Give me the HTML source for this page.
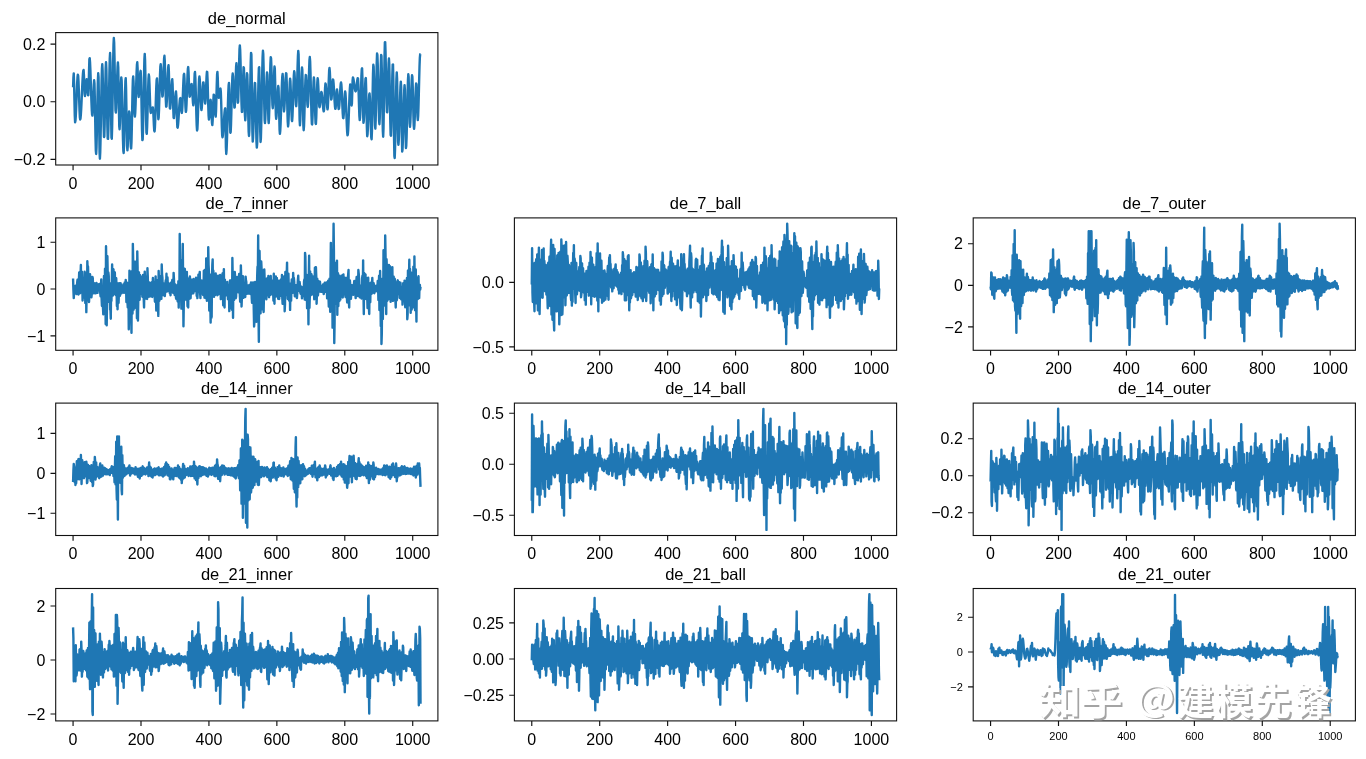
<!DOCTYPE html>
<html lang="zh">
<head>
<meta charset="utf-8">
<title>bearing signals</title>
<style>
html,body{margin:0;padding:0;background:#fff;}
body{width:1366px;height:759px;overflow:hidden;font-family:"Liberation Sans", "Noto Sans CJK SC", sans-serif;}
svg{display:block;will-change:transform;}
text{font-family:"Liberation Sans", "Noto Sans CJK SC", sans-serif;fill:#000;}
.ln{fill:none;stroke:#1f77b4;stroke-width:2.4;stroke-linejoin:round;stroke-linecap:butt;}
.fr{fill:none;stroke:#111;stroke-width:1.1;}
.tk{fill:none;stroke:#111;stroke-width:1.15;}
.tl{font-size:16px;}
.ts{font-size:11px;}
.tt{font-size:16.5px;}
.xm{text-anchor:middle;}
.ye{text-anchor:end;}
.wm{font-size:37px;font-family:"Noto Sans CJK SC","Liberation Sans",sans-serif;font-weight:700;}
.ws{fill:#a4a4a4;}
.wf{fill:#ffffff;}
</style>
</head>
<body>
<svg width="1366" height="759" viewBox="0 0 1366 759">
<rect width="1366" height="759" fill="#ffffff"/>
<g class="ax">
<path class="ln" d="M73.07 87.25L73.41 77.57L73.75 73.38L74.09 83.22L74.43 100.01L74.77 115.57L75.11 122.32L75.45 120.83L75.79 116.13L76.13 108.9L76.47 100.17L76.81 91.19L77.15 83.25L77.49 77.47L77.83 74.68L78.17 75.64L78.51 81.26L78.85 90.36L79.19 100.94L79.53 110.65L79.87 117.33L80.21 119.52L80.54 118.13L80.88 114.4L81.22 108.71L81.56 101.62L81.9 93.84L82.24 86.14L82.58 79.29L82.92 73.97L83.26 70.71L83.6 69.9L83.94 75.12L84.28 85.25L84.62 93.93L84.96 95.96L85.3 93.89L85.64 89.84L85.98 85.1L86.32 81.15L86.66 79.25L87 80.46L87.34 85.11L87.68 91L88.02 95.24L88.36 95.2L88.7 85.26L89.04 70.04L89.38 59.09L89.72 58.16L90.05 62.3L90.39 69.92L90.73 79.93L91.07 90.91L91.41 101.28L91.75 109.58L92.09 114.6L92.43 115.59L92.77 111.43L93.11 103L93.45 92.97L93.79 84.52L94.13 80.32L94.47 83.38L94.81 96.93L95.15 116.89L95.49 136.94L95.83 150.73L96.17 153.99L96.51 147.45L96.85 133.37L97.19 114.87L97.53 96.05L97.87 81.08L98.21 73.28L98.55 76.76L98.89 98.32L99.23 128.38L99.56 152.3L99.9 158.72L100.24 152.39L100.58 138.32L100.92 119.19L101.26 98.61L101.6 80.48L101.94 68.23L102.28 64.19L102.62 70.62L102.96 86.73L103.3 107.43L103.64 126.17L103.98 137.02L104.32 136.5L104.66 124.56L105 104.94L105.34 83.85L105.68 67.96L106.02 62.31L106.36 68.83L106.7 85.6L107.04 107.32L107.38 127.11L107.72 138.72L108.06 138.83L108.4 129.26L108.74 112.44L109.07 92.09L109.41 72.73L109.75 58.65L110.09 52.96L110.43 61.76L110.77 87.44L111.11 117.56L111.45 137.44L111.79 138.72L112.13 127.69L112.47 108.11L112.81 84.29L113.15 61.53L113.49 44.86L113.83 37.98L114.17 42.64L114.51 57.67L114.85 78.32L115.19 98.06L115.53 110.64L115.87 112.55L116.21 107.7L116.55 98.41L116.89 86.73L117.23 75.25L117.57 66.51L117.91 62.45L118.25 67.24L118.58 85.76L118.92 109.3L119.26 126.4L119.6 129.29L119.94 122.32L120.28 109.43L120.62 94.68L120.96 82.75L121.3 77.4L121.64 80.37L121.98 91.08L122.32 107.16L122.66 125.04L123 140.76L123.34 150.84L123.68 153.01L124.02 145.77L124.36 130.61L124.7 111.5L125.04 93.46L125.38 81.24L125.72 78.11L126.06 87.54L126.4 107.31L126.74 129.75L127.08 146.14L127.42 150.33L127.76 145.9L128.09 136.69L128.43 125.61L128.77 116.17L129.11 111.35L129.45 112.6L129.79 119.32L130.13 129.37L130.47 139.57L130.81 146.69L131.15 148.41L131.49 141.83L131.83 127.54L132.17 109.29L132.51 91.89L132.85 79.9L133.19 76.45L133.53 81.41L133.87 92.24L134.21 104.74L134.55 114.06L134.89 116.62L135.23 113.14L135.57 105.17L135.91 94.25L136.25 82.42L136.59 71.94L136.93 64.78L137.27 62.3L137.6 67.95L137.94 80.94L138.28 93.13L138.62 96.96L138.96 94.7L139.3 89.59L139.64 82.98L139.98 76.6L140.32 72.14L140.66 70.8L141 77.46L141.34 93.13L141.68 112.84L142.02 130.36L142.36 140.15L142.7 139.38L143.04 129.2L143.38 111.99L143.72 91.56L144.06 72.44L144.4 58.87L144.74 53.86L145.08 60L145.42 76.96L145.76 99.38L146.1 120.15L146.44 132.71L146.78 133.78L147.11 127.49L147.45 116.11L147.79 102.16L148.13 88.73L148.47 78.8L148.81 74.56L149.15 76.76L149.49 84.33L149.83 94.87L150.17 105.05L150.51 111.65L150.85 112.91L151.19 112.3L151.53 111.12L151.87 109.68L152.21 108.36L152.55 107.52L152.89 107.53L153.23 111.18L153.57 118.06L153.91 125.51L154.25 130.64L154.59 131.44L154.93 127.29L155.27 118.93L155.61 107.92L155.95 96.35L156.29 86.42L156.62 80.01L156.96 78.4L157.3 85L157.64 98.36L157.98 111.98L158.32 119.22L158.66 117.74L159 110.39L159.34 98.94L159.68 85.92L160.02 74.21L160.36 66.41L160.7 64.23L161.04 67.57L161.38 75.03L161.72 84.25L162.06 92.31L162.4 96.66L162.74 95.65L163.08 88.63L163.42 77.73L163.76 66.4L164.1 58.22L164.44 55.8L164.78 60.9L165.12 72.53L165.46 87L165.8 99.74L166.13 106.72L166.47 106.42L166.81 101.38L167.15 92.98L167.49 83.08L167.83 73.88L168.17 67.41L168.51 65.11L168.85 70.57L169.19 84.1L169.53 99.12L169.87 108.32L170.21 108.6L170.55 105.07L170.89 99.13L171.23 92.1L171.57 85.53L171.91 80.88L172.25 79.19L172.59 83.88L172.93 95.88L173.27 109.34L173.61 117.72L173.95 118.07L174.29 114.92L174.63 109.57L174.97 103.21L175.31 97.23L175.64 92.98L175.98 91.38L176.32 95.58L176.66 106.64L177 119.17L177.34 127.08L177.68 127.63L178.02 125.4L178.36 121.39L178.7 116.19L179.04 110.52L179.38 105.2L179.72 100.98L180.06 98.48L180.4 98.12L180.74 100.93L181.08 105.95L181.42 110.73L181.76 112.93L182.1 111.22L182.44 105.53L182.78 97.13L183.12 87.86L183.46 79.79L183.8 74.7L184.14 73.8L184.48 78.44L184.82 87.63L185.15 98.44L185.49 107.47L185.83 111.85L186.17 110.53L186.51 104.53L186.85 95.19L187.19 84.59L187.53 75.09L187.87 68.77L188.21 67.08L188.55 71.81L188.89 81.5L189.23 91.43L189.57 96.77L189.91 96.42L190.25 94L190.59 90.46L190.93 86.92L191.27 84.48L191.61 83.98L191.95 86.46L192.29 91.54L192.63 97.61L192.97 102.75L193.31 105.32L193.65 103.22L193.99 94.16L194.33 82.38L194.66 73.61L195 72.03L195.34 77.32L195.68 87.92L196.02 101.46L196.36 114.96L196.7 125.41L197.04 130.5L197.38 129.24L197.72 122.28L198.06 111.17L198.4 98.37L198.74 86.73L199.08 78.83L199.42 76.39L199.76 79.04L200.1 85.42L200.44 93.86L200.78 102.14L201.12 108.09L201.46 110.14L201.8 107.75L202.14 101.66L202.48 93.8L202.82 86.67L203.16 82.5L203.5 82.49L203.84 85.85L204.17 91.4L204.51 97.4L204.85 101.93L205.19 103.58L205.53 100.91L205.87 93.96L206.21 84.91L206.55 76.63L206.89 71.75L207.23 72.13L207.57 79.54L207.91 91.95L208.25 105.42L208.59 115.69L208.93 119.52L209.27 117.61L209.61 112.62L209.95 106.48L210.29 101.59L210.63 99.83L210.97 102.48L211.31 109.02L211.65 116.9L211.99 123.07L212.33 125.13L212.67 120.77L213.01 111.01L213.35 100.6L213.68 94.61L214.02 95.02L214.36 98.95L214.7 104.94L215.04 111.09L215.38 115.46L215.72 116.59L216.06 110.85L216.4 98.65L216.74 84.72L217.08 74.47L217.42 71.87L217.76 77.53L218.1 87.77L218.44 96.15L218.78 97.85L219.12 96.63L219.46 94.33L219.8 91.7L220.14 89.56L220.48 88.59L220.82 91.31L221.16 100.81L221.5 114.14L221.84 127.11L222.18 135.59L222.52 137.23L222.86 135.53L223.19 132.01L223.53 127.17L223.87 121.71L224.21 116.41L224.55 112.02L224.89 109.17L225.23 108.33L225.57 123.26L225.91 147.5L226.25 153.98L226.59 149.9L226.93 141.34L227.27 129.53L227.61 116.16L227.95 103.14L228.29 92.32L228.63 85.25L228.97 82.95L229.31 89.67L229.65 105.44L229.99 122.59L230.33 132.76L230.67 132.22L231.01 124.94L231.35 112.93L231.69 98.84L232.03 85.8L232.37 76.7L232.7 73.56L233.04 76.45L233.38 83.92L233.72 93.6L234.06 102.43L234.4 107.62L234.74 107.29L235.08 100.35L235.42 88.78L235.76 76.26L236.1 66.74L236.44 63.24L236.78 68.23L237.12 80.6L237.46 94.35L237.8 102.76L238.14 101.89L238.48 92.28L238.82 77.05L239.16 61.01L239.5 49.23L239.84 45.44L240.18 49.85L240.52 60.75L240.86 75.74L241.2 91.49L241.54 104.52L241.88 111.93L242.21 111.88L242.55 103.39L242.89 89.5L243.23 75.62L243.57 67.12L243.91 67.9L244.25 80.53L244.59 99.35L244.93 115.2L245.27 120.41L245.61 115.8L245.95 105.1L246.29 91.69L246.63 79.81L246.97 73.23L247.31 74.48L247.65 84.97L247.99 101.59L248.33 119.08L248.67 131.89L249.01 135.99L249.35 130.46L249.69 116.81L250.03 98.07L250.37 78.38L250.71 62.12L251.05 52.88L251.39 54.24L251.72 74.48L252.06 105.51L252.4 132.21L252.74 141.64L253.08 137.86L253.42 128.31L253.76 115.11L254.1 101.18L254.44 89.61L254.78 82.97L255.12 83.14L255.46 92.77L255.8 109.39L256.14 127.73L256.48 141.99L256.82 147.66L257.16 143.55L257.5 131.32L257.84 113.67L258.18 94.5L258.52 78.08L258.86 68.03L259.2 67.17L259.54 82.14L259.88 107.77L260.22 131.59L260.56 142L260.9 138.25L261.23 126.53L261.57 109.08L261.91 89.21L262.25 70.66L262.59 56.97L262.93 50.71L263.27 53.94L263.61 67.52L263.95 87.22L264.29 106.81L264.63 120.1L264.97 123.08L265.31 118.81L265.65 109.86L265.99 98.2L266.33 86.43L266.67 77.15L267.01 72.41L267.35 74.76L267.69 87.82L268.03 105.68L268.37 119.63L268.71 123.06L269.05 117.64L269.39 106.09L269.73 90.98L270.07 75.64L270.41 63.47L270.74 57.18L271.08 58.32L271.42 67.04L271.76 80.65L272.1 94.83L272.44 105.1L272.78 108.22L273.12 104.1L273.46 94.62L273.8 82.78L274.14 72.33L274.48 66.57L274.82 68.53L275.16 81.67L275.5 100.09L275.84 114.82L276.18 118.88L276.52 116.32L276.86 110.66L277.2 103.16L277.54 95.48L277.88 89.33L278.22 86.06L278.56 87.87L278.9 99.68L279.24 116.45L279.58 130.01L279.92 133.9L280.25 130.98L280.59 124.2L280.93 114.53L281.27 103.35L281.61 92.26L281.95 82.84L282.29 76.43L282.63 73.95L282.97 78.96L283.31 92.57L283.65 106.26L283.99 111.45L284.33 109.03L284.67 102.85L285.01 94.27L285.35 85.2L285.69 77.64L286.03 73.27L286.37 73.51L286.71 81.33L287.05 94.91L287.39 109.96L287.73 121.71L288.07 126.45L288.41 123.67L288.75 115.33L289.09 103.64L289.43 91.65L289.76 82.53L290.1 78.67L290.44 81.27L290.78 89.8L291.12 101.56L291.46 112.83L291.8 120.04L292.14 121.01L292.48 116.24L292.82 107.05L293.16 95.47L293.5 84.06L293.84 75.35L294.18 71.28L294.52 72.75L294.86 79.28L295.2 88.81L295.54 98.32L295.88 104.81L296.22 106.19L296.56 101.6L296.9 91.87L297.24 79.17L297.58 66.3L297.92 56.12L298.26 50.89L298.6 54.31L298.94 73.3L299.27 99.46L299.61 120.04L299.95 125.35L300.29 120.66L300.63 110.56L300.97 97.29L301.31 83.8L301.65 73.06L301.99 67.47L302.33 70.03L302.67 85.88L303.01 107.96L303.35 125.54L303.69 130.26L304.03 125.9L304.37 116.33L304.71 103.69L305.05 90.78L305.39 80.45L305.73 75L306.07 75.44L306.41 80.8L306.75 89.3L307.09 98.25L307.43 104.82L307.77 106.93L308.11 103.07L308.45 93.68L308.78 81.22L309.12 68.96L309.46 60.13L309.8 57.05L310.14 61.05L310.48 71.7L310.82 86.65L311.16 102.59L311.5 115.98L311.84 123.86L312.18 124.47L312.52 117.74L312.86 105.79L313.2 92.39L313.54 81.79L313.88 77.34L314.22 80.41L314.56 89.99L314.9 103.03L315.24 115.41L315.58 123.22L315.92 123.99L316.26 117.6L316.6 106.08L316.94 93.09L317.28 82.74L317.62 78.29L317.96 80.08L318.29 85.9L318.63 93.91L318.97 101.55L319.31 106.43L319.65 107.15L319.99 105.07L320.33 101.27L320.67 96.95L321.01 93.48L321.35 91.96L321.69 92.65L322.03 95.05L322.37 98.71L322.71 102.93L323.05 106.93L323.39 109.93L323.73 111.38L324.07 110.06L324.41 103.99L324.75 95.35L325.09 87.5L325.43 83.49L325.77 84.29L326.11 88.35L326.45 94.54L326.79 101.23L327.13 106.66L327.47 109.41L327.8 107.99L328.14 100.65L328.48 89.54L328.82 78.18L329.16 70.17L329.5 68.01L329.84 71.4L330.18 78.73L330.52 87.7L330.86 95.45L331.2 99.54L331.54 98.91L331.88 94.57L332.22 88.26L332.56 82.44L332.9 79.36L333.24 79.91L333.58 83.22L333.92 88.6L334.26 95.05L334.6 101.33L334.94 106.26L335.28 108.91L335.62 108.46L335.96 103.79L336.3 96.96L336.64 91.3L336.98 89.54L337.31 91.52L337.65 95.97L337.99 101.5L338.33 106.35L338.67 108.99L339.01 108.61L339.35 105.37L339.69 100.02L340.03 93.73L340.37 87.89L340.71 83.81L341.05 82.38L341.39 84.46L341.73 90.09L342.07 98.02L342.41 106.5L342.75 113.65L343.09 117.87L343.43 118.22L343.77 114.43L344.11 107.66L344.45 100.04L344.79 93.98L345.13 91.4L345.47 93.07L345.81 98.59L346.15 106.92L346.49 116.48L346.82 125.46L347.16 132.17L347.5 135.32L347.84 134.47L348.18 130.06L348.52 122.74L348.86 113.55L349.2 103.81L349.54 94.91L349.88 88.11L350.22 84.4L350.56 84.68L350.9 90.92L351.24 99.68L351.58 105.47L351.92 103.64L352.26 92.19L352.6 80.3L352.94 77.36L353.28 78.16L353.62 79.85L353.96 82.18L354.3 84.82L354.64 87.39L354.98 89.52L355.32 90.92L355.66 91.38L356 90.57L356.33 88.44L356.67 85.46L357.01 82.31L357.35 79.66L357.69 78.12L358.03 78.51L358.37 84.53L358.71 95.12L359.05 106.93L359.39 116.23L359.73 120.07L360.07 117.6L360.41 109.86L360.75 98.57L361.09 86.23L361.43 75.56L361.77 68.95L362.11 68.23L362.45 78.79L362.79 97.34L363.13 114.87L363.47 122.84L363.81 120.83L364.15 114.19L364.49 104.44L364.83 93.72L365.17 84.41L365.51 78.59L365.84 77.95L366.18 88.98L366.52 108.72L366.86 127.55L367.2 136.31L367.54 134.53L367.88 128.32L368.22 119.13L368.56 108.98L368.9 100.13L369.24 94.53L369.58 93.49L369.92 98.12L370.26 107.56L370.6 119.33L370.94 130.34L371.28 137.69L371.62 139.32L371.96 130.95L372.3 113.37L372.64 92.17L372.98 74.03L373.32 64.72L373.66 66.74L374 78.26L374.34 95.57L374.68 113.19L375.02 125.54L375.35 128.68L375.69 120.45L376.03 102.88L376.37 81.52L376.71 63.13L377.05 53.54L377.39 54.78L377.73 63.72L378.07 78.17L378.41 94.93L378.75 110.27L379.09 120.8L379.43 124.19L379.77 117.85L380.11 102.4L380.45 82.72L380.79 65.03L381.13 54.95L381.47 55.97L381.81 69.24L382.15 90.77L382.49 113.74L382.83 130.88L383.17 136.76L383.51 128.39L383.85 107.48L384.19 80.64L384.53 56.37L384.86 42.35L385.2 42.15L385.54 51.73L385.88 67.95L386.22 86.56L386.56 102.66L386.9 112.03L387.24 112.3L387.58 104.12L387.92 90.18L388.26 74.9L388.6 63.12L388.94 58.55L389.28 64.41L389.62 80.79L389.96 102.51L390.3 122.7L390.64 134.96L390.98 135.73L391.32 126.66L391.66 110.54L392 91.61L392.34 74.83L392.68 64.62L393.02 64.41L393.36 80.6L393.7 108.55L394.04 137.4L394.37 155.97L394.71 157.97L395.05 149.12L395.39 132.85L395.73 112.75L396.07 93.28L396.41 78.75L396.75 72.38L397.09 78.47L397.43 99.18L397.77 124.53L398.11 142.2L398.45 144.75L398.79 140.01L399.13 130.9L399.47 118.92L399.81 106.03L400.15 94.33L400.49 85.73L400.83 81.66L401.17 87.17L401.51 110.41L401.85 137.55L402.19 151.55L402.53 149.47L402.87 141.32L403.21 128.81L403.55 114.31L403.88 100.56L404.22 90.18L404.56 85.12L404.9 89.71L405.24 110.44L405.58 134.99L405.92 147.94L406.26 145.77L406.6 136.84L406.94 123.03L407.28 106.96L407.62 91.67L407.96 80.06L408.3 74.32L408.64 76.92L408.98 90.66L409.32 109.18L409.66 123.46L410 126.82L410.34 122.46L410.68 113.33L411.02 101.46L411.36 89.48L411.7 80.03L412.04 75.22L412.38 76.72L412.72 86.01L413.06 100.32L413.39 115.13L413.73 125.74L414.07 128.85L414.41 125.6L414.75 117.98L415.09 107.69L415.43 97.01L415.77 88.31L416.11 83.5L416.45 84.26L416.79 92.95L417.13 105.81L417.47 116.58L417.81 120.04L418.15 116.17L418.49 106.8L418.83 93.72L419.17 79.4L419.51 66.54L419.85 57.59L420.19 54.24L420.53 54.23"/>
<rect class="fr" x="55.7" y="32.6" width="382.2" height="132.4"/>
<path class="tk" d="M73.07 165v5.2M141 165v5.2M208.93 165v5.2M276.86 165v5.2M344.79 165v5.2M412.72 165v5.2M55.7 44.1h-5.2M55.7 101.7h-5.2M55.7 159.3h-5.2"/>
<text class="tl xm" x="73.07" y="188.6">0</text>
<text class="tl xm" x="141" y="188.6">200</text>
<text class="tl xm" x="208.93" y="188.6">400</text>
<text class="tl xm" x="276.86" y="188.6">600</text>
<text class="tl xm" x="344.79" y="188.6">800</text>
<text class="tl xm" x="412.72" y="188.6">1000</text>
<text class="tl ye" x="45.3" y="49.86">0.2</text>
<text class="tl ye" x="45.3" y="107.46">0.0</text>
<text class="tl ye" x="45.3" y="165.06">−0.2</text>
<text class="tt xm" x="246.8" y="23.7">de_normal</text>
</g>
<g class="ax">
<path class="ln" d="M73.07 278.48L73.41 289.84L73.75 298.13L74.09 293.38L74.43 292L74.77 288.13L75.11 286.78L75.45 285.8L75.79 286.74L76.13 292.07L76.47 294.04L76.81 291.21L77.15 282.98L77.49 279.8L77.83 282.17L78.17 291.42L78.51 294.53L78.85 281.79L79.19 272.5L79.53 279.95L79.87 293.4L80.21 289.77L80.54 274.15L80.88 265.01L81.22 292.58L81.56 292.41L81.9 271.81L82.24 280.31L82.58 300.46L82.92 291.37L83.26 280.36L83.6 285.63L83.94 297.6L84.28 293.07L84.62 271.63L84.96 280.64L85.3 302.87L85.64 296.76L85.98 273.93L86.32 312.16L86.66 291.21L87 298.28L87.34 261.27L87.68 270.15L88.02 266.49L88.36 279.27L88.7 298.48L89.04 302.01L89.38 293.3L89.72 279.91L90.05 274.32L90.39 278.44L90.73 288.89L91.07 295.21L91.41 297.24L91.75 294.44L92.09 283.79L92.43 276.97L92.77 278.05L93.11 288.05L93.45 293.05L93.79 293.29L94.13 289.14L94.47 283.72L94.81 283.33L95.15 287.19L95.49 293.31L95.83 293.25L96.17 287.89L96.51 283.02L96.85 286.1L97.19 292.04L97.53 292.88L97.87 287.5L98.21 284.43L98.55 286.39L98.89 290.23L99.23 289.01L99.56 283.9L99.9 284.91L100.24 293.19L100.58 296.25L100.92 286.9L101.26 279.46L101.6 298.44L101.94 305.99L102.28 291.97L102.62 287.5L102.96 307.4L103.3 314.4L103.64 290.15L103.98 276.04L104.32 305.41L104.66 306.19L105 268.76L105.34 279.12L105.68 324.07L106.02 246.3L106.36 267.52L106.7 325.25L107.04 300.73L107.38 256.31L107.72 273.59L108.06 301.64L108.4 272.51L108.74 276.01L109.07 301.9L109.41 290.56L109.75 283.18L110.09 309.69L110.43 309.53L110.77 318.71L111.11 289.9L111.45 300.98L111.79 282.75L112.13 264.45L112.47 290.98L112.81 295.61L113.15 269.09L113.49 269.26L113.83 293.93L114.17 290.3L114.51 274.48L114.85 272.48L115.19 287.69L115.53 295L115.87 285.38L116.21 278.28L116.55 287.11L116.89 306.03L117.23 300.24L117.57 309.35L117.91 283.42L118.25 296.32L118.58 302.87L118.92 291.95L119.26 283.19L119.6 287.22L119.94 295.73L120.28 293.08L120.62 283.11L120.96 285.98L121.3 293.36L121.64 292.13L121.98 286.17L122.32 287.48L122.66 292.45L123 290.39L123.34 284.41L123.68 288.86L124.02 292.88L124.36 285.13L124.7 282.55L125.04 292.05L125.38 292.45L125.72 279.86L126.06 285.16L126.4 301.93L126.74 288.79L127.08 282.78L127.42 300.56L127.76 307.53L128.09 286.07L128.43 288.52L128.77 329.22L129.11 309.18L129.45 270.6L129.79 303.21L130.13 320.05L130.47 288.48L130.81 278.79L131.15 316.82L131.49 332.74L131.83 271.18L132.17 290.92L132.51 313.49L132.85 243.87L133.19 261.16L133.53 309.65L133.87 283.37L134.21 261.45L134.55 308.23L134.89 299.79L135.23 263.52L135.57 291.26L135.91 301.53L136.25 261.55L136.59 271.44L136.93 318.14L137.27 251.35L137.6 267.11L137.94 320.58L138.28 299.59L138.62 274.5L138.96 272.38L139.3 297.98L139.64 299.74L139.98 275.07L140.32 277.07L140.66 292.45L141 293.88L141.34 282.03L141.68 276.83L142.02 286.74L142.36 296.76L142.7 292.05L143.04 274.9L143.38 278.76L143.72 298.65L144.06 307.48L144.4 285.85L144.74 271.64L145.08 281.64L145.42 298.67L145.76 295.16L146.1 277.67L146.44 276.44L146.78 293.5L147.11 299.04L147.45 268.19L147.79 276.76L148.13 290.98L148.47 296.79L148.81 285.16L149.15 282.55L149.49 292.99L149.83 296.59L150.17 285.38L150.51 283.15L150.85 293.54L151.19 291.99L151.53 282.38L151.87 285.21L152.21 296.99L152.55 288.85L152.89 277.99L153.23 288.38L153.57 294.22L153.91 286.44L154.25 282.39L154.59 294.96L154.93 301.8L155.27 287.46L155.61 276.34L155.95 294.3L156.29 310.56L156.62 297.51L156.96 280.32L157.3 286.43L157.64 302.8L157.98 303.34L158.32 315.9L158.66 270.96L159 282.34L159.34 300.82L159.68 299.07L160.02 285.55L160.36 276.12L160.7 279.16L161.04 292.8L161.38 298.87L161.72 264.45L162.06 274.33L162.4 277.35L162.74 289.48L163.08 295.01L163.42 291.72L163.76 283.37L164.1 284.06L164.44 290.42L164.78 296.15L165.12 292.53L165.46 282.94L165.8 280.18L166.13 285.14L166.47 273.8L166.81 291.61L167.15 279.24L167.49 277.49L167.83 285.63L168.17 291.04L168.51 290.43L168.85 285.11L169.19 283.61L169.53 287.5L169.87 293.34L170.21 291.07L170.55 295.32L170.89 282.79L171.23 287.99L171.57 292.09L171.91 287.97L172.25 279.96L172.59 279.84L172.93 291.75L173.27 292.87L173.61 272.87L173.95 278.85L174.29 288.36L174.63 295.02L174.97 289.99L175.31 284.47L175.64 288.35L175.98 297.93L176.32 298.95L176.66 286.84L177 285.42L177.34 296.04L177.68 301.45L178.02 298.62L178.36 281.25L178.7 307.48L179.04 283.02L179.38 295.36L179.72 233.95L180.06 265.94L180.4 260.07L180.74 271.27L181.08 295.53L181.42 308.66L181.76 308.43L182.1 285.72L182.44 269.1L182.78 243.87L183.12 282.12L183.46 326.19L183.8 303.51L184.14 294.83L184.48 268.69L184.82 268.82L185.15 278.92L185.49 295.29L185.83 299.66L186.17 291.17L186.51 276.36L186.85 271.86L187.19 291.57L187.53 306.24L187.87 298.23L188.21 307.48L188.55 278.74L188.89 292.95L189.23 298.85L189.57 286.92L189.91 276.57L190.25 285.7L190.59 298.18L190.93 288.75L191.27 279.78L191.61 286.4L191.95 293.63L192.29 284.65L192.63 279.62L192.97 290.94L193.31 293.39L193.65 279.01L193.99 282.82L194.33 291.44L194.66 285.92L195 280.41L195.34 290.03L195.68 290.51L196.02 277.62L196.36 285.8L196.7 296.04L197.04 281.72L197.38 298.13L197.72 292.41L198.06 286.44L198.4 274.74L198.74 290.72L199.08 291.77L199.42 275.79L199.76 271.93L200.1 292.29L200.44 298.13L200.78 283.7L201.12 292.43L201.46 280.79L201.8 280.48L202.14 293.5L202.48 287.75L202.82 280.85L203.16 295.07L203.5 293.25L203.84 270.67L204.17 282.37L204.51 297.66L204.85 276.87L205.19 269.75L205.53 298.03L205.87 295.04L206.21 258.35L206.55 273.59L206.89 300.69L207.23 277.57L207.57 258.08L207.91 293L208.25 247.24L208.59 265.07L208.93 271.57L209.27 310.43L209.61 293.8L209.95 274.41L210.29 301.83L210.63 322.45L210.97 277.76L211.31 282.74L211.65 317.38L211.99 279.39L212.33 264.55L212.67 259.4L213.01 295.22L213.35 270.77L213.68 291.31L214.02 296.92L214.36 275.23L214.7 275.78L215.04 295.12L215.38 285.19L215.72 273.4L216.06 291.99L216.4 292.9L216.74 276.66L217.08 282.74L217.42 295.34L217.76 281.68L218.1 275.68L218.44 294.39L218.78 290.17L219.12 275.59L219.46 285.49L219.8 290.5L220.14 274.86L220.48 277.72L220.82 299.13L221.16 284.33L221.5 276.09L221.84 291.93L222.18 291.78L222.52 273.48L222.86 286.77L223.19 305.29L223.53 281.4L223.87 269.13L224.21 296.83L224.55 307.48L224.89 279.58L225.23 289.08L225.57 295.59L225.91 285.22L226.25 283.05L226.59 292.97L226.93 292.08L227.27 281.92L227.61 286.7L227.95 299.12L228.29 294.97L228.63 285.14L228.97 294.62L229.31 311.11L229.65 296.14L229.99 280.56L230.33 294.25L230.67 308.13L231.01 297.08L231.35 280.17L231.69 281.78L232.03 309.86L232.37 257.9L232.7 275.69L233.04 317.77L233.38 281.69L233.72 298.99L234.06 299.97L234.4 284.21L234.74 271.83L235.08 275.51L235.42 290.34L235.76 298.25L236.1 296.63L236.44 283.98L236.78 277.59L237.12 277.03L237.46 284.88L237.8 291.66L238.14 292.21L238.48 287.93L238.82 277.82L239.16 273.96L239.5 279.17L239.84 295.53L240.18 301.78L240.52 292.53L240.86 265.39L241.2 277.7L241.54 306.55L241.88 297.82L242.21 297.09L242.55 282.68L242.89 276.18L243.23 285.65L243.57 297.88L243.91 295.88L244.25 286.05L244.59 282.99L244.93 287.51L245.27 296.99L245.61 276.61L245.95 280.37L246.29 281.72L246.63 291.66L246.97 293.79L247.31 288.38L247.65 285.5L247.99 287.49L248.33 293.67L248.67 293.51L249.01 287.35L249.35 285.06L249.69 287.94L250.03 293.69L250.37 294.06L250.71 287.01L251.05 282.35L251.39 283.57L251.72 297.82L252.06 302.88L252.4 299.51L252.74 287.35L253.08 282.43L253.42 288.56L253.76 309.79L254.1 326.49L254.44 321.37L254.78 294.27L255.12 281.91L255.46 283.21L255.8 299.94L256.14 316.85L256.48 321.83L256.82 311.31L257.16 276.94L257.5 266.68L257.84 277.4L258.18 235.45L258.52 315.42L258.86 341.72L259.2 262.66L259.54 250.97L259.88 272.47L260.22 312.08L260.56 313.3L260.9 280.98L261.23 261.45L261.57 268.2L261.91 306.55L262.25 309.29L262.59 279.73L262.93 270.66L263.27 288.25L263.61 312.08L263.95 295.95L264.29 269.54L264.63 278.88L264.97 294.86L265.31 290.62L265.65 278.63L265.99 281.83L266.33 299.32L266.67 293.28L267.01 278.51L267.35 282.27L267.69 293.56L268.03 287.77L268.37 276.02L268.71 290.58L269.05 297.22L269.39 282.31L269.73 282.4L270.07 295.17L270.41 288.83L270.74 276L271.08 293.38L271.42 294.32L271.76 280.4L272.1 291.05L272.44 294.15L272.78 281.18L273.12 291.67L273.46 300.77L273.8 273.8L274.14 291.91L274.48 303.74L274.82 279.51L275.16 293.16L275.5 294.87L275.84 276.49L276.18 296.44L276.52 293.73L276.86 277.93L277.2 295.45L277.54 291.18L277.88 283.7L278.22 298.68L278.56 289.76L278.9 280.64L279.24 299.03L279.58 289.62L279.92 282.25L280.25 295.99L280.59 291.26L280.93 279.55L281.27 295.74L281.61 294.26L281.95 275.05L282.29 297.87L282.63 303.87L282.97 281.37L283.31 285.91L283.65 302.15L283.99 286.47L284.33 276.24L284.67 311.22L285.01 304.12L285.35 272.06L285.69 275.53L286.03 294.48L286.37 291.32L286.71 274.8L287.05 262.58L287.39 290.95L287.73 298.93L288.07 280.07L288.41 273.64L288.75 287.09L289.09 300.59L289.43 298.55L289.76 283.5L290.1 309.91L290.44 289.01L290.78 299.82L291.12 300.72L291.46 285.13L291.8 279.35L292.14 281.51L292.48 290.59L292.82 292.77L293.16 272.87L293.5 280.88L293.84 277.92L294.18 281.48L294.52 290.96L294.86 296.37L295.2 293.89L295.54 288.57L295.88 285.2L296.22 285.24L296.56 291.07L296.9 298.13L297.24 293.76L297.58 285.36L297.92 279.69L298.26 275.68L298.6 288.59L298.94 290.91L299.27 288.44L299.61 281.96L299.95 285.1L300.29 292.5L300.63 293.74L300.97 289.6L301.31 286.77L301.65 290.39L301.99 298.37L302.33 294.21L302.67 287.48L303.01 289.96L303.35 295.7L303.69 293.88L304.03 281.52L304.37 279.5L304.71 299.6L305.05 252.85L305.39 256.38L305.73 281.82L306.07 299.97L306.41 280.38L306.75 274.96L307.09 308.13L307.43 305.32L307.77 278.97L308.11 288.72L308.45 324.32L308.78 277.16L309.12 255.66L309.46 307.88L309.8 296.76L310.14 271.38L310.48 288.07L310.82 295.25L311.16 275.39L311.5 274.07L311.84 294.19L312.18 286.59L312.52 276.25L312.86 292.64L313.2 294.54L313.54 278L313.88 280.22L314.22 299.2L314.56 288.52L314.9 267.73L315.24 289.69L315.58 298.51L315.92 267.26L316.26 275.97L316.6 303.74L316.94 293.46L317.28 278.8L317.62 281.83L317.96 295.43L318.29 291.36L318.63 281.31L318.97 283.97L319.31 291.54L319.65 289.23L319.99 281.75L320.33 286.03L320.67 291.8L321.01 291.01L321.35 285.84L321.69 286.75L322.03 291.88L322.37 291.93L322.71 287.31L323.05 284.43L323.39 288.12L323.73 294.13L324.07 292.19L324.41 285.04L324.75 282.68L325.09 287.66L325.43 291.82L325.77 290.83L326.11 284.78L326.45 282.55L326.79 287.33L327.13 298.38L327.47 296.48L327.8 283.42L328.14 280.79L328.48 296.5L328.82 306.63L329.16 294.99L329.5 278.73L329.84 286.65L330.18 311.7L330.52 274.89L330.86 242.87L331.2 293.28L331.54 304.18L331.88 250.92L332.22 269.78L332.56 327.65L332.9 257.93L333.24 258.3L333.58 223.66L333.92 250.8L334.26 343.03L334.6 322.27L334.94 262.71L335.28 283.55L335.62 303.62L335.96 266.6L336.3 295.61L336.64 297.14L336.98 260.59L337.31 314.83L337.65 283.27L337.99 273.13L338.33 305.96L338.67 277.09L339.01 279.97L339.35 300.96L339.69 275.64L340.03 281.03L340.37 299.52L340.71 276.34L341.05 277.59L341.39 293.45L341.73 284.05L342.07 275.52L342.41 293.31L342.75 297.48L343.09 277.39L343.43 274.53L343.77 292.7L344.11 294.33L344.45 278.88L344.79 277.55L345.13 292.69L345.47 296.98L345.81 288.27L346.15 278.03L346.49 281.59L346.82 296.25L347.16 302.51L347.5 290.54L347.84 278.13L348.18 274.35L348.52 270.06L348.86 301.1L349.2 307.48L349.54 283.98L349.88 280.34L350.22 284.53L350.56 295L350.9 298.89L351.24 294.86L351.58 286.48L351.92 285.23L352.26 286.03L352.6 289.78L352.94 293.35L353.28 294.73L353.62 291.3L353.96 283.78L354.3 280.98L354.64 282.02L354.98 288.31L355.32 292.97L355.66 298.13L356 289.33L356.33 280.7L356.67 276.87L357.01 279.1L357.35 289.81L357.69 295.95L358.03 290.54L358.37 270.06L358.71 273.29L359.05 278.47L359.39 290.55L359.73 297.41L360.07 294.41L360.41 286.5L360.75 285.68L361.09 290.28L361.43 298.49L361.77 297.26L362.11 278.38L362.45 275.78L362.79 290.45L363.13 260.33L363.47 293.75L363.81 314.03L364.15 272.99L364.49 296.49L364.83 298.88L365.17 276.21L365.51 274.35L365.84 294.7L366.18 299.16L366.52 283.05L366.86 278.47L367.2 295.52L367.54 308.06L367.88 284.33L368.22 277.81L368.56 303.42L368.9 306.38L369.24 314.03L369.58 283.62L369.92 298.11L370.26 302.25L370.6 284.94L370.94 282.6L371.28 293.55L371.62 293.84L371.96 283.09L372.3 277.87L372.64 288.52L372.98 292.63L373.32 287.9L373.66 283.22L374 286.93L374.34 293.22L374.68 289.97L375.02 286.05L375.35 287.8L375.69 291.08L376.03 291.24L376.37 285.7L376.71 285.86L377.05 291.09L377.39 289.15L377.73 280.84L378.07 285.17L378.41 299.97L378.75 286.78L379.09 275.77L379.43 309.93L379.77 309.85L380.11 270.91L380.45 297.73L380.79 325.99L381.13 279.58L381.47 343.96L381.81 333.44L382.15 291.34L382.49 278.68L382.83 318.92L383.17 301.81L383.51 250.28L383.85 305.82L384.19 300.43L384.53 252.71L384.86 294.7L385.2 235.45L385.54 254.57L385.88 281.21L386.22 314.06L386.56 259.2L386.9 269.35L387.24 300.74L387.58 272.39L387.92 265.95L388.26 299.53L388.6 287.04L388.94 264.93L389.28 294.37L389.62 294.23L389.96 266.17L390.3 283.76L390.64 301.81L390.98 274.71L391.32 271.05L391.66 299.3L392 288.44L392.34 267.08L392.68 287.73L393.02 300.86L393.36 279.34L393.7 276.66L394.04 299.93L394.37 298.57L394.71 278.64L395.05 282.08L395.39 299.4L395.73 307.48L396.07 282.98L396.41 283.68L396.75 300.18L397.09 298.27L397.43 281.27L397.77 280.28L398.11 291.69L398.45 294.12L398.79 285.66L399.13 282.22L399.47 289.11L399.81 298.03L400.15 292.07L400.49 282.78L400.83 287.82L401.17 299.28L401.51 298.01L401.85 287.21L402.19 287.18L402.53 304.67L402.87 300.4L403.21 283.29L403.55 284.9L403.88 298.71L404.22 296.32L404.56 280.61L404.9 286.31L405.24 307.27L405.58 289.51L405.92 280.58L406.26 304.6L406.6 302.27L406.94 277.92L407.28 319.27L407.62 314.6L407.96 270.47L408.3 290.61L408.64 305.31L408.98 275.89L409.32 259.77L409.66 304.75L410 269.03L410.34 283.21L410.68 312.73L411.02 272.35L411.36 284.69L411.7 309.47L412.04 283.55L412.38 282.79L412.72 307.57L413.06 285.02L413.39 266.61L413.73 307.13L414.07 304.24L414.41 256.41L414.75 284.56L415.09 310.14L415.43 286.24L415.77 269.56L416.11 302.13L416.45 321.51L416.79 281.78L417.13 279.13L417.47 298.81L417.81 298.96L418.15 277.73L418.49 276.28L418.83 293.46L419.17 298.11L419.51 286.53L419.85 284.96L420.19 289.57L420.53 286.74"/>
<rect class="fr" x="55.7" y="217.9" width="382.2" height="132.4"/>
<path class="tk" d="M73.07 350.3v5.2M141 350.3v5.2M208.93 350.3v5.2M276.86 350.3v5.2M344.79 350.3v5.2M412.72 350.3v5.2M55.7 242.2h-5.2M55.7 289h-5.2M55.7 335.8h-5.2"/>
<text class="tl xm" x="73.07" y="373.9">0</text>
<text class="tl xm" x="141" y="373.9">200</text>
<text class="tl xm" x="208.93" y="373.9">400</text>
<text class="tl xm" x="276.86" y="373.9">600</text>
<text class="tl xm" x="344.79" y="373.9">800</text>
<text class="tl xm" x="412.72" y="373.9">1000</text>
<text class="tl ye" x="45.3" y="247.96">1</text>
<text class="tl ye" x="45.3" y="294.76">0</text>
<text class="tl ye" x="45.3" y="341.56">−1</text>
<text class="tt xm" x="246.8" y="209">de_7_inner</text>
</g>
<g class="ax">
<path class="ln" d="M531.77 284.58L532.11 248.17L532.45 292.35L532.79 302.03L533.13 272.49L533.47 263.89L533.81 285.22L534.15 301.66L534.49 311.22L534.83 263.07L535.17 286.84L535.51 299.56L535.85 266.13L536.19 259.31L536.53 303.26L536.87 298.53L537.21 254.57L537.55 284.56L537.89 310.33L538.23 264.22L538.57 262.82L538.91 247.61L539.24 286.25L539.58 314.03L539.92 293.34L540.26 297.61L540.6 259.98L540.94 266.54L541.28 297.39L541.62 277.48L541.96 250.04L542.3 287.96L542.64 297.7L542.98 256.99L543.32 252.63L543.66 248.55L544 288.41L544.34 260.85L544.68 267.31L545.02 291.14L545.36 284.46L545.7 264.84L546.04 275.25L546.38 294.43L546.72 275.81L547.06 267.14L547.4 297.18L547.74 308.22L548.08 263.12L548.42 262.51L548.75 304.84L549.09 295.26L549.43 256.76L549.77 277.04L550.11 306.02L550.45 268.22L550.79 251.74L551.13 239.75L551.47 314.39L551.81 255.67L552.15 254.83L552.49 319.7L552.83 314.36L553.17 244.85L553.51 257.41L553.85 322.62L554.19 330.49L554.53 248.86L554.87 263.57L555.21 310.77L555.55 299.99L555.89 262.28L556.23 268.93L556.57 311.41L556.91 303.94L557.25 255.35L557.59 261.26L557.93 311.11L558.26 306.74L558.6 252.83L558.94 255.26L559.28 324.32L559.62 310.66L559.96 258.89L560.3 251.59L560.64 298.86L560.98 315.07L561.32 239.57L561.66 247.62L562 264.48L562.34 314.46L562.68 306.03L563.02 250.09L563.36 245.92L563.7 289.14L564.04 297.25L564.38 269.67L564.72 245.41L565.06 266.22L565.4 305.28L565.74 291.76L566.08 242L566.42 260.57L566.76 295.55L567.1 289.97L567.44 255.7L567.77 261.53L568.11 292.98L568.45 291.1L568.79 264.76L569.13 267.07L569.47 292.81L569.81 292.56L570.15 267.87L570.49 266.31L570.83 296.27L571.17 300.37L571.51 262.83L571.85 305.61L572.19 289.47L572.53 301.91L572.87 272.72L573.21 252.9L573.55 265.96L573.89 245.18L574.23 288.63L574.57 258.47L574.91 260.8L575.25 295.07L575.59 303.07L575.93 274.17L576.27 262.92L576.61 277.68L576.95 294.32L577.28 289.81L577.62 271.51L577.96 273.85L578.3 289.53L578.64 290.34L578.98 273.03L579.32 267.01L579.66 284.58L580 291.01L580.34 256.03L580.68 258.41L581.02 297.19L581.36 294.32L581.7 266.67L582.04 263.37L582.38 287.8L582.72 286.46L583.06 268.18L583.4 278.7L583.74 292.53L584.08 273.4L584.42 274.03L584.76 300.12L585.1 278.51L585.44 273.44L585.78 304.67L586.12 279.54L586.46 270.83L586.79 292.01L587.13 277.96L587.47 272.25L587.81 291.3L588.15 276.24L588.49 266.73L588.83 295.64L589.17 281.6L589.51 262.58L589.85 292.82L590.19 290.75L590.53 251.91L590.87 273.11L591.21 304.3L591.55 271.86L591.89 257.69L592.23 282.45L592.57 295.91L592.91 282.07L593.25 264.63L593.59 269.78L593.93 294.14L594.27 296.71L594.61 275.25L594.95 267.41L595.29 272.05L595.63 294.3L595.97 296.36L596.3 275.11L596.64 253.16L596.98 258.85L597.32 300.53L597.66 243.5L598 271.3L598.34 311.22L598.68 264.08L599.02 296.83L599.36 292.67L599.7 258.38L600.04 253.52L600.38 287.62L600.72 297.57L601.06 279.68L601.4 260.64L601.74 274.76L602.08 302.73L602.42 299.29L602.76 274.11L603.1 271.5L603.44 293.98L603.78 301.01L604.12 292.48L604.46 270.57L604.8 273.27L605.14 295.86L605.48 299.63L605.81 287.23L606.15 274.44L606.49 276.84L606.83 295.35L607.17 295.64L607.51 272.26L607.85 265.87L608.19 289.81L608.53 299.77L608.87 269.33L609.21 257.54L609.55 283.37L609.89 255.1L610.23 267.66L610.57 263.9L610.91 286.22L611.25 287.58L611.59 269.33L611.93 272.47L612.27 291.38L612.61 285.48L612.95 273.13L613.29 282.12L613.63 288.18L613.97 273.07L614.31 268.7L614.65 282.26L614.99 280.95L615.32 267.07L615.66 264.45L616 285.43L616.34 273.17L616.68 270.01L617.02 286.58L617.36 285.86L617.7 272.17L618.04 284.05L618.38 289.99L618.72 274.35L619.06 293.45L619.4 290.45L619.74 277.64L620.08 275.94L620.42 290.72L620.76 278.88L621.1 272.64L621.44 294.16L621.78 284.17L622.12 265.19L622.46 287.87L622.8 252.29L623.14 255.52L623.48 283.53L623.82 291.76L624.16 258.9L624.5 265.53L624.83 300.25L625.17 276.28L625.51 260.99L625.85 293.63L626.19 300.26L626.53 264.73L626.87 265.07L627.21 295.15L627.55 290.7L627.89 256.1L628.23 271.97L628.57 255.1L628.91 284.35L629.25 310.29L629.59 289.59L629.93 302.58L630.27 274.09L630.61 270.22L630.95 298.27L631.29 296.33L631.63 274.3L631.97 279.79L632.31 295.03L632.65 280.92L632.99 273.24L633.33 289.95L633.67 289.81L634.01 272.15L634.34 278.59L634.68 292.1L635.02 275.5L635.36 272.51L635.7 296.6L636.04 287.51L636.38 266.95L636.72 293.08L637.06 293.62L637.4 269.1L637.74 300L638.08 294.48L638.42 269.44L638.76 267.12L639.1 292.73L639.44 254.53L639.78 256.73L640.12 289.32L640.46 296.33L640.8 262.38L641.14 268.61L641.48 298.24L641.82 284.22L642.16 268.82L642.5 287.48L642.84 300.93L643.18 269.89L643.52 265.84L643.85 295.65L644.19 294.39L644.53 260.66L644.87 262.26L645.21 297.43L645.55 246.68L645.89 253.31L646.23 300.93L646.57 289.36L646.91 285.21L647.25 261.23L647.59 269.45L647.93 290.56L648.27 287.11L648.61 269.87L648.95 274.66L649.29 292.71L649.63 288.62L649.97 267.23L650.31 275.04L650.65 303.22L650.99 290.26L651.33 264.42L651.67 276.85L652.01 298L652.35 285L652.69 254.53L653.03 282.39L653.36 310.29L653.7 278.83L654.04 268.22L654.38 282.91L654.72 296.49L655.06 276.9L655.4 269.74L655.74 284.62L656.08 294.07L656.42 275.65L656.76 270.03L657.1 284.97L657.44 288.59L657.78 271.22L658.12 269.81L658.46 290.09L658.8 289.65L659.14 272.44L659.48 279.88L659.82 300.67L660.16 280.64L660.5 272.41L660.84 304.67L661.18 293.81L661.52 261.43L661.86 270.4L662.2 295.97L662.54 252.66L662.87 255.64L663.21 287.32L663.55 293.93L663.89 264.95L664.23 265.7L664.57 287.85L664.91 287.76L665.25 270.49L665.59 269.37L665.93 282.1L666.27 285.61L666.61 277.2L666.95 270.83L667.29 276.99L667.63 293.6L667.97 293.42L668.31 272.04L668.65 266.99L668.99 286.17L669.33 291.69L669.67 282.92L670.01 261.8L670.35 266.85L670.69 251.73L671.03 289.62L671.37 300.93L671.71 257.67L672.05 290.36L672.38 296.53L672.72 268.82L673.06 263.69L673.4 282.22L673.74 290.82L674.08 283.07L674.42 266.42L674.76 272.11L675.1 299.3L675.44 298.47L675.78 270.84L676.12 266.16L676.46 284.01L676.8 304.97L677.14 298.26L677.48 266.42L677.82 260.37L678.16 276.24L678.5 297.35L678.84 296.43L679.18 274.86L679.52 267.62L679.86 272.7L680.2 301.15L680.54 308.75L680.88 286.98L681.22 254.16L681.56 260.06L681.89 310.29L682.23 299.28L682.57 281.52L682.91 260.23L683.25 266.1L683.59 289.52L683.93 254.16L684.27 269.6L684.61 263.95L684.95 274.34L685.29 291.15L685.63 289.16L685.97 270.84L686.31 270.58L686.65 287.74L686.99 296.22L687.33 289.41L687.67 268.59L688.01 269.69L688.35 286.68L688.69 293.33L689.03 285.65L689.37 261.84L689.71 254.89L690.05 245.74L690.39 295.12L690.73 307.48L691.07 253.27L691.4 257.64L691.74 291.77L692.08 297.4L692.42 276.42L692.76 268.96L693.1 274.5L693.44 292.34L693.78 288.82L694.12 271.32L694.46 270.09L694.8 286.49L695.14 289.97L695.48 268.08L695.82 259.69L696.16 258.84L696.5 292.06L696.84 277.43L697.18 259.65L697.52 273.39L697.86 301.16L698.2 295.42L698.54 269.79L698.88 271.53L699.22 298.02L699.56 302.69L699.9 282.98L700.24 266.2L700.58 272.15L700.91 316.46L701.25 297.31L701.59 273.91L701.93 255.74L702.27 260.02L702.61 248.55L702.95 297.18L703.29 285.49L703.63 264.53L703.97 265.47L704.31 283.26L704.65 294.67L704.99 292L705.33 275.36L705.67 272.01L706.01 280.16L706.35 300.93L706.69 290.2L707.03 268.41L707.37 269.01L707.71 287.88L708.05 294.99L708.39 274.1L708.73 266.04L709.07 274.51L709.41 287.65L709.75 277.02L710.09 263.05L710.42 272.29L710.76 252.66L711.1 270.39L711.44 256.4L711.78 283.56L712.12 293.28L712.46 268.4L712.8 263.29L713.14 291.17L713.48 294.28L713.82 273.18L714.16 272.52L714.5 292.83L714.84 291.53L715.18 270.44L715.52 273.24L715.86 294.65L716.2 288.79L716.54 263.63L716.88 274.54L717.22 296.95L717.56 274.07L717.9 259.04L718.24 292.48L718.58 299.65L718.92 263.49L719.26 265.22L719.6 300.13L719.93 280.48L720.27 256.75L720.61 283.82L720.95 289.95L721.29 255.51L721.63 253.4L721.97 240.69L722.31 288.18L722.65 246.68L722.99 280.63L723.33 311.68L723.67 274.34L724.01 262.3L724.35 291.37L724.69 313.65L725.03 280.47L725.37 267.11L725.71 277.08L726.05 293.86L726.39 288.4L726.73 258.23L727.07 260.76L727.41 297.24L727.75 295.33L728.09 245.74L728.43 261.26L728.77 292.06L729.11 290.91L729.44 266.47L729.78 275.39L730.12 306.05L730.46 275.22L730.8 266.18L731.14 305.64L731.48 309.35L731.82 261.22L732.16 302.42L732.5 291.99L732.84 263.85L733.18 298.36L733.52 255.1L733.86 262.91L734.2 296.79L734.54 286.33L734.88 266.15L735.22 294.22L735.56 287.7L735.9 266.71L736.24 291.38L736.58 290.16L736.92 269.74L737.26 286.68L737.6 292.69L737.94 278.42L738.28 280.42L738.62 294.91L738.95 287.17L739.29 299.06L739.63 286.98L739.97 289.23L740.31 269.95L740.65 268.84L740.99 291.04L741.33 278.82L741.67 252.66L742.01 278.48L742.35 282.82L742.69 262.5L743.03 268.29L743.37 285.06L743.71 275.15L744.05 272.37L744.39 287.73L744.73 284.96L745.07 289.71L745.41 285.23L745.75 284.7L746.09 272.29L746.43 280.54L746.77 284.28L747.11 271.63L747.45 273.32L747.79 284.68L748.13 275.07L748.46 269.1L748.8 286.88L749.14 287.91L749.48 267.57L749.82 270.49L750.16 288.28L750.5 282.12L750.84 262.79L751.18 271.77L751.52 288.7L751.86 280.06L752.2 259.88L752.54 273.84L752.88 296.07L753.22 274.84L753.56 262.49L753.9 287.85L754.24 299.29L754.58 268.39L754.92 265.79L755.26 296.18L755.6 256.97L755.94 258.39L756.28 307.48L756.62 294.38L756.96 266.06L757.3 288.58L757.64 294.14L757.97 275.56L758.31 290.68L758.65 293.77L758.99 276.12L759.33 293.38L759.67 292.12L760.01 272.48L760.35 294.09L760.69 289.48L761.03 265.18L761.37 294.82L761.71 291.21L762.05 264.95L762.39 302.8L762.73 295.33L763.07 262.61L763.41 267.11L763.75 301.22L764.09 282.71L764.43 247.61L764.77 279.57L765.11 303.42L765.45 277.9L765.79 256.22L766.13 276.05L766.47 299.17L766.81 293.41L767.15 268.1L767.48 310.29L767.82 294.03L768.16 294.8L768.5 269.93L768.84 258.22L769.18 278.48L769.52 300.34L769.86 290.94L770.2 255.98L770.54 263.83L770.88 299.72L771.22 297.29L771.56 245.18L771.9 261.75L772.24 291.27L772.58 288.97L772.92 260.78L773.26 270.54L773.6 299.43L773.94 271.46L774.28 258.73L774.62 309.35L774.96 297.41L775.3 259.44L775.64 290.96L775.98 297.42L776.32 267.6L776.66 275.97L776.99 300.93L777.33 270.16L777.67 268.49L778.01 302.87L778.35 278.3L778.69 260.81L779.03 313.09L779.37 300.91L779.71 251.34L780.05 291.13L780.39 310.19L780.73 258.99L781.07 261.28L781.41 306.12L781.75 285.81L782.09 247.27L782.43 297.96L782.77 315.33L783.11 250.06L783.45 241.34L783.79 319.81L784.13 321.2L784.47 234.87L784.81 239.99L785.15 327.23L785.49 326.21L785.83 240.7L786.17 343.96L786.5 305.74L786.84 324.72L787.18 223.66L787.52 233.65L787.86 250.74L788.2 313.91L788.54 311.15L788.88 256.68L789.22 241.32L789.56 264.35L789.9 306.58L790.24 299.08L790.58 248.76L790.92 245.67L791.26 297.13L791.6 312.25L791.94 273.23L792.28 253.27L792.62 272.93L792.96 311.33L793.3 290.8L793.64 246.12L793.98 264.16L794.32 233.21L794.66 291.72L795 236.14L795.34 267.08L795.68 323.3L796.01 291.32L796.35 242.82L796.69 275.44L797.03 323.8L797.37 328.06L797.71 246.36L798.05 270.29L798.39 314.87L798.73 295.29L799.07 248.43L799.41 259.89L799.75 312.75L800.09 302.43L800.43 248.21L800.77 251.72L801.11 295.2L801.45 296.02L801.79 267.36L802.13 261.41L802.47 280.38L802.81 292.86L803.15 287.16L803.49 271.68L803.83 273.85L804.17 284.36L804.51 286.36L804.85 285.19L805.19 278.44L805.52 278.34L805.86 284.1L806.2 287.73L806.54 286.78L806.88 276.56L807.22 270.39L807.56 284.48L807.9 296.34L808.24 288.88L808.58 262.64L808.92 266.97L809.26 301.73L809.6 297.96L809.94 257.66L810.28 263.86L810.62 308.72L810.96 290.52L811.3 247.82L811.64 246.68L811.98 311.92L812.32 329L812.66 271.66L813 316.17L813.34 261.86L813.68 262.98L814.02 299.47L814.36 263.5L814.7 255.23L815.03 295.35L815.37 262.18L815.71 252.61L816.05 291.48L816.39 241.44L816.73 258.43L817.07 293.76L817.41 266.2L817.75 257.87L818.09 302.81L818.43 264.9L818.77 262.89L819.11 302.03L819.45 304.67L819.79 267.74L820.13 296.93L820.47 270.23L820.81 267.44L821.15 299.74L821.49 254.16L821.83 264.32L822.17 300.22L822.51 286.18L822.85 259.33L823.19 298.03L823.53 296.12L823.87 260.15L824.21 288.17L824.54 295.67L824.88 262.06L825.22 276.41L825.56 297.86L825.9 260.81L826.24 270.87L826.58 307.16L826.92 254.06L827.26 246.68L827.6 304.5L827.94 252.95L828.28 278.11L828.62 304.42L828.96 259.92L829.3 289.28L829.64 304.04L829.98 317.77L830.32 289.99L830.66 302.94L831 262.04L831.34 282.03L831.68 306.2L832.02 267.71L832.36 272.66L832.7 304.78L833.04 274.35L833.38 266.6L833.72 293.92L834.05 289.88L834.39 269.08L834.73 284.44L835.07 295.35L835.41 267.32L835.75 261.77L836.09 299.88L836.43 292.31L836.77 252.73L837.11 280.41L837.45 303.12L837.79 245.18L838.13 254.81L838.47 307.48L838.81 290.13L839.15 258.53L839.49 282.1L839.83 295.83L840.17 269.44L840.51 268.62L840.85 300.96L841.19 285.13L841.53 260.95L841.87 296.21L842.21 294.35L842.55 259.11L842.89 294.72L843.23 299.29L843.56 257.01L843.9 309.35L844.24 301.49L844.58 262.17L844.92 296.33L845.26 292.45L845.6 259.13L845.94 293.04L846.28 285.39L846.62 256.5L846.96 243.31L847.3 282.21L847.64 254.58L847.98 298.83L848.32 287.35L848.66 264.95L849 295.12L849.34 292.62L849.68 273.63L850.02 288.23L850.36 294.48L850.7 274.81L851.04 274.76L851.38 294.76L851.72 287.54L852.06 271L852.4 279.6L852.74 291.37L853.07 273.35L853.41 264.79L853.75 288.28L854.09 292.33L854.43 271.03L854.77 272.98L855.11 297.77L855.45 289.85L855.79 269.14L856.13 289.48L856.47 303.64L856.81 271.02L857.15 270.31L857.49 301.16L857.83 280.92L858.17 256.62L858.51 300.05L858.85 301L859.19 253.81L859.53 292.95L859.87 309.83L860.21 261.65L860.55 269.94L860.89 249.48L861.23 271.39L861.57 314.03L861.91 297.84L862.25 294.85L862.58 261.1L862.92 269.87L863.26 298.72L863.6 287.38L863.94 253.87L864.28 266.11L864.62 302.65L864.96 298.74L865.3 267.02L865.64 263.98L865.98 278.25L866.32 295.09L866.66 291.23L867 272.94L867.34 266.68L867.68 271.32L868.02 288.66L868.36 289.72L868.7 279.52L869.04 271.38L869.38 274.56L869.72 289.18L870.06 289.07L870.4 275.35L870.74 272.55L871.08 280.95L871.42 284.86L871.76 275.73L872.09 270.24L872.43 284.76L872.77 290.15L873.11 273.46L873.45 272.34L873.79 290.55L874.13 288.5L874.47 272.8L874.81 278.86L875.15 290.66L875.49 277.93L875.83 271.28L876.17 287.17L876.51 289.86L876.85 271.12L877.19 270.75L877.53 295.61L877.87 292.08L878.21 260.71L878.55 272.17L878.89 299.06L879.23 288.58"/>
<rect class="fr" x="514.4" y="217.9" width="382.2" height="132.4"/>
<path class="tk" d="M531.77 350.3v5.2M599.7 350.3v5.2M667.63 350.3v5.2M735.56 350.3v5.2M803.49 350.3v5.2M871.42 350.3v5.2M514.4 282.3h-5.2M514.4 346.9h-5.2"/>
<text class="tl xm" x="531.77" y="373.9">0</text>
<text class="tl xm" x="599.7" y="373.9">200</text>
<text class="tl xm" x="667.63" y="373.9">400</text>
<text class="tl xm" x="735.56" y="373.9">600</text>
<text class="tl xm" x="803.49" y="373.9">800</text>
<text class="tl xm" x="871.42" y="373.9">1000</text>
<text class="tl ye" x="504" y="288.06">0.0</text>
<text class="tl ye" x="504" y="352.66">−0.5</text>
<text class="tt xm" x="705.5" y="209">de_7_ball</text>
</g>
<g class="ax">
<path class="ln" d="M990.57 286.54L990.91 289.36L991.25 272.49L991.59 273.09L991.93 280.92L992.27 294.69L992.61 294.62L992.95 281.16L993.29 277.55L993.63 284.63L993.97 296.43L994.31 298.69L994.65 281.55L994.99 277.51L995.33 282.87L995.67 291.22L996.01 290.32L996.35 282.23L996.69 280.15L997.03 282.93L997.37 288.76L997.71 287.85L998.04 281.2L998.38 279.25L998.72 283.3L999.06 288.66L999.4 287.61L999.74 280.28L1000.08 279.21L1000.42 285.79L1000.76 288.65L1001.1 286L1001.44 279.69L1001.78 280.81L1002.12 289.69L1002.46 291.42L1002.8 281.69L1003.14 277.47L1003.48 285.77L1003.82 292.7L1004.16 288.72L1004.5 278.53L1004.84 281.17L1005.18 295.32L1005.52 291.34L1005.86 278.29L1006.2 279.52L1006.54 291.82L1006.88 275.3L1007.22 276.72L1007.55 282.47L1007.89 290.67L1008.23 282.45L1008.57 280.79L1008.91 287.56L1009.25 286.07L1009.59 282.02L1009.93 286.83L1010.27 287.55L1010.61 276.93L1010.95 286.37L1011.29 287.97L1011.63 270.17L1011.97 291.03L1012.31 295.07L1012.65 255.16L1012.99 300.17L1013.33 295.82L1013.67 244.04L1014.01 301.54L1014.35 294.56L1014.69 230.21L1015.03 306.16L1015.37 310.72L1015.71 261.82L1016.05 307.43L1016.39 332.74L1016.73 254.8L1017.06 271.57L1017.4 313.96L1017.74 273.7L1018.08 261.87L1018.42 305.17L1018.76 307.79L1019.1 260.09L1019.44 266.36L1019.78 311.62L1020.12 318.71L1020.46 261.12L1020.8 277.84L1021.14 306.13L1021.48 289.24L1021.82 270.06L1022.16 284.64L1022.5 303.07L1022.84 279.92L1023.18 269.59L1023.52 291.31L1023.86 295.03L1024.2 277.88L1024.54 277.33L1024.88 291.9L1025.22 289.32L1025.56 278.05L1025.9 282.45L1026.24 291.12L1026.57 280.79L1026.91 273.8L1027.25 289.56L1027.59 290.02L1027.93 277.07L1028.27 281.82L1028.61 290.55L1028.95 283.25L1029.29 279.95L1029.63 288.97L1029.97 289.17L1030.31 280.41L1030.65 283.46L1030.99 290.78L1031.33 282.56L1031.67 280.07L1032.01 288.84L1032.35 287.69L1032.69 277.55L1033.03 283.48L1033.37 290.58L1033.71 281.76L1034.05 280.39L1034.39 289.2L1034.73 288.5L1035.07 281.4L1035.41 282.78L1035.75 288.9L1036.08 291.58L1036.42 280.29L1036.76 282.46L1037.1 289.24L1037.44 287.47L1037.78 282.22L1038.12 282.18L1038.46 286.41L1038.8 287.32L1039.14 283.78L1039.48 280.84L1039.82 282.51L1040.16 287.38L1040.5 287.65L1040.84 283.57L1041.18 282.2L1041.52 284.06L1041.86 287.91L1042.2 287.21L1042.54 288.77L1042.88 281.16L1043.22 286.34L1043.56 288.71L1043.9 283.2L1044.24 279.38L1044.58 278.48L1044.92 287.02L1045.26 288.77L1045.59 279.78L1045.93 283.95L1046.27 287.65L1046.61 283.05L1046.95 281.59L1047.29 285.25L1047.63 286.24L1047.97 281.33L1048.31 279.14L1048.65 287.65L1048.99 287L1049.33 273.49L1049.67 277.87L1050.01 295.11L1050.35 276.3L1050.69 260.21L1051.03 288.95L1051.37 296.72L1051.71 260.03L1052.05 259.16L1052.39 299.93L1052.73 298.42L1053.07 249.48L1053.41 268.41L1053.75 312.16L1054.09 296.67L1054.43 267.32L1054.77 279.46L1055.1 304.85L1055.44 298.25L1055.78 270.63L1056.12 270.1L1056.46 299.7L1056.8 303.17L1057.14 274.57L1057.48 261.27L1057.82 276.4L1058.16 298.07L1058.5 295.46L1058.84 259.77L1059.18 264.85L1059.52 278.76L1059.86 297.52L1060.2 292.36L1060.54 277.51L1060.88 275.91L1061.22 281.33L1061.56 290.13L1061.9 289.94L1062.24 280.97L1062.58 278.58L1062.92 281.45L1063.26 287.33L1063.6 286.9L1063.94 280.36L1064.28 279.3L1064.61 287.77L1064.95 293.8L1065.29 278.48L1065.63 281.48L1065.97 295.32L1066.31 292.26L1066.65 285.96L1066.99 278.65L1067.33 287L1067.67 289.82L1068.01 278.48L1068.35 281.24L1068.69 288.68L1069.03 283.07L1069.37 280.79L1069.71 286.48L1070.05 285.04L1070.39 280.81L1070.73 285.52L1071.07 285.96L1071.41 281.13L1071.75 284.18L1072.09 286.73L1072.43 281.2L1072.77 280.37L1073.11 286.56L1073.45 285.63L1073.79 277.43L1074.12 276.61L1074.46 288.86L1074.8 289.71L1075.14 279.97L1075.48 281.03L1075.82 287.43L1076.16 287.81L1076.5 282.76L1076.84 281.01L1077.18 284.29L1077.52 288.06L1077.86 287.13L1078.2 282.58L1078.54 282.3L1078.88 286.83L1079.22 289.12L1079.56 285.93L1079.9 281.07L1080.24 282.31L1080.58 288.08L1080.92 288.26L1081.26 280.35L1081.6 281.12L1081.94 289.71L1082.28 288.97L1082.62 285.63L1082.96 281.31L1083.3 283.06L1083.63 287.25L1083.97 286.15L1084.31 281.13L1084.65 282.07L1084.99 286.95L1085.33 287.79L1085.67 280.19L1086.01 283.3L1086.35 298.2L1086.69 287.16L1087.03 276.6L1087.37 298.23L1087.71 303.87L1088.05 253.1L1088.39 267.45L1088.73 231.15L1089.07 259.8L1089.41 255.86L1089.75 324.11L1090.09 231.15L1090.43 237.85L1090.77 341.16L1091.11 308.23L1091.45 231.15L1091.79 264.62L1092.13 320.2L1092.47 273.96L1092.81 254.68L1093.14 294.83L1093.48 306.77L1093.82 264.66L1094.16 250.6L1094.5 301.33L1094.84 316.1L1095.18 268.13L1095.52 247.84L1095.86 289.34L1096.2 240.13L1096.54 289.06L1096.88 325.25L1097.22 272.8L1097.56 313.48L1097.9 303.78L1098.24 269.25L1098.58 270.17L1098.92 289.71L1099.26 292.72L1099.6 281.89L1099.94 275.95L1100.28 281.58L1100.62 292.66L1100.96 288.97L1101.3 276.55L1101.64 277.81L1101.98 289.04L1102.32 290.17L1102.65 281.76L1102.99 279.67L1103.33 286.78L1103.67 291.36L1104.01 284.93L1104.35 278.43L1104.69 285.01L1105.03 294.2L1105.37 286.51L1105.71 276.69L1106.05 286.51L1106.39 294.21L1106.73 280.03L1107.07 273.17L1107.41 270.62L1107.75 293.08L1108.09 298.13L1108.43 281.71L1108.77 294.21L1109.11 280.12L1109.45 278.93L1109.79 290.95L1110.13 285.93L1110.47 279L1110.81 288.99L1111.15 288.72L1111.49 279.33L1111.83 286.44L1112.16 290.7L1112.5 281.8L1112.84 278.48L1113.18 290.27L1113.52 291.58L1113.86 280.76L1114.2 287.44L1114.54 290.11L1114.88 281.61L1115.22 281.86L1115.56 287.92L1115.9 287.35L1116.24 281.51L1116.58 282.17L1116.92 288.83L1117.26 286.29L1117.6 280.27L1117.94 282.84L1118.28 288.03L1118.62 285.05L1118.96 278.14L1119.3 283.18L1119.64 290.02L1119.98 284.66L1120.32 276.61L1120.66 282.35L1121 290.64L1121.34 285.66L1121.67 277.96L1122.01 280.84L1122.35 288.08L1122.69 287.84L1123.03 280.5L1123.37 278.36L1123.71 285.71L1124.05 293.46L1124.39 291.11L1124.73 275.91L1125.07 272.18L1125.41 286L1125.75 304.93L1126.09 306.31L1126.43 267.29L1126.77 239.6L1127.11 248.9L1127.45 308.13L1127.79 328.07L1128.13 311.43L1128.47 250.89L1128.81 232.27L1129.15 262.67L1129.49 344.9L1129.83 335.44L1130.17 293.91L1130.51 240.31L1130.85 251.5L1131.18 303.47L1131.52 316.83L1131.86 301.67L1132.2 264.2L1132.54 266.06L1132.88 307.62L1133.22 314.3L1133.56 242.93L1133.9 251.67L1134.24 327.13L1134.58 311.37L1134.92 278.04L1135.26 262.11L1135.6 289.27L1135.94 303.2L1136.28 277.61L1136.62 268.19L1136.96 290.94L1137.3 300.58L1137.64 279.18L1137.98 273.44L1138.32 290.01L1138.66 294.5L1139 279.21L1139.34 275.24L1139.68 291.52L1140.02 295.59L1140.36 279.81L1140.69 276.99L1141.03 291.38L1141.37 292.95L1141.71 278.88L1142.05 276.62L1142.39 290.09L1142.73 291.29L1143.07 274.74L1143.41 277.27L1143.75 288.1L1144.09 289.41L1144.43 279.19L1144.77 276.92L1145.11 288.58L1145.45 291.3L1145.79 281.01L1146.13 278.32L1146.47 286.26L1146.81 289.11L1147.15 282.4L1147.49 278.27L1147.83 284.3L1148.17 289.35L1148.51 284.92L1148.85 276.76L1149.19 281.52L1149.53 276.61L1149.87 286.47L1150.2 279.68L1150.54 281.38L1150.88 289.36L1151.22 287.71L1151.56 280.38L1151.9 282.51L1152.24 288.87L1152.58 287.64L1152.92 282.58L1153.26 284.06L1153.6 288.92L1153.94 287.21L1154.28 281.1L1154.62 283.77L1154.96 289.32L1155.3 283.29L1155.64 279.22L1155.98 286.59L1156.32 288.65L1156.66 278.6L1157 279.2L1157.34 290.24L1157.68 285.04L1158.02 277.11L1158.36 275.11L1158.7 288.67L1159.04 291.58L1159.38 281.24L1159.71 289.31L1160.05 282.22L1160.39 279.01L1160.73 289.96L1161.07 288.99L1161.41 281.35L1161.75 286.85L1162.09 292.23L1162.43 280.53L1162.77 278.78L1163.11 292.92L1163.45 287.67L1163.79 268.03L1164.13 289.58L1164.47 304.99L1164.81 274.59L1165.15 271.99L1165.49 314.5L1165.83 301.35L1166.17 247.61L1166.51 287.75L1166.85 323.94L1167.19 270.61L1167.53 271.5L1167.87 298.75L1168.21 289.97L1168.55 270.69L1168.89 293.79L1169.22 298.28L1169.56 267.85L1169.9 283.91L1170.24 265.39L1170.58 269.94L1170.92 304.67L1171.26 303.57L1171.6 275.58L1171.94 275.1L1172.28 302.53L1172.62 280.13L1172.96 273.68L1173.3 298.13L1173.64 288.67L1173.98 277.22L1174.32 291.44L1174.66 291.54L1175 277.96L1175.34 281.77L1175.68 291.02L1176.02 284.04L1176.36 277.96L1176.7 286.8L1177.04 291.15L1177.38 282.81L1177.72 278.82L1178.06 284.88L1178.4 289.21L1178.73 286.52L1179.07 280.34L1179.41 281.8L1179.75 287.54L1180.09 288.46L1180.43 284.43L1180.77 281.32L1181.11 282.66L1181.45 288.29L1181.79 288.1L1182.13 281.11L1182.47 278.51L1182.81 283.19L1183.15 277.55L1183.49 284.48L1183.83 279.8L1184.17 281.27L1184.51 286.82L1184.85 286.11L1185.19 280.91L1185.53 281.8L1185.87 287.2L1186.21 286.49L1186.55 281.66L1186.89 287.84L1187.23 287.02L1187.57 285.52L1187.91 281.57L1188.24 283.11L1188.58 286.34L1188.92 285.11L1189.26 281.68L1189.6 282.91L1189.94 281.29L1190.28 286.01L1190.62 282.11L1190.96 282.03L1191.3 285.83L1191.64 287.12L1191.98 284.05L1192.32 282.11L1192.66 283.83L1193 286.5L1193.34 286.42L1193.68 283.72L1194.02 282.44L1194.36 285.25L1194.7 288.76L1195.04 287.17L1195.38 280.93L1195.72 280.99L1196.06 287.91L1196.4 289.67L1196.74 277.17L1197.08 277.57L1197.42 291.58L1197.75 289.11L1198.09 286.72L1198.43 281.17L1198.77 281.99L1199.11 286.47L1199.45 286.2L1199.79 280.81L1200.13 279.28L1200.47 292.12L1200.81 296.86L1201.15 281L1201.49 276.53L1201.83 298.61L1202.17 307.69L1202.51 270.33L1202.85 261.25L1203.19 311.94L1203.53 320.73L1203.87 255.75L1204.21 227.59L1204.55 314.29L1204.89 337.98L1205.23 249.86L1205.57 259.28L1205.91 323.66L1206.25 311.11L1206.59 261.76L1206.93 275.92L1207.26 307.88L1207.6 293.51L1207.94 263.89L1208.28 282.88L1208.62 309.03L1208.96 281.13L1209.3 254.01L1209.64 295.13L1209.98 251.35L1210.32 277.04L1210.66 319.64L1211 293.38L1211.34 301.24L1211.68 273.61L1212.02 263.3L1212.36 293.33L1212.7 299.54L1213.04 277.29L1213.38 275.65L1213.72 287.98L1214.06 289.88L1214.4 279.58L1214.74 278.91L1215.08 290.81L1215.42 289.1L1215.76 277.91L1216.1 282.35L1216.44 289.02L1216.77 282.71L1217.11 280.24L1217.45 288.3L1217.79 287.38L1218.13 278.96L1218.47 286.85L1218.81 288.31L1219.15 280.21L1219.49 283.75L1219.83 288.91L1220.17 281.37L1220.51 282.18L1220.85 290.53L1221.19 282.83L1221.53 279.5L1221.87 288.84L1222.21 287.11L1222.55 280.37L1222.89 286.36L1223.23 290.92L1223.57 281.52L1223.91 279.85L1224.25 291.58L1224.59 289.94L1224.93 280.31L1225.27 279.71L1225.61 288.26L1225.95 289.15L1226.28 281.61L1226.62 279.51L1226.96 285.82L1227.3 278.11L1227.64 286.17L1227.98 279.36L1228.32 280.88L1228.66 288.64L1229 289.64L1229.34 282.68L1229.68 280.49L1230.02 284.28L1230.36 290.92L1230.7 288.35L1231.04 281.57L1231.38 280.3L1231.72 291.58L1232.06 290.23L1232.4 281.97L1232.74 278.65L1233.08 284.43L1233.42 290.51L1233.76 275.68L1234.1 277.82L1234.44 281.92L1234.78 287.78L1235.12 284.25L1235.46 278.83L1235.79 284.38L1236.13 287.8L1236.47 283.01L1236.81 281.38L1237.15 287.54L1237.49 289.26L1237.83 278.63L1238.17 279.16L1238.51 291.1L1238.85 288.44L1239.19 273.73L1239.53 281.36L1239.87 309.48L1240.21 281.09L1240.55 251.86L1240.89 291.51L1241.23 326.5L1241.57 276.63L1241.91 237.11L1242.25 224.79L1242.59 332.69L1242.93 308.64L1243.27 240.98L1243.61 254.8L1243.95 321.44L1244.29 341.16L1244.63 279.66L1244.97 263.06L1245.3 277.97L1245.64 311.24L1245.98 309.95L1246.32 275.18L1246.66 260.09L1247 273.36L1247.34 305.95L1247.68 312.49L1248.02 292.41L1248.36 267.96L1248.7 265.54L1249.04 256.97L1249.38 305.48L1249.72 315.53L1250.06 286.99L1250.4 268.76L1250.74 273.2L1251.08 284.61L1251.42 297.73L1251.76 297.79L1252.1 289.85L1252.44 278.42L1252.78 278.54L1253.12 283.4L1253.46 291.36L1253.8 291.23L1254.14 287.53L1254.48 280.47L1254.81 279.93L1255.15 285.64L1255.49 291.68L1255.83 290.7L1256.17 282.44L1256.51 278.69L1256.85 281.05L1257.19 287.84L1257.53 288.16L1257.87 281.58L1258.21 276.26L1258.55 275.68L1258.89 287.9L1259.23 288.3L1259.57 280.36L1259.91 278.24L1260.25 283.5L1260.59 288.32L1260.93 285.73L1261.27 280.48L1261.61 281.83L1261.95 287.83L1262.29 287.99L1262.63 281.3L1262.97 280.76L1263.31 286.82L1263.65 287.08L1263.99 281.64L1264.32 281.12L1264.66 287.86L1265 287.71L1265.34 280.59L1265.68 282.05L1266.02 289.04L1266.36 285L1266.7 278.85L1267.04 287.36L1267.38 289.44L1267.72 279.06L1268.06 281.5L1268.4 290.95L1268.74 280.79L1269.08 278.45L1269.42 288.87L1269.76 275.68L1270.1 276.17L1270.44 291.58L1270.78 287.51L1271.12 277.31L1271.46 285.33L1271.8 288.07L1272.14 279.88L1272.48 281.83L1272.82 288.7L1273.16 280.91L1273.5 279.79L1273.83 288.45L1274.17 284.97L1274.51 279.35L1274.85 287.87L1275.19 288.11L1275.53 279.59L1275.87 286.04L1276.21 293.99L1276.55 273.36L1276.89 274.37L1277.23 304.49L1277.57 274.08L1277.91 260.09L1278.25 306.4L1278.59 290.99L1278.93 239.05L1279.27 301.3L1279.61 223.66L1279.95 238.57L1280.29 282.79L1280.63 331.12L1280.97 264.67L1281.31 336.48L1281.65 319.05L1281.99 281.07L1282.33 250.08L1282.67 307.78L1283.01 307.64L1283.34 256.05L1283.68 286.2L1284.02 317.76L1284.36 271.74L1284.7 269.7L1285.04 308.75L1285.38 289.33L1285.72 253.73L1286.06 249.48L1286.4 304.24L1286.74 257.78L1287.08 286.2L1287.42 304.27L1287.76 272.5L1288.1 275.82L1288.44 297.12L1288.78 278.48L1289.12 273.73L1289.46 295.88L1289.8 287.69L1290.14 275.7L1290.48 288.89L1290.82 290.49L1291.16 276.24L1291.5 279.87L1291.84 293.03L1292.18 286.42L1292.52 277.08L1292.85 283.7L1293.19 291.15L1293.53 286.36L1293.87 276.05L1294.21 278.28L1294.55 289.22L1294.89 291.79L1295.23 282.2L1295.57 275.65L1295.91 277.6L1296.25 288.11L1296.59 274.37L1296.93 287.46L1297.27 278.27L1297.61 275.78L1297.95 280.27L1298.29 289.95L1298.63 291.42L1298.97 285.99L1299.31 279.47L1299.65 279.97L1299.99 286.8L1300.33 289.74L1300.67 287.44L1301.01 280.67L1301.35 280.82L1301.69 288.15L1302.03 290.97L1302.36 285.41L1302.7 280.34L1303.04 282.34L1303.38 289.77L1303.72 288.7L1304.06 280.7L1304.4 280.58L1304.74 288.02L1305.08 289.83L1305.42 283.76L1305.76 281.44L1306.1 283.97L1306.44 288.32L1306.78 286.53L1307.12 281.02L1307.46 281.79L1307.8 287.31L1308.14 288.34L1308.48 283.06L1308.82 281.29L1309.16 285.51L1309.5 288.12L1309.84 285.19L1310.18 281.25L1310.52 284.3L1310.86 288.31L1311.2 285.6L1311.54 282.45L1311.87 285.53L1312.21 289.19L1312.55 283.69L1312.89 280.6L1313.23 288.76L1313.57 291.15L1313.91 280.67L1314.25 281.32L1314.59 294.43L1314.93 289.82L1315.27 273.45L1315.61 285.8L1315.95 299.91L1316.29 280.48L1316.63 271.77L1316.97 268.19L1317.31 304.25L1317.65 309.35L1317.99 276.42L1318.33 297.41L1318.67 297.81L1319.01 280.31L1319.35 279.47L1319.69 294.39L1320.03 295.88L1320.37 280.38L1320.71 277.27L1321.05 291.09L1321.38 295.5L1321.72 278.8L1322.06 270.06L1322.4 282.37L1322.74 292.18L1323.08 287.23L1323.42 275.97L1323.76 277.47L1324.1 289.96L1324.44 291.94L1324.78 281.91L1325.12 277.09L1325.46 281.16L1325.8 289.61L1326.14 289.22L1326.48 282.91L1326.82 281.87L1327.16 284.67L1327.5 288.27L1327.84 287.25L1328.18 283.13L1328.52 282.8L1328.86 286.88L1329.2 288.43L1329.54 286.15L1329.88 283.72L1330.22 284.74L1330.56 287.9L1330.89 287.05L1331.23 283.75L1331.57 283.52L1331.91 286.86L1332.25 287.26L1332.59 283.22L1332.93 282.64L1333.27 286.34L1333.61 286.93L1333.95 282.67L1334.29 282L1334.63 285.93L1334.97 281.29L1335.31 282.54L1335.65 283.2L1335.99 287.73L1336.33 286.96L1336.67 283.28L1337.01 285.93L1337.35 289.03L1337.69 286.04L1338.03 289.71"/>
<rect class="fr" x="973.2" y="217.9" width="382.2" height="132.4"/>
<path class="tk" d="M990.57 350.3v5.2M1058.5 350.3v5.2M1126.43 350.3v5.2M1194.36 350.3v5.2M1262.29 350.3v5.2M1330.22 350.3v5.2M973.2 243.7h-5.2M973.2 285.3h-5.2M973.2 326.9h-5.2"/>
<text class="tl xm" x="990.57" y="373.9">0</text>
<text class="tl xm" x="1058.5" y="373.9">200</text>
<text class="tl xm" x="1126.43" y="373.9">400</text>
<text class="tl xm" x="1194.36" y="373.9">600</text>
<text class="tl xm" x="1262.29" y="373.9">800</text>
<text class="tl xm" x="1330.22" y="373.9">1000</text>
<text class="tl ye" x="962.8" y="249.46">2</text>
<text class="tl ye" x="962.8" y="291.06">0</text>
<text class="tl ye" x="962.8" y="332.66">−2</text>
<text class="tt xm" x="1164.3" y="209">de_7_outer</text>
</g>
<g class="ax">
<path class="ln" d="M73.07 481.99L73.41 470.42L73.75 464L74.09 465.86L74.43 479.27L74.77 482.38L75.11 468.29L75.45 485L75.79 467.41L76.13 483.4L76.47 477.73L76.81 461.19L77.15 462.33L77.49 478.93L77.83 479.01L78.17 460.36L78.51 459.06L78.85 478.55L79.19 479.32L79.53 459.31L79.87 460.07L80.21 477.54L80.54 475.52L80.88 455.06L81.22 463.97L81.56 484.06L81.9 470.54L82.24 460.16L82.58 474.33L82.92 476.4L83.26 465.68L83.6 467.43L83.94 478.19L84.28 469.91L84.62 462.09L84.96 476.35L85.3 475.7L85.64 463.12L85.98 473.84L86.32 461.61L86.66 464.97L87 483.13L87.34 482.17L87.68 467.42L88.02 464.84L88.36 478.1L88.7 473.62L89.04 465.95L89.38 476.28L89.72 478.1L90.05 467.51L90.39 471.17L90.73 480.84L91.07 470.03L91.41 465.14L91.75 481.1L92.09 482.16L92.43 466.13L92.77 485.93L93.11 484.38L93.45 470.6L93.79 461.84L94.13 475.26L94.47 477.57L94.81 456.93L95.15 460.83L95.49 479.58L95.83 476.7L96.17 462.41L96.51 469.18L96.85 476.58L97.19 471.13L97.53 467.12L97.87 474.99L98.21 475.93L98.55 467.86L98.89 468.12L99.23 478.21L99.56 473.79L99.9 465.37L100.24 463.48L100.58 476.85L100.92 467.27L101.26 467.37L101.6 476.47L101.94 473.27L102.28 465.38L102.62 472.18L102.96 475.6L103.3 468.39L103.64 467.7L103.98 473.75L104.32 473.64L104.66 467.94L105 468.96L105.34 474.21L105.68 473.08L106.02 469.05L106.36 470.34L106.7 474.4L107.04 472.87L107.38 469.61L107.72 470.85L108.06 473.95L108.4 473.42L108.74 470.29L109.07 470.76L109.41 474.24L109.75 475.08L110.09 469.08L110.43 469.07L110.77 472.9L111.11 472.37L111.45 467.63L111.79 466.29L112.13 473.07L112.47 472.16L112.81 466.94L113.15 471.78L113.49 476.14L113.83 468.94L114.17 467.6L114.51 482.12L114.85 470.28L115.19 456.17L115.53 484.35L115.87 479.22L116.21 441.78L116.55 489.13L116.89 499.62L117.23 436.35L117.57 483.03L117.91 519.61L118.25 444.17L118.58 447.67L118.92 436.35L119.26 468.68L119.6 452.36L119.94 474.98L120.28 482.91L120.62 462.48L120.96 457.06L121.3 446.64L121.64 489.82L121.98 494.35L122.32 455.31L122.66 470.63L123 477.55L123.34 472.44L123.68 464.88L124.02 465.88L124.36 473.52L124.7 475.69L125.04 473.14L125.38 468.48L125.72 469.61L126.06 473.07L126.4 474.34L126.74 472.27L127.08 468.48L127.42 468.15L127.76 472.3L128.09 472.94L128.43 469.66L128.77 466.63L129.11 469.28L129.45 465.35L129.79 472.25L130.13 475.64L130.47 468.1L130.81 473.96L131.15 472.42L131.49 468.01L131.83 469.58L132.17 473.15L132.51 471.81L132.85 468.43L133.19 470.61L133.53 473.31L133.87 470.62L134.21 468.88L134.55 471.38L134.89 474.44L135.23 471.25L135.57 467.22L135.91 469.63L136.25 474.41L136.59 474.02L136.93 469.34L137.27 468.89L137.6 473.15L137.94 476.89L138.28 475.91L138.62 470.33L138.96 468.65L139.3 471.71L139.64 478.45L139.98 476.17L140.32 470.61L140.66 468.02L141 469.95L141.34 475.9L141.68 475.52L142.02 468.69L142.36 467.34L142.7 466.29L143.04 474.28L143.38 470.05L143.72 467.79L144.06 472.52L144.4 473.73L144.74 468.5L145.08 469.21L145.42 474.51L145.76 470.3L146.1 469.05L146.44 473.38L146.78 470.15L147.11 467.43L147.45 473.7L147.79 468.08L148.13 467.51L148.47 476.11L148.81 466.53L149.15 462.55L149.49 475.41L149.83 466.42L150.17 469.79L150.51 475.72L150.85 467.38L151.19 470.41L151.53 476.7L151.87 471.03L152.21 470.62L152.55 477.51L152.89 473.99L153.23 469.5L153.57 473.13L153.91 475.2L154.25 470.22L154.59 468.54L154.93 474.24L155.27 474.9L155.61 468.96L155.95 468.98L156.29 474.28L156.62 473.83L156.96 468.45L157.3 468.98L157.64 474.29L157.98 473.52L158.32 467.89L158.66 467.22L159 475.42L159.34 474.15L159.68 469.21L160.02 470L160.36 475.07L160.7 474.53L161.04 468.85L161.38 468.8L161.72 474.59L162.06 475.46L162.4 470.22L162.74 468.54L163.08 476.58L163.42 475.79L163.76 471.89L164.1 466.93L164.44 469.03L164.78 475.19L165.12 472.69L165.46 463.96L165.8 466.25L166.13 462.55L166.47 473.32L166.81 463.83L167.15 468.4L167.49 475.26L167.83 470.34L168.17 465.06L168.51 474.07L168.85 475.77L169.19 467.04L169.53 469.79L169.87 479.29L170.21 471.27L170.55 479.38L170.89 477.42L171.23 475.18L171.57 468.44L171.91 476.71L172.25 476.71L172.59 469.73L172.93 475.52L173.27 479.38L173.61 469.43L173.95 474.23L174.29 476.08L174.63 467.91L174.97 472.32L175.31 474.79L175.64 467.91L175.98 470.18L176.32 476.12L176.66 468.61L177 468.36L177.34 475.2L177.68 471.62L178.02 465.35L178.36 474.56L178.7 477.17L179.04 466.98L179.38 469.38L179.72 478.25L180.06 475.29L180.4 469.02L180.74 475.68L181.08 479.9L181.42 471.32L181.76 483.13L182.1 478L182.44 479.57L182.78 469L183.12 463.86L183.46 478.35L183.8 475.6L184.14 465.74L184.48 470.89L184.82 477.5L185.15 471.02L185.49 468.95L185.83 474.55L186.17 475.05L186.51 469.84L186.85 469.77L187.19 474.08L187.53 472.57L187.87 468.13L188.21 472.85L188.55 475.94L188.89 469.67L189.23 468.7L189.57 475.23L189.91 474.09L190.25 466.52L190.59 469.83L190.93 476.12L191.27 470.22L191.61 466.75L191.95 473.36L192.29 475.75L192.63 467.39L192.97 465.88L193.31 475.2L193.65 476.15L193.99 461.61L194.33 466.2L194.66 478.4L195 475.31L195.34 466.01L195.68 470.43L196.02 480.11L196.36 474.8L196.7 467.53L197.04 478.97L197.38 484.44L197.72 471.03L198.06 470.02L198.4 478.02L198.74 475.56L199.08 466.57L199.42 473.47L199.76 466.29L200.1 469.88L200.44 468.98L200.78 476.29L201.12 474.6L201.46 467.32L201.8 469.7L202.14 475.17L202.48 472.14L202.82 467.24L203.16 470.37L203.5 474.6L203.84 472.47L204.17 468.02L204.51 469.27L204.85 474.29L205.19 474.49L205.53 469.94L205.87 468.45L206.21 471.18L206.55 475.83L206.89 475.28L207.23 470.36L207.57 469.59L207.91 476.58L208.25 474.51L208.59 474.2L208.93 469.43L209.27 467.67L209.61 470.49L209.95 474.38L210.29 473.4L210.63 469.12L210.97 468.36L211.31 472.22L211.65 474.93L211.99 472L212.33 467.61L212.67 469.35L213.01 473.82L213.35 473.22L213.68 467.67L214.02 468.8L214.36 476.01L214.7 474.13L215.04 465.62L215.38 469.02L215.72 476.19L216.06 469.91L216.4 464.51L216.74 473.18L217.08 459.37L217.42 464.09L217.76 465.18L218.1 478.83L218.44 474.56L218.78 467.46L219.12 475.47L219.46 477.87L219.8 469.93L220.14 481.26L220.48 475.27L220.82 473.79L221.16 466.71L221.5 469.89L221.84 474.99L222.18 465.35L222.52 466.46L222.86 470.95L223.19 472.71L223.53 468.75L223.87 465.83L224.21 471.02L224.55 474.57L224.89 471.38L225.23 467.67L225.57 468.59L225.91 473.44L226.25 473.27L226.59 469.21L226.93 468.56L227.27 471.15L227.61 474.89L227.95 473.61L228.29 468.61L228.63 468.27L228.97 473.18L229.31 474.9L229.65 472.45L229.99 468.67L230.33 469.9L230.67 475.4L231.01 474.86L231.35 468.8L231.69 467.96L232.03 473.6L232.37 475.65L232.7 470.19L233.04 468.66L233.38 474.04L233.72 476.44L234.06 470.32L234.4 468.14L234.74 475.15L235.08 477.6L235.42 468.39L235.76 478.45L236.1 476.08L236.44 475.64L236.78 467.64L237.12 468.32L237.46 474.8L237.8 473L238.14 465.25L238.48 467.24L238.82 478.22L239.16 473.48L239.5 460.38L239.84 465.91L240.18 490.21L240.52 482.47L240.86 448.47L241.2 455.82L241.54 503.66L241.88 499.23L242.21 439.68L242.55 443.52L242.89 517.74L243.23 498.04L243.57 449.3L243.91 440.49L244.25 487.45L244.59 503.58L244.93 447.06L245.27 418.18L245.61 408.85L245.95 522.81L246.29 436.39L246.63 434.36L246.97 496.32L247.31 527.47L247.65 434.58L247.99 439L248.33 500.48L248.67 490.41L249.01 446.92L249.35 462.89L249.69 499.27L250.03 483.26L250.37 447.48L250.71 460.02L251.05 492.46L251.39 487.78L251.72 456.77L252.06 456.64L252.4 481.68L252.74 487.8L253.08 474.73L253.42 456.73L253.76 459.47L254.1 479.67L254.44 485.16L254.78 474.48L255.12 459.26L255.46 461.46L255.8 474.88L256.14 481.48L256.48 476.08L256.82 463.56L257.16 462.13L257.5 475.61L257.84 484.69L258.18 477.95L258.52 460.88L258.86 485L259.2 476.17L259.54 477.83L259.88 473.05L260.22 467.19L260.56 468.88L260.9 474.93L261.23 477.02L261.57 470.09L261.91 466.86L262.25 471.51L262.59 475.6L262.93 473.15L263.27 467.93L263.61 470.31L263.95 476.36L264.29 473.06L264.63 467.52L264.97 473L265.31 474.83L265.65 468.57L265.99 469.4L266.33 475.64L266.67 470.66L267.01 467.22L267.35 477.11L267.69 471.31L268.03 468.74L268.37 477.23L268.71 472.24L269.05 470.04L269.39 480.27L269.73 472.84L270.07 469.65L270.41 478.54L270.74 481.26L271.08 468.86L271.42 475.92L271.76 475.92L272.1 467.74L272.44 469.19L272.78 477.62L273.12 471.1L273.46 462.87L273.8 462.55L274.14 476.36L274.48 470.35L274.82 467.52L275.16 472.2L275.5 478.43L275.84 474.86L276.18 469.08L276.52 480.32L276.86 476.73L277.2 474.42L277.54 467.3L277.88 469.65L278.22 476.72L278.56 475.36L278.9 467.79L279.24 465.35L279.58 475.28L279.92 474.16L280.25 467.73L280.59 468.13L280.93 474.46L281.27 475.95L281.61 469.93L281.95 468.56L282.29 472.66L282.63 475.38L282.97 473.06L283.31 467.53L283.65 476.58L283.99 474.08L284.33 474.87L284.67 470.99L285.01 469.02L285.35 469.9L285.69 473.98L286.03 473.73L286.37 470.15L286.71 468.36L287.05 469.61L287.39 475.09L287.73 475.89L288.07 468.53L288.41 465.77L288.75 468.21L289.09 474.75L289.43 474.9L289.76 467.11L290.1 461.27L290.44 467.58L290.78 479.24L291.12 479.2L291.46 457.87L291.8 462.2L292.14 478.1L292.48 480.52L292.82 465.94L293.16 459.1L293.5 480.63L293.84 488.86L294.18 463.03L294.52 461.15L294.86 492.27L295.2 481.1L295.54 447.47L295.88 437.29L296.22 491.28L296.56 506.51L296.9 474.66L297.24 497.48L297.58 457.46L297.92 469.39L298.26 486.89L298.6 460.94L298.94 469.1L299.27 483.45L299.61 466.9L299.95 469.09L300.29 483.18L300.63 465.42L300.97 465.33L301.31 479.09L301.65 468.11L301.99 466.25L302.33 479.23L302.67 473.47L303.01 464.13L303.35 475.28L303.69 475.56L304.03 466.22L304.37 472.54L304.71 476.26L305.05 468.69L305.39 470.61L305.73 475.49L306.07 470.66L306.41 471.16L306.75 474.44L307.09 471.02L307.43 470.35L307.77 473.96L308.11 470.68L308.45 469.08L308.78 473.24L309.12 471.38L309.46 468.13L309.8 472.32L310.14 472.51L310.48 468.17L310.82 469.67L311.16 474.12L311.5 470.12L311.84 465.64L312.18 471.85L312.52 476.73L312.86 470.06L313.2 465.44L313.54 468.23L313.88 473.95L314.22 473.02L314.56 464.6L314.9 461.61L315.24 471.6L315.58 477.38L315.92 475.65L316.26 468.61L316.6 469.37L316.94 475.29L317.28 480.32L317.62 475.41L317.96 467.72L318.29 467.36L318.63 474.64L318.97 477.05L319.31 472.74L319.65 465.35L319.99 467.31L320.33 473.83L320.67 475.65L321.01 472.87L321.35 468.64L321.69 469.46L322.03 473.43L322.37 475.23L322.71 474.43L323.05 470.45L323.39 468.79L323.73 469.33L324.07 473.16L324.41 474.65L324.75 474.29L325.09 465.35L325.43 467.07L325.77 477.51L326.11 469.17L326.45 473.3L326.79 475.49L327.13 475.37L327.47 473.43L327.8 470.6L328.14 469.5L328.48 469.37L328.82 471.28L329.16 473.3L329.5 473.75L329.84 472.04L330.18 466.56L330.52 465.35L330.86 470.18L331.2 475.66L331.54 475.36L331.88 470.87L332.22 469.05L332.56 471.65L332.9 478.8L333.24 478.54L333.58 479.95L333.92 468.01L334.26 473.19L334.6 476.39L334.94 475.09L335.28 469.68L335.62 469.54L335.96 475.6L336.3 476.28L336.64 470.32L336.98 466.84L337.31 469.16L337.65 475.7L337.99 473.26L338.33 465.29L338.67 465.98L339.01 473.49L339.35 473.15L339.69 465.04L340.03 464.1L340.37 474.66L340.71 474.08L341.05 461.61L341.39 467.43L341.73 476.56L342.07 468.09L342.41 465.13L342.75 476.84L343.09 473.25L343.43 464.1L343.77 479.35L344.11 474.35L344.45 464.73L344.79 482.5L345.13 469.85L345.47 468.63L345.81 482.64L346.15 466.31L346.49 476.66L346.82 481.37L347.16 487.8L347.5 483.46L347.84 473.43L348.18 462.03L348.52 483.35L348.86 466.87L349.2 462.19L349.54 456L349.88 467.65L350.22 458.3L350.56 476.44L350.9 475.18L351.24 456.64L351.58 468.74L351.92 482.28L352.26 463.92L352.6 458.14L352.94 475.23L353.28 474.86L353.62 455.62L353.96 462.66L354.3 476.07L354.64 470.52L354.98 462.91L355.32 476.7L355.66 478.81L356 466.42L356.33 468.82L356.67 479.23L357.01 465.79L357.35 463.61L357.69 475.62L358.03 470.87L358.37 462.57L358.71 458.24L359.05 475.7L359.39 462.15L359.73 466.65L360.07 475.96L360.41 465.1L360.75 464.31L361.09 475.21L361.43 473.36L361.77 465.41L362.11 470.26L362.45 474.64L362.79 467.8L363.13 466.74L363.47 475.26L363.81 472.14L364.15 467.34L364.49 474.1L364.83 474.03L365.17 467.15L365.51 473.93L365.84 475.8L366.18 465.58L366.52 475.26L366.86 478.01L367.2 466.3L367.54 476.26L367.88 478.12L368.22 462.55L368.56 474.82L368.9 483.13L369.24 464.88L369.58 468.59L369.92 479.77L370.26 470L370.6 466.26L370.94 473.19L371.28 475.88L371.62 470.46L371.96 466.07L372.3 468.16L372.64 477.53L372.98 478.79L373.32 462.55L373.66 464.71L374 479.38L374.34 469.49L374.68 475.24L375.02 477L375.35 474.84L375.69 469.25L376.03 467.68L376.37 468.75L376.71 472.8L377.05 474.09L377.39 473.62L377.73 470.37L378.07 468.95L378.41 470.76L378.75 474.22L379.09 473.55L379.43 469.55L379.77 469.84L380.11 474.26L380.45 473.58L380.79 469.59L381.13 471.3L381.47 473.47L381.81 469.5L382.15 469.48L382.49 475.14L382.83 468.28L383.17 468.15L383.51 473.78L383.85 468.06L384.19 465.35L384.53 475.08L384.86 467.82L385.2 471.6L385.54 475.22L385.88 465.91L386.22 472.56L386.56 473.48L386.9 465.35L387.24 472.63L387.58 474.31L387.92 467.42L388.26 470.6L388.6 477.25L388.94 468.78L389.28 466.65L389.62 475.82L389.96 475.78L390.3 478.82L390.64 467.45L390.98 476.05L391.32 476.91L391.66 468.11L392 464.55L392.34 468.37L392.68 474.97L393.02 463.48L393.36 469.18L393.7 466.66L394.04 467.25L394.37 471.96L394.71 475.71L395.05 477.03L395.39 475.15L395.73 466.79L396.07 463.48L396.41 467.88L396.75 481.26L397.09 476.55L397.43 477.29L397.77 475.74L398.11 471.11L398.45 468.15L398.79 468.16L399.13 470.8L399.47 474.77L399.81 475.49L400.15 473.78L400.49 469.02L400.83 467.43L401.17 469.16L401.51 474.54L401.85 466.29L402.19 472.2L402.53 467.24L402.87 467.28L403.21 471.87L403.55 473.72L403.88 472.62L404.22 467.53L404.56 466.29L404.9 470.47L405.24 473.97L405.58 472.66L405.92 468.83L406.26 468.12L406.6 471.65L406.94 473.71L407.28 472.33L407.62 468.04L407.96 469.39L408.3 473.46L408.64 472.84L408.98 469.25L409.32 469.8L409.66 473.65L410 473.24L410.34 468.52L410.68 470.4L411.02 474.1L411.36 471.58L411.7 468.93L412.04 472.87L412.38 474.34L412.72 469.56L413.06 468.52L413.39 475.51L413.73 475.14L414.07 466.62L414.41 468.5L414.75 475.06L415.09 473.5L415.43 467.03L415.77 477.51L416.11 475.73L416.45 474.45L416.79 465.62L417.13 466.31L417.47 474.64L417.81 463.48L418.15 467.22L418.49 464.43L418.83 472.95L419.17 463.48L419.51 470.14L419.85 467.83L420.19 478.37L420.53 486.87"/>
<rect class="fr" x="55.7" y="403.1" width="382.2" height="132.4"/>
<path class="tk" d="M73.07 535.5v5.2M141 535.5v5.2M208.93 535.5v5.2M276.86 535.5v5.2M344.79 535.5v5.2M412.72 535.5v5.2M55.7 433.4h-5.2M55.7 473.3h-5.2M55.7 513.2h-5.2"/>
<text class="tl xm" x="73.07" y="559.1">0</text>
<text class="tl xm" x="141" y="559.1">200</text>
<text class="tl xm" x="208.93" y="559.1">400</text>
<text class="tl xm" x="276.86" y="559.1">600</text>
<text class="tl xm" x="344.79" y="559.1">800</text>
<text class="tl xm" x="412.72" y="559.1">1000</text>
<text class="tl ye" x="45.3" y="439.16">1</text>
<text class="tl ye" x="45.3" y="479.06">0</text>
<text class="tl ye" x="45.3" y="518.96">−1</text>
<text class="tt xm" x="246.8" y="394.2">de_14_inner</text>
</g>
<g class="ax">
<path class="ln" d="M531.77 500.64L532.11 414.46L532.45 512.13L532.79 512.13L533.13 492.91L533.47 425.88L533.81 442.07L534.15 486.6L534.49 449.43L534.83 443.02L535.17 481.12L535.51 472.72L535.85 438.39L536.19 480.56L536.53 486.82L536.87 438.94L537.21 477.11L537.55 494.37L537.89 445.77L538.23 468.63L538.57 491.03L538.91 438.53L539.24 453.25L539.58 505.02L539.92 439.04L540.26 438.9L540.6 494.56L540.94 465.58L541.28 435.17L541.62 466.32L541.96 421.39L542.3 441.74L542.64 433.42L542.98 472.83L543.32 488.79L543.66 459.66L544 447.53L544.34 463.02L544.68 488.46L545.02 496.78L545.36 459.61L545.7 454.28L546.04 463.47L546.38 478.68L546.72 478.08L547.06 452.31L547.4 443.67L547.74 461.2L548.08 487.18L548.42 435.04L548.75 449.04L549.09 488.74L549.43 474L549.77 480.21L550.11 459.52L550.45 455.67L550.79 472.64L551.13 484.2L551.47 463.54L551.81 455.3L552.15 469.43L552.49 473.9L552.83 447.02L553.17 448.87L553.51 471.04L553.85 475.44L554.19 450.84L554.53 453.4L554.87 477.24L555.21 471.38L555.55 453.89L555.89 460.35L556.23 471.31L556.57 457.42L556.91 444.58L557.25 467.1L557.59 473.29L557.93 445.91L558.26 442.65L558.6 469.07L558.94 470.94L559.28 446.58L559.62 452.06L559.96 481.34L560.3 469.97L560.64 443.47L560.98 478.08L561.32 495.02L561.66 441.01L562 439.94L562.34 507.81L562.68 487.47L563.02 440.9L563.36 479.83L563.7 487.92L564.04 515.49L564.38 442.47L564.72 483.11L565.06 443.59L565.4 425.91L565.74 420.45L566.08 468.45L566.42 431.42L566.76 472.94L567.1 467.05L567.44 446.44L567.77 469.24L568.11 470.5L568.45 438.38L568.79 482.33L569.13 479.77L569.47 429.24L569.81 487.87L570.15 498.09L570.49 436.65L570.83 483.49L571.17 474.32L571.51 445.94L571.85 481.71L572.19 476.67L572.53 442.57L572.87 479.48L573.21 482.08L573.55 455.71L573.89 464.35L574.23 477.6L574.57 462.6L574.91 458.73L575.25 474.71L575.59 474.31L575.93 454.54L576.27 460.27L576.61 481.36L576.95 482.19L577.28 455.16L577.62 471.74L577.96 474.53L578.3 455.95L578.64 458.33L578.98 480.32L579.32 456.64L579.66 450.23L580 478.23L580.34 457.29L580.68 447.67L581.02 472.22L581.36 455.59L581.7 448.66L582.04 479.87L582.38 438.6L582.72 444.48L583.06 481.26L583.4 457.56L583.74 450.01L584.08 470.77L584.42 470.95L584.76 459.18L585.1 462.64L585.44 472.48L585.78 470.18L586.12 453.89L586.46 451.91L586.79 466.83L587.13 470.5L587.47 468.09L587.81 449.43L588.15 447.64L588.49 453.69L588.83 471.87L589.17 475.45L589.51 473.48L589.85 452.28L590.19 439.86L590.53 488.74L590.87 480.26L591.21 486.06L591.55 435.98L591.89 438.2L592.23 448.19L592.57 477.27L592.91 481.56L593.25 458.37L593.59 459.46L593.93 483.77L594.27 479L594.61 454.67L594.95 465.86L595.29 489.67L595.63 460.88L595.97 457.81L596.3 480.63L596.64 471.65L596.98 459.46L597.32 471.14L597.66 469.46L598 453.64L598.34 462.97L598.68 466.84L599.02 453.21L599.36 452.51L599.7 448.51L600.04 462.66L600.38 455.43L600.72 462.09L601.06 466.33L601.4 460.37L601.74 458.74L602.08 467.47L602.42 469.81L602.76 463.41L603.1 462.63L603.44 467.74L603.78 471.08L604.12 466.18L604.46 459.8L604.8 462.59L605.14 468.99L605.48 469.01L605.81 463.28L606.15 461.25L606.49 464.74L606.83 473.02L607.17 473.2L607.51 462.14L607.85 458.68L608.19 462.85L608.53 474.28L608.87 474.15L609.21 461.71L609.55 455.45L609.89 455.57L610.23 466.67L610.57 470.62L610.91 439.53L611.25 443.06L611.59 444.99L611.93 465.33L612.27 475.86L612.61 472.65L612.95 456.55L613.29 454.42L613.63 458.98L613.97 469.3L614.31 471.41L614.65 461.67L614.99 447.28L615.32 448.73L615.66 471.03L616 478.26L616.34 443.28L616.68 452.32L617.02 478.45L617.36 467.68L617.7 471.46L618.04 464.81L618.38 452.98L618.72 459.61L619.06 474.26L619.4 472.49L619.74 460.39L620.08 460.43L620.42 473.91L620.76 473.71L621.1 455.14L621.44 452.72L621.78 469.02L622.12 448.89L622.46 454.82L622.8 453.65L623.14 472.19L623.48 479.47L623.82 467.42L624.16 485L624.5 465.15L624.83 477.07L625.17 473.12L625.51 459.6L625.85 458.58L626.19 466.67L626.53 469.36L626.87 466.11L627.21 455.89L627.55 453.88L627.89 466.5L628.23 444.77L628.57 463.53L628.91 451.8L629.25 454.13L629.59 466.4L629.93 472.44L630.27 469.61L630.61 459.79L630.95 460.28L631.29 464.61L631.63 474.71L631.97 468.89L632.31 460.79L632.65 453.33L632.99 454.87L633.33 447.58L633.67 473.14L634.01 474.71L634.34 450.82L634.68 456.83L635.02 467.32L635.36 465.8L635.7 455.62L636.04 455.59L636.38 468.31L636.72 467L637.06 452.69L637.4 457.7L637.74 466.8L638.08 457.71L638.42 456.32L638.76 467.38L639.1 464.1L639.44 459.85L639.78 470.11L640.12 466.4L640.46 458.5L640.8 471.43L641.14 466.86L641.48 462.26L641.82 472L642.16 466.61L642.5 464.25L642.84 473.82L643.18 465.95L643.52 455.88L643.85 475.5L644.19 469.73L644.53 449.74L644.87 468.53L645.21 470.13L645.55 477.51L645.89 454.38L646.23 474.97L646.57 464.49L646.91 445.75L647.25 460.23L647.59 472.05L647.93 442.34L648.27 446.34L648.61 463.82L648.95 469.93L649.29 462.31L649.63 459.9L649.97 472.53L650.31 479.48L650.65 465.01L650.99 480.32L651.33 474.56L651.67 475.93L652.01 459.82L652.35 460.53L652.69 478.03L653.03 473.27L653.36 456.65L653.7 467.3L654.04 471.75L654.38 458.95L654.72 456.84L655.06 468.6L655.4 467.85L655.74 453.72L656.08 457.93L656.42 472.65L656.76 456.25L657.1 449.94L657.44 465.12L657.78 466.63L658.12 444.23L658.46 438.14L658.8 434.48L659.14 469.5L659.48 447.65L659.82 451.37L660.16 473.83L660.5 476.79L660.84 465.65L661.18 462.69L661.52 479.95L661.86 476.6L662.2 462.35L662.54 458.33L662.87 474.1L663.21 477.15L663.55 459.48L663.89 458.74L664.23 476.19L664.57 467.98L664.91 452.1L665.25 468.17L665.59 469.51L665.93 452.89L666.27 466.16L666.61 445.71L666.95 448.04L667.29 465.8L667.63 470.5L667.97 450.53L668.31 466.22L668.65 466.92L668.99 456.3L669.33 466.79L669.67 466.72L670.01 457.16L670.35 466.58L670.69 467.61L671.03 458.54L671.37 465.17L671.71 466.22L672.05 461.14L672.38 461.3L672.72 465.72L673.06 463.08L673.4 458.84L673.74 466.07L674.08 468.16L674.42 460.4L674.76 459.15L675.1 466.67L675.44 467.77L675.78 455.06L676.12 456.92L676.46 471.17L676.8 471.86L677.14 459.19L677.48 462.78L677.82 471.76L678.16 471.06L678.5 459.95L678.84 478.45L679.18 475.28L679.52 459.69L679.86 456.9L680.2 472.83L680.54 466.17L680.88 452.74L681.22 447.58L681.56 465.62L681.89 449.72L682.23 464.3L682.57 469.82L682.91 451.53L683.25 457.88L683.59 466.96L683.93 456.72L684.27 456.11L684.61 474.55L684.95 469.7L685.29 455.13L685.63 479.28L685.97 484.05L686.31 457.29L686.65 489.3L686.99 471.65L687.33 462.47L687.67 455.47L688.01 465.42L688.35 466.37L688.69 452.2L689.03 459.2L689.37 465.94L689.71 451.28L690.05 448.51L690.39 469.37L690.73 452.69L691.07 459.08L691.4 477.37L691.74 456.83L692.08 464.74L692.42 476.92L692.76 453.15L693.1 483.13L693.44 474.34L693.78 452.26L694.12 464.44L694.46 470.99L694.8 454.61L695.14 450.39L695.48 467.85L695.82 459.93L696.16 455.94L696.5 467.65L696.84 470.17L697.18 461.7L697.52 463.31L697.86 473.03L698.2 474.22L698.54 465.63L698.88 464.99L699.22 472.72L699.56 474.59L699.9 464.07L700.24 461.1L700.58 476.01L700.91 479.22L701.25 461.48L701.59 480.32L701.93 472.27L702.27 474.98L702.61 458.02L702.95 452.8L703.29 480.32L703.63 472.08L703.97 445.28L704.31 436.91L704.65 472.6L704.99 475.01L705.33 448.63L705.67 451.01L706.01 471.94L706.35 470.74L706.69 452.37L707.03 456.84L707.37 477.85L707.71 468.97L708.05 442.34L708.39 474.28L708.73 486.33L709.07 446.48L709.41 450.17L709.75 486.98L710.09 465.83L710.42 490.61L710.76 472.64L711.1 472.07L711.44 432.83L711.78 462.86L712.12 481.77L712.46 426.44L712.8 443.77L713.14 482.31L713.48 449.39L713.82 445.52L714.16 472.6L714.5 461.49L714.84 445.42L715.18 467.19L715.52 466L715.86 452.83L716.2 467.38L716.54 474.26L716.88 449.06L717.22 463.58L717.56 473.59L717.9 454.29L718.24 460.9L718.58 478.97L718.92 449.94L719.26 464.74L719.6 481.65L719.93 438.28L720.27 436.35L720.61 472.39L720.95 488.74L721.29 472.11L721.63 473.28L721.97 451.42L722.31 478.04L722.65 469.15L722.99 446.3L723.33 474.03L723.67 467.18L724.01 444.35L724.35 472.65L724.69 470.13L725.03 445.4L725.37 468.86L725.71 479.77L726.05 441.73L726.39 435.42L726.73 475.15L727.07 482.19L727.41 447.14L727.75 467.98L728.09 473.27L728.43 455.15L728.77 456.77L729.11 479.9L729.44 471.82L729.78 452.45L730.12 476.1L730.46 482.87L730.8 459.09L731.14 465.69L731.48 482.34L731.82 464.55L732.16 460.4L732.5 488.74L732.84 459.28L733.18 448.89L733.52 478.48L733.86 459.83L734.2 444.63L734.54 479.57L734.88 469.61L735.22 440.97L735.56 482.97L735.9 478.94L736.24 440.18L736.58 500.9L736.92 481.16L737.26 437.56L737.6 475.36L737.94 488.51L738.28 420.08L738.62 444.31L738.95 475.56L739.29 443.11L739.63 437.83L739.97 468.48L740.31 467.33L740.65 450.43L740.99 456.69L741.33 482.9L741.67 475.28L742.01 449.93L742.35 442.9L742.69 483.42L743.03 497.16L743.37 449.38L743.71 447.13L744.05 467.67L744.39 471.78L744.73 466.07L745.07 452.43L745.41 451.84L745.75 469.12L746.09 476.88L746.43 463.97L746.77 439.6L747.11 435.42L747.45 472.04L747.79 476.36L748.13 450.33L748.46 447.59L748.8 474.94L749.14 498.99L749.48 471.19L749.82 500.53L750.16 462.57L750.5 496.61L750.84 472.87L751.18 433.87L751.52 459.13L751.86 479.29L752.2 460.8L752.54 445.28L752.88 431.68L753.22 488.63L753.56 456.82L753.9 449.95L754.24 472.5L754.58 475.79L754.92 456.74L755.26 455.11L755.6 471.23L755.94 472.88L756.28 456.06L756.62 454.96L756.96 470.89L757.3 474.2L757.64 457.7L757.97 452.18L758.31 458.4L758.65 447.58L758.99 467.57L759.33 451.43L759.67 449.14L760.01 464.32L760.35 477.12L760.69 474.6L761.03 457.41L761.37 449.47L761.71 452.84L762.05 477.24L762.39 482.91L762.73 467.21L763.07 420.67L763.41 408.85L763.75 486.41L764.09 514.99L764.43 491.93L764.77 432.22L765.11 425.17L765.45 490.69L765.79 502.24L766.13 459.91L766.47 529.9L766.81 456.54L767.15 498.57L767.48 476.97L767.82 442.22L768.16 452.84L768.5 486.4L768.84 453.24L769.18 423.71L769.52 477.2L769.86 487.48L770.2 426.5L770.54 418.58L770.88 487.88L771.22 443.26L771.56 437.36L771.9 474.07L772.24 454.82L772.58 436.93L772.92 484.43L773.26 467.14L773.6 438.54L773.94 480.63L774.28 470.01L774.62 450.98L774.96 474.22L775.3 469.65L775.64 457.35L775.98 474.48L776.32 472.75L776.66 453.36L776.99 477.23L777.33 483.49L777.67 443.84L778.01 461.51L778.35 492.16L778.69 451.21L779.03 444.4L779.37 427L779.71 475.15L780.05 503.14L780.39 473.08L780.73 492.85L781.07 442.17L781.41 446.24L781.75 488.6L782.09 467.3L782.43 442.72L782.77 471.86L783.11 471.04L783.45 441.17L783.79 466.75L784.13 474.24L784.47 444.99L784.81 467.89L785.15 472.2L785.49 450.63L785.83 469.1L786.17 471.2L786.5 445.97L786.84 472.77L787.18 470.59L787.52 485L787.86 479.01L788.2 469.76L788.54 446.31L788.88 476.18L789.22 471.26L789.56 433.17L789.9 430.74L790.24 475.45L790.58 442.75L790.92 443.8L791.26 488.14L791.6 482.43L791.94 451.46L792.28 456.4L792.62 486.7L792.96 481.07L793.3 429.11L793.64 437.73L793.98 508.65L794.32 412.97L794.66 440L795 520.54L795.34 480.43L795.68 479.81L796.01 438.13L796.35 430.41L796.69 469.88L797.03 485.93L797.37 457.8L797.71 448.72L798.05 456.66L798.39 475.82L798.73 474.2L799.07 451.55L799.41 449.46L799.75 487.8L800.09 485.26L800.43 473.1L800.77 457.38L801.11 458.87L801.45 475.56L801.79 477.49L802.13 461.96L802.47 452.52L802.81 459.81L803.15 477.38L803.49 476.8L803.83 464.74L804.17 464.13L804.51 471.37L804.85 477.78L805.19 466.13L805.52 446.23L805.86 451.36L806.2 470.1L806.54 464.36L806.88 434.08L807.22 442.52L807.56 478.94L807.9 473.12L808.24 444.71L808.58 447.9L808.92 479.84L809.26 431.68L809.6 443.64L809.94 447.91L810.28 476.79L810.62 471.82L810.96 453.99L811.3 463.47L811.64 486.1L811.98 476.91L812.32 457.34L812.66 461.22L813 486.69L813.34 474.71L813.68 443.27L814.02 436.35L814.36 483.99L814.7 485.03L815.03 453.08L815.37 448.58L815.71 471.45L816.05 485.12L816.39 475.28L816.73 441.07L817.07 493.04L817.41 469.94L817.75 474.84L818.09 431.68L818.43 441.1L818.77 448.72L819.11 479.62L819.45 474.52L819.79 438.56L820.13 435.52L820.47 473.75L820.81 479.57L821.15 450.76L821.49 447.4L821.83 477.34L822.17 488.01L822.51 452.23L822.85 443.37L823.19 479.78L823.53 486.62L823.87 491.55L824.21 448.62L824.54 471.93L824.88 477.33L825.22 454.91L825.56 446.2L825.9 470.31L826.24 486.39L826.58 453.84L826.92 433.15L827.26 432.61L827.6 481.84L827.94 467.85L828.28 436.12L828.62 449.01L828.96 481.61L829.3 478.22L829.64 447.98L829.98 448.71L830.32 471.42L830.66 476.09L831 460.16L831.34 451.72L831.68 462.36L832.02 478.23L832.36 476.18L832.7 464.71L833.04 465.5L833.38 478.61L833.72 479.05L834.05 464.68L834.39 484.06L834.73 473.47L835.07 477.68L835.41 466.55L835.75 463.4L836.09 474.68L836.43 477.58L836.77 463.26L837.11 460.06L837.45 473.93L837.79 471.06L838.13 450.3L838.47 460.75L838.81 474.48L839.15 454.53L839.49 452.28L839.83 465.45L840.17 461.99L840.51 448.28L840.85 456.26L841.19 469.73L841.53 450.15L841.87 437.47L842.21 471.35L842.55 479.06L842.89 444.52L843.23 433.55L843.56 466.7L843.9 485L844.24 459.34L844.58 451.72L844.92 461.9L845.26 483.21L845.6 474.29L845.94 451.7L846.28 485L846.62 472.62L846.96 470.16L847.3 456.63L847.64 456.52L847.98 471.95L848.32 471.28L848.66 446.64L849 450.71L849.34 470.97L849.68 467.6L850.02 453.12L850.36 456.68L850.7 468.36L851.04 462.52L851.38 449.7L851.72 461.82L852.06 472.37L852.4 457.64L852.74 451.81L853.07 470.88L853.41 478.14L853.75 462.59L854.09 459.77L854.43 473.41L854.77 480.19L855.11 484.06L855.45 451.13L855.79 460.34L856.13 479.87L856.47 471.97L856.81 448.28L857.15 448.04L857.49 442.9L857.83 480.35L858.17 465.64L858.51 449.98L858.85 454.96L859.19 477.58L859.53 474.24L859.87 453.89L860.21 446.96L860.55 468.84L860.89 481.51L861.23 468.69L861.57 454.33L861.91 460.58L862.25 475.28L862.58 469.5L862.92 456.36L863.26 459.59L863.6 477.19L863.94 468.79L864.28 449.94L864.62 459.56L864.96 471.67L865.3 466.1L865.64 455.11L865.98 461.28L866.32 476.4L866.66 470.15L867 453.64L867.34 456.85L867.68 473.02L868.02 473.27L868.36 459.05L868.7 455.24L869.04 479.38L869.38 473.8L869.72 471.96L870.06 452.14L870.4 447.25L870.74 465.34L871.08 477.49L871.42 468.72L871.76 431.3L872.09 448.32L872.43 465.84L872.77 469.8L873.11 455.21L873.45 444.91L873.79 460.86L874.13 480.85L874.47 481.26L874.81 455.34L875.15 459.51L875.49 476.67L875.83 472.64L876.17 456.34L876.51 453.43L876.85 469.77L877.19 477.03L877.53 469.99L877.87 453.14L878.21 452.26L878.55 475.71L878.89 480.32L879.23 480.32"/>
<rect class="fr" x="514.4" y="403.1" width="382.2" height="132.4"/>
<path class="tk" d="M531.77 535.5v5.2M599.7 535.5v5.2M667.63 535.5v5.2M735.56 535.5v5.2M803.49 535.5v5.2M871.42 535.5v5.2M514.4 413.2h-5.2M514.4 464.2h-5.2M514.4 515.2h-5.2"/>
<text class="tl xm" x="531.77" y="559.1">0</text>
<text class="tl xm" x="599.7" y="559.1">200</text>
<text class="tl xm" x="667.63" y="559.1">400</text>
<text class="tl xm" x="735.56" y="559.1">600</text>
<text class="tl xm" x="803.49" y="559.1">800</text>
<text class="tl xm" x="871.42" y="559.1">1000</text>
<text class="tl ye" x="504" y="418.96">0.5</text>
<text class="tl ye" x="504" y="469.96">0.0</text>
<text class="tl ye" x="504" y="520.96">−0.5</text>
<text class="tt xm" x="705.5" y="394.2">de_14_ball</text>
</g>
<g class="ax">
<path class="ln" d="M990.57 481.61L990.91 465.35L991.25 450.95L991.59 501.8L991.93 505.95L992.27 465.48L992.61 461.51L992.95 481.6L993.29 482.71L993.63 469.23L993.97 463.64L994.31 481.55L994.65 492.56L994.99 472.77L995.33 467.48L995.67 495.75L996.01 501.45L996.35 457.87L996.69 464.69L997.03 510.63L997.37 486.44L997.71 468.05L998.04 478.47L998.38 489.16L998.72 469.93L999.06 465.75L999.4 482.53L999.74 483.69L1000.08 459.47L1000.42 461.33L1000.76 484.19L1001.1 484.13L1001.44 449.82L1001.78 463.87L1002.12 493.42L1002.46 482.91L1002.8 459.18L1003.14 457.45L1003.48 476.57L1003.82 473.82L1004.16 455.7L1004.5 456.23L1004.84 482.6L1005.18 483.62L1005.52 465.37L1005.86 465.52L1006.2 485.54L1006.54 478.18L1006.88 459.35L1007.22 476.52L1007.55 488.26L1007.89 463.22L1008.23 464.56L1008.57 492.93L1008.91 461.18L1009.25 461.08L1009.59 487.77L1009.93 465.7L1010.27 468.76L1010.61 496.22L1010.95 464.65L1011.29 470.91L1011.63 488.42L1011.97 453.31L1012.31 477.5L1012.65 479.69L1012.99 450.81L1013.33 447.58L1013.67 475.17L1014.01 458.62L1014.35 484.4L1014.69 465.07L1015.03 457.12L1015.37 475.89L1015.71 461.89L1016.05 461.84L1016.39 481.5L1016.73 471.36L1017.06 471.82L1017.4 497.06L1017.74 478.41L1018.08 472.27L1018.42 499.96L1018.76 480.87L1019.1 464.3L1019.44 477.59L1019.78 476.52L1020.12 463.71L1020.46 465.28L1020.8 477.15L1021.14 469.67L1021.48 455.64L1021.82 480.67L1022.16 493.43L1022.5 460.54L1022.84 453.15L1023.18 486.29L1023.52 490.46L1023.86 458.72L1024.2 454.09L1024.54 488.17L1024.88 497.27L1025.22 444.82L1025.56 438.33L1025.9 498.86L1026.24 508.22L1026.57 446.21L1026.91 447.72L1027.25 490.73L1027.59 505.18L1027.93 420.45L1028.27 429.11L1028.61 525.22L1028.95 502.57L1029.29 460.46L1029.63 438.88L1029.97 459.93L1030.31 489.82L1030.65 483.27L1030.99 445.33L1031.33 444.72L1031.67 499.24L1032.01 506.45L1032.35 460.08L1032.69 437.24L1033.03 456.8L1033.37 516.8L1033.71 494.83L1034.05 456.16L1034.39 422.7L1034.73 455.32L1035.07 501.28L1035.41 498.44L1035.75 460.86L1036.08 440.06L1036.42 448.19L1036.76 478.9L1037.1 484.63L1037.44 482.53L1037.78 464.26L1038.12 460.48L1038.46 465.48L1038.8 484.94L1039.14 487.55L1039.48 479.9L1039.82 462.19L1040.16 461.92L1040.5 467.56L1040.84 480.69L1041.18 481.66L1041.52 466.77L1041.86 442.34L1042.2 450.3L1042.54 489.93L1042.88 498.17L1043.22 466.54L1043.56 443.63L1043.9 457.34L1044.24 442.34L1044.58 490.33L1044.92 504.64L1045.26 459.09L1045.59 486.74L1045.93 497.27L1046.27 468.45L1046.61 443.76L1046.95 463.15L1047.29 484.66L1047.63 480.34L1047.97 450.86L1048.31 457.75L1048.65 486.33L1048.99 485.06L1049.33 464.49L1049.67 459.86L1050.01 473.55L1050.35 478.57L1050.69 473.61L1051.03 454.9L1051.37 456.55L1051.71 476.1L1052.05 480.42L1052.39 473.8L1052.73 456.96L1053.07 457.87L1053.41 487.33L1053.75 501.36L1054.09 483.21L1054.43 439.8L1054.77 440.74L1055.1 484.11L1055.44 497.05L1055.78 474.55L1056.12 514L1056.46 456.64L1056.8 506L1057.14 484.23L1057.48 438.23L1057.82 445.96L1058.16 408.66L1058.5 466.84L1058.84 423.58L1059.18 489.59L1059.52 508.98L1059.86 448.3L1060.2 467.18L1060.54 508.47L1060.88 464.94L1061.22 454.75L1061.56 529.9L1061.9 469.13L1062.24 440.77L1062.58 493.22L1062.92 427.37L1063.26 445.78L1063.6 485.18L1063.94 490.18L1064.28 447.51L1064.61 451.1L1064.95 490.49L1065.29 459.42L1065.63 447.99L1065.97 488.55L1066.31 493.09L1066.65 447.69L1066.99 446.14L1067.33 482.26L1067.67 472.14L1068.01 434.77L1068.35 426.44L1068.69 477.7L1069.03 474.24L1069.37 440.36L1069.71 447.12L1070.05 488.55L1070.39 490.91L1070.73 461.46L1071.07 454.18L1071.41 467.92L1071.75 485.23L1072.09 488.39L1072.43 481.96L1072.77 479.57L1073.11 477.48L1073.45 495.29L1073.79 486.75L1074.12 482.43L1074.46 475.48L1074.8 462.06L1075.14 457.49L1075.48 466.7L1075.82 480.01L1076.16 480.44L1076.5 477.65L1076.84 468.2L1077.18 464.73L1077.52 467.93L1077.86 486.13L1078.2 491.55L1078.54 466.04L1078.88 456.8L1079.22 462.66L1079.56 475.61L1079.9 469.96L1080.24 457.83L1080.58 459.33L1080.92 472.8L1081.26 470.63L1081.6 451.15L1081.94 463.51L1082.28 449.45L1082.62 461.54L1082.96 485L1083.3 478.73L1083.63 473.68L1083.97 455.88L1084.31 463.37L1084.65 475.38L1084.99 459.07L1085.33 453.2L1085.67 477.92L1086.01 479.44L1086.35 458.43L1086.69 461.67L1087.03 482.72L1087.37 476.5L1087.71 455.35L1088.05 456.69L1088.39 480.17L1088.73 483.86L1089.07 448.2L1089.41 446.36L1089.75 483.78L1090.09 493.1L1090.43 430.18L1090.77 435.81L1091.11 458.51L1091.45 483.38L1091.79 479.85L1092.13 444.73L1092.47 452.08L1092.81 492.38L1093.14 506.89L1093.48 468.78L1093.82 459.24L1094.16 515.87L1094.5 494.46L1094.84 479.28L1095.18 447.3L1095.52 459.61L1095.86 495.49L1096.2 487.17L1096.54 445.49L1096.88 448.45L1097.22 441.97L1097.56 479.01L1097.9 457.89L1098.24 456.1L1098.58 474.01L1098.92 477.72L1099.26 465.25L1099.6 456.03L1099.94 469.91L1100.28 491.39L1100.62 481.87L1100.96 461.8L1101.3 468.71L1101.64 493.04L1101.98 490.57L1102.32 508.38L1102.65 448.94L1102.99 491.29L1103.33 497.37L1103.67 456.39L1104.01 445.61L1104.35 470.34L1104.69 477.57L1105.03 438.6L1105.37 454L1105.71 462.77L1106.05 489.62L1106.39 467.48L1106.73 440.12L1107.07 474.88L1107.41 486.77L1107.75 452.67L1108.09 447.5L1108.43 487.16L1108.77 488.73L1109.11 461.32L1109.45 478.46L1109.79 501.56L1110.13 457.49L1110.47 459.54L1110.81 492.65L1111.15 467.47L1111.49 457L1111.83 489.93L1112.16 480.84L1112.5 507.45L1112.84 490.8L1113.18 483.97L1113.52 453.23L1113.86 439.16L1114.2 481.95L1114.54 451.57L1114.88 466.28L1115.22 480.89L1115.56 454.25L1115.9 464.08L1116.24 487.56L1116.58 468.79L1116.92 467.17L1117.26 498.19L1117.6 481.13L1117.94 451.31L1118.28 487.84L1118.62 484.35L1118.96 440.22L1119.3 479.95L1119.64 489.3L1119.98 432.99L1120.32 461.88L1120.66 512.13L1121 456.77L1121.34 446.84L1121.67 496.47L1122.01 483.37L1122.35 462.22L1122.69 478.24L1123.03 483.61L1123.37 465.8L1123.71 464.28L1124.05 485.58L1124.39 480.89L1124.73 456.14L1125.07 464.04L1125.41 481.56L1125.75 470.24L1126.09 460.01L1126.43 475.58L1126.77 481.18L1127.11 470.61L1127.45 467.88L1127.79 485.69L1128.13 492.48L1128.47 462.82L1128.81 459.56L1129.15 479.04L1129.49 476.68L1129.83 459.71L1130.17 461.97L1130.51 478.2L1130.85 444.21L1131.18 447.7L1131.52 473.24L1131.86 484.32L1132.2 459.86L1132.54 460.29L1132.88 482.42L1133.22 476.8L1133.56 461.63L1133.9 472.43L1134.24 480.99L1134.58 461.33L1134.92 486.87L1135.26 479.69L1135.6 474.73L1135.94 460.95L1136.28 469.62L1136.62 478.2L1136.96 462.85L1137.3 458.9L1137.64 475.15L1137.98 475.56L1138.32 449.04L1138.66 455.24L1139 484.7L1139.34 441.03L1139.68 453.72L1140.02 473.19L1140.36 511.41L1140.69 485.36L1141.03 514.37L1141.37 489.71L1141.71 498.78L1142.05 468.79L1142.39 454.09L1142.73 490.37L1143.07 502.3L1143.41 460.14L1143.75 450.39L1144.09 500.96L1144.43 495.03L1144.77 460.64L1145.11 466.4L1145.45 485.88L1145.79 477.86L1146.13 452.84L1146.47 471.5L1146.81 481.79L1147.15 467.9L1147.49 454.65L1147.83 476.66L1148.17 491.48L1148.51 468.42L1148.85 457.15L1149.19 469.43L1149.53 479L1149.87 472.85L1150.2 447.21L1150.54 491.55L1150.88 484.94L1151.22 480.02L1151.56 450.68L1151.9 447.47L1152.24 436.73L1152.58 477.16L1152.92 473.97L1153.26 447.39L1153.6 451.79L1153.94 494.84L1154.28 514.6L1154.62 503.47L1154.96 518.67L1155.3 461.85L1155.64 464.76L1155.98 482.5L1156.32 487.73L1156.66 485.09L1157 476.71L1157.34 457.68L1157.68 454.11L1158.02 454.6L1158.36 462.65L1158.7 485.57L1159.04 488.33L1159.38 477.52L1159.71 454.56L1160.05 427.56L1160.39 438.46L1160.73 450.81L1161.07 483.28L1161.41 499.16L1161.75 497.09L1162.09 465.29L1162.43 504.64L1162.77 453.8L1163.11 469.02L1163.45 477.93L1163.79 478.8L1164.13 461.17L1164.47 451.95L1164.81 458.54L1165.15 482.12L1165.49 484.66L1165.83 474.48L1166.17 466.13L1166.51 468.15L1166.85 479.36L1167.19 486.28L1167.53 476.71L1167.87 458.31L1168.21 462.13L1168.55 488.41L1168.89 491.62L1169.22 465.08L1169.56 453.04L1169.9 468.05L1170.24 484.19L1170.58 481.09L1170.92 451.69L1171.26 442.49L1171.6 493.36L1171.94 501.53L1172.28 420.45L1172.62 424.66L1172.96 475.69L1173.3 493L1173.64 477.2L1173.98 459.1L1174.32 469.86L1174.66 506.29L1175 509.32L1175.34 455.78L1175.68 456.77L1176.02 487.71L1176.36 485.65L1176.7 460.26L1177.04 456.31L1177.38 480.24L1177.72 487.5L1178.06 467.43L1178.4 461.85L1178.73 478.38L1179.07 481.91L1179.41 466.88L1179.75 457.64L1180.09 476.89L1180.43 481.62L1180.77 459.94L1181.11 459.4L1181.45 488.8L1181.79 491.7L1182.13 454.86L1182.47 439.16L1182.81 498.01L1183.15 500.9L1183.49 441.22L1183.83 476.73L1184.17 482.39L1184.51 456.45L1184.85 457.76L1185.19 478.77L1185.53 474.08L1185.87 454.61L1186.21 465.18L1186.55 490.63L1186.89 451.54L1187.23 442.59L1187.57 489.17L1187.91 436.35L1188.24 439.46L1188.58 472.32L1188.92 481.94L1189.26 457.96L1189.6 462.41L1189.94 494.59L1190.28 466.91L1190.62 463.62L1190.96 496L1191.3 468.05L1191.64 445.16L1191.98 488.59L1192.32 472.81L1192.66 433.1L1193 485.75L1193.34 474.45L1193.68 421.39L1194.02 494.54L1194.36 486.73L1194.7 442.49L1195.04 480.51L1195.38 487.52L1195.72 436.2L1196.06 462.12L1196.4 493.7L1196.74 508.38L1197.08 449.67L1197.42 505.19L1197.75 486.24L1198.09 460.6L1198.43 492.44L1198.77 491.75L1199.11 462.64L1199.45 466.93L1199.79 495.32L1200.13 465.63L1200.47 456.09L1200.81 481.59L1201.15 476.8L1201.49 458.34L1201.83 473.38L1202.17 478.04L1202.51 446.92L1202.85 453.6L1203.19 488.19L1203.53 453.36L1203.87 446.29L1204.21 486.69L1204.55 429.24L1204.89 441.46L1205.23 476.42L1205.57 484.24L1205.91 445.54L1206.25 464.8L1206.59 503.87L1206.93 469.74L1207.26 463.21L1207.6 490.62L1207.94 490.35L1208.28 450.28L1208.62 465.29L1208.96 508.9L1209.3 463.95L1209.64 517.36L1209.98 483.12L1210.32 482.14L1210.66 419.89L1211 447.42L1211.34 478.78L1211.68 471.43L1212.02 434.4L1212.36 461.78L1212.7 494.46L1213.04 455.43L1213.38 453.01L1213.72 476.9L1214.06 479.62L1214.4 462.94L1214.74 463.64L1215.08 482.79L1215.42 485.62L1215.76 456.14L1216.1 459.56L1216.44 495.63L1216.77 500.9L1217.11 453.18L1217.45 453.42L1217.79 480.89L1218.13 480.14L1218.47 443.46L1218.81 454.16L1219.15 468.22L1219.49 481.83L1219.83 480.85L1220.17 464.86L1220.51 466.43L1220.85 475.69L1221.19 481.35L1221.53 480.58L1221.87 470.7L1222.21 464.21L1222.55 467.07L1222.89 482.93L1223.23 490.09L1223.57 494.58L1223.91 476.73L1224.25 499.96L1224.59 459.86L1224.93 467.46L1225.27 488.43L1225.61 489.26L1225.95 478.65L1226.28 461.39L1226.62 449.45L1226.96 456.41L1227.3 480.29L1227.64 487.75L1227.98 480.11L1228.32 463.98L1228.66 464.46L1229 479.22L1229.34 482.78L1229.68 487.8L1230.02 467.92L1230.36 470.96L1230.7 484.4L1231.04 481.78L1231.38 471.66L1231.72 472.81L1232.06 479.69L1232.4 476.51L1232.74 466.02L1233.08 466.29L1233.42 480.79L1233.76 471.77L1234.1 447.02L1234.44 457.87L1234.78 479.72L1235.12 477.5L1235.46 451.87L1235.79 460.45L1236.13 489.1L1236.47 490.38L1236.81 469.06L1237.15 463.85L1237.49 478.91L1237.83 503.28L1238.17 493.96L1238.51 452.32L1238.85 443.15L1239.19 506.51L1239.53 499.96L1239.87 498.11L1240.21 457.62L1240.55 447.8L1240.89 454.49L1241.23 424.19L1241.57 497.31L1241.91 462.91L1242.25 441.95L1242.59 452.64L1242.93 496.53L1243.27 504.52L1243.61 471.6L1243.95 454.16L1244.29 509.88L1244.63 499.19L1244.97 489.49L1245.3 467.26L1245.64 464.9L1245.98 483.83L1246.32 491.68L1246.66 469.59L1247 452.91L1247.34 483.27L1247.68 508.45L1248.02 486.88L1248.36 463.18L1248.7 475.59L1249.04 497.26L1249.38 512.13L1249.72 453.36L1250.06 472.51L1250.4 491.66L1250.74 469.09L1251.08 446.64L1251.42 481.52L1251.76 497.16L1252.1 465.23L1252.44 459.14L1252.78 492.61L1253.12 502.46L1253.46 455.58L1253.8 455.91L1254.14 511.19L1254.48 495.14L1254.81 442.95L1255.15 467.01L1255.49 433.55L1255.83 463.34L1256.17 446.97L1256.51 489.65L1256.85 506.25L1257.19 447.73L1257.53 450L1257.87 519.61L1258.21 491L1258.55 457.31L1258.89 464.32L1259.23 485.59L1259.57 470.33L1259.91 446.24L1260.25 461.52L1260.59 479.35L1260.93 467.73L1261.27 444.25L1261.61 454.64L1261.95 478.89L1262.29 473.65L1262.63 456.61L1262.97 455.15L1263.31 469.64L1263.65 474.39L1263.99 470.02L1264.32 452.55L1264.66 456.48L1265 479.04L1265.34 490.58L1265.68 485.78L1266.02 460.58L1266.36 459.11L1266.7 473.31L1267.04 493.43L1267.38 501.12L1267.72 485.77L1268.06 504.64L1268.4 464.24L1268.74 484.01L1269.08 493.9L1269.42 486.31L1269.76 468.16L1270.1 462.72L1270.44 466.31L1270.78 482.51L1271.12 489.35L1271.46 466.32L1271.8 440.1L1272.14 449.26L1272.48 486.51L1272.82 490.97L1273.16 473.65L1273.5 454.09L1273.83 465.57L1274.17 482.22L1274.51 497.16L1274.85 470.93L1275.19 449.42L1275.53 453.03L1275.87 485.27L1276.21 490.67L1276.55 441.03L1276.89 446.8L1277.23 455.94L1277.57 475.08L1277.91 481.87L1278.25 477.53L1278.59 453.4L1278.93 444.15L1279.27 458.06L1279.61 493.17L1279.95 496.17L1280.29 471.8L1280.63 434.48L1280.97 448.13L1281.31 476.33L1281.65 494.91L1281.99 495.57L1282.33 463.81L1282.67 451.92L1283.01 514L1283.34 494.8L1283.68 494.27L1284.02 477.27L1284.36 440.78L1284.7 444.69L1285.04 480.42L1285.38 487.18L1285.72 465.02L1286.06 446.52L1286.4 455.96L1286.74 488.92L1287.08 438.22L1287.42 447.02L1287.76 453.35L1288.1 478.96L1288.44 479.14L1288.78 468.46L1289.12 470.39L1289.46 482.87L1289.8 482.85L1290.14 466.38L1290.48 466.88L1290.82 486.07L1291.16 478.59L1291.5 458.27L1291.84 470.8L1292.18 455.06L1292.52 469.17L1292.85 490.61L1293.19 480.15L1293.53 486.28L1293.87 464.04L1294.21 463.45L1294.55 485.16L1294.89 484.04L1295.23 463.68L1295.57 468.14L1295.91 480.7L1296.25 477.89L1296.59 465.59L1296.93 467.19L1297.27 456L1297.61 480.5L1297.95 458.3L1298.29 467.17L1298.63 492.21L1298.97 484.04L1299.31 471.87L1299.65 477.29L1299.99 496.34L1300.33 499.96L1300.67 457.7L1301.01 468.28L1301.35 489.18L1301.69 476.31L1302.03 447.46L1302.36 444.4L1302.7 486.22L1303.04 468.01L1303.38 456.41L1303.72 486.13L1304.06 503.66L1304.4 469.67L1304.74 456.88L1305.08 495.15L1305.42 511.19L1305.76 461.17L1306.1 458.11L1306.44 485.13L1306.78 494.55L1307.12 459.22L1307.46 451.1L1307.8 467.49L1308.14 476.45L1308.48 427L1308.82 430.25L1309.16 443.5L1309.5 492.48L1309.84 496.92L1310.18 459.7L1310.52 452.22L1310.86 465.42L1311.2 489.39L1311.54 489.67L1311.87 460.46L1312.21 512.13L1312.55 461.47L1312.89 495.92L1313.23 495.72L1313.57 469.64L1313.91 459.81L1314.25 463.69L1314.59 482.39L1314.93 485.64L1315.27 477.27L1315.61 453.9L1315.95 455.13L1316.29 480.96L1316.63 489.28L1316.97 482.33L1317.31 460.07L1317.65 496.22L1317.99 486.28L1318.33 492.84L1318.67 463.25L1319.01 446.65L1319.35 443.84L1319.69 478.39L1320.03 475.16L1320.37 456.77L1320.71 461.26L1321.05 483.54L1321.38 485.24L1321.72 449.08L1322.06 459.85L1322.4 490.84L1322.74 477.72L1323.08 450.37L1323.42 481.82L1323.76 491.29L1324.1 464.81L1324.44 465.08L1324.78 501.81L1325.12 484.73L1325.46 459.11L1325.8 492.29L1326.14 491.82L1326.48 452.9L1326.82 471.95L1327.16 496.44L1327.5 462.95L1327.84 509.32L1328.18 503.44L1328.52 464.85L1328.86 449.16L1329.2 494.57L1329.54 476.26L1329.88 443L1330.22 479.81L1330.56 478.32L1330.89 451.2L1331.23 473.61L1331.57 436.73L1331.91 445.22L1332.25 455.89L1332.59 508.16L1332.93 467.52L1333.27 464.08L1333.61 505.86L1333.95 519.23L1334.29 448.21L1334.63 469.15L1334.97 484.45L1335.31 458.66L1335.65 457.34L1335.99 481.28L1336.33 479.92L1336.67 455.16L1337.01 464.45L1337.35 480.23L1337.69 469.16L1338.03 469.62"/>
<rect class="fr" x="973.2" y="403.1" width="382.2" height="132.4"/>
<path class="tk" d="M990.57 535.5v5.2M1058.5 535.5v5.2M1126.43 535.5v5.2M1194.36 535.5v5.2M1262.29 535.5v5.2M1330.22 535.5v5.2M973.2 438.7h-5.2M973.2 475.7h-5.2M973.2 512.7h-5.2"/>
<text class="tl xm" x="990.57" y="559.1">0</text>
<text class="tl xm" x="1058.5" y="559.1">200</text>
<text class="tl xm" x="1126.43" y="559.1">400</text>
<text class="tl xm" x="1194.36" y="559.1">600</text>
<text class="tl xm" x="1262.29" y="559.1">800</text>
<text class="tl xm" x="1330.22" y="559.1">1000</text>
<text class="tl ye" x="962.8" y="444.46">0.2</text>
<text class="tl ye" x="962.8" y="481.46">0.0</text>
<text class="tl ye" x="962.8" y="518.46">−0.2</text>
<text class="tt xm" x="1164.3" y="394.2">de_14_outer</text>
</g>
<g class="ax">
<path class="ln" d="M73.07 627.41L73.41 637.93L73.75 681.29L74.09 667.92L74.43 677.09L74.77 671.3L75.11 645.99L75.45 681.29L75.79 645.27L76.13 667.41L76.47 675.57L76.81 672.95L77.15 660.32L77.49 654.51L77.83 654.85L78.17 663.32L78.51 670.36L78.85 669.92L79.19 662.22L79.53 649.79L79.87 649.31L80.21 658.76L80.54 670.65L80.88 670.13L81.22 641.62L81.56 650.4L81.9 676.61L82.24 665.96L82.58 671.87L82.92 665.45L83.26 651.03L83.6 652.8L83.94 662.41L84.28 668.8L84.62 665.96L84.96 654.2L85.3 653.76L85.64 667.24L85.98 670.38L86.32 654.82L86.66 650.53L87 665.64L87.34 676.81L87.68 658.64L88.02 647.87L88.36 665.19L88.7 678.54L89.04 648.54L89.38 622.58L89.72 672.9L90.05 689.15L90.39 623.61L90.73 621.14L91.07 677.4L91.41 675.9L91.75 617.91L92.09 594.29L92.43 711.46L92.77 714.96L93.11 607.48L93.45 681.35L93.79 684.98L94.13 630.02L94.47 643.39L94.81 686.78L95.15 646.74L95.49 633.48L95.83 674.78L96.17 669.76L96.51 644.42L96.85 657.96L97.19 680.9L97.53 653.62L97.87 644.17L98.21 676.88L98.55 685.03L98.89 641.69L99.23 649.84L99.56 673.59L99.9 633.58L100.24 645.03L100.58 651.66L100.92 674.73L101.26 666.33L101.6 641.82L101.94 648.01L102.28 668.69L102.62 668.11L102.96 677.55L103.3 652.29L103.64 664.98L103.98 672.56L104.32 659.08L104.66 649.27L105 656.21L105.34 668.96L105.68 664.19L106.02 652.11L106.36 655.56L106.7 667.47L107.04 664.22L107.38 651L107.72 654.19L108.06 670.48L108.4 655.65L108.74 644.7L109.07 661.98L109.41 641.06L109.75 646.11L110.09 650.4L110.43 666.48L110.77 654.63L111.11 646.36L111.45 669.25L111.79 668.71L112.13 645.79L112.47 657.91L112.81 670.56L113.15 650.7L113.49 644.68L113.83 676.57L114.17 676.09L114.51 634.06L114.85 643.89L115.19 676L115.53 663.23L115.87 614.87L116.21 649.94L116.55 685.62L116.89 614.87L117.23 620.87L117.57 703.74L117.91 683.04L118.25 668.08L118.58 627.85L118.92 640.94L119.26 671.49L119.6 670.27L119.94 642.28L120.28 643.14L120.62 669.6L120.96 672.78L121.3 653.01L121.64 650.33L121.98 670.45L122.32 681.53L122.66 653.79L123 642.79L123.34 674.04L123.68 687.84L124.02 653.83L124.36 644.22L124.7 664.7L125.04 673.16L125.38 652.44L125.72 637.32L126.06 652.42L126.4 669.99L126.74 665.39L127.08 649.94L127.42 650.44L127.76 666.79L128.09 671.93L128.43 665L128.77 653.04L129.11 674.74L129.45 662.79L129.79 667.69L130.13 668.43L130.47 657.31L130.81 651.66L131.15 652.99L131.49 662.02L131.83 665.79L132.17 664.9L132.51 660.68L132.85 650.78L133.19 647.99L133.53 654.01L133.87 670.06L134.21 668.74L134.55 665.1L134.89 655.3L135.23 651.59L135.57 652.61L135.91 661.46L136.25 667.31L136.59 666.43L136.93 657.72L137.27 646.22L137.6 636.95L137.94 654.37L138.28 668.38L138.62 669.99L138.96 653.87L139.3 639.28L139.64 643.33L139.98 666.56L140.32 676.05L140.66 671.31L141 651.57L141.34 648.9L141.68 672.69L142.02 684.89L142.36 690.64L142.7 649.97L143.04 652.26L143.38 637.32L143.72 684.7L144.06 657.97L144.4 642.5L144.74 654.16L145.08 672.05L145.42 666.07L145.76 651.27L146.1 652.16L146.44 666.31L146.78 668.5L147.11 658.29L147.45 652.82L147.79 657.51L148.13 663.7L148.47 664.53L148.81 659.32L149.15 656.33L149.49 659.31L149.83 669.79L150.17 670.78L150.51 660.83L150.85 653.83L151.19 674.74L151.53 667.91L151.87 671.59L152.21 664.38L152.55 651.16L152.89 650.01L153.23 658.33L153.57 666.56L153.91 664.31L154.25 651.55L154.59 647.42L154.93 651.01L155.27 643.49L155.61 667.35L155.95 654.48L156.29 645.83L156.62 649.63L156.96 664.18L157.3 667.01L157.64 661.07L157.98 653.02L158.32 654.52L158.66 671L159 668.36L159.34 661.83L159.68 653.36L160.02 655.22L160.36 662.77L160.7 664.15L161.04 659.13L161.38 653.55L161.72 654.73L162.06 663.41L162.4 661.9L162.74 652.46L163.08 648.55L163.42 659.01L163.76 663.68L164.1 657.77L164.44 651.41L164.78 655.14L165.12 662.88L165.46 660.9L165.8 655.57L166.13 655.29L166.47 660.01L166.81 661.93L167.15 661.04L167.49 656.39L167.83 655.13L168.17 658.04L168.51 664.19L168.85 665.01L169.19 662.43L169.53 665.38L169.87 656.44L170.21 656.69L170.55 658.49L170.89 662.71L171.23 664.32L171.57 654.72L171.91 662.18L172.25 658.03L172.59 656.85L172.93 656.28L173.27 656.52L173.61 660.31L173.95 662.29L174.29 663.75L174.63 662.6L174.97 657.55L175.31 656.2L175.64 656.73L175.98 660.44L176.32 663.14L176.66 662.91L177 657.7L177.34 654.65L177.68 657.02L178.02 663.96L178.36 662.97L178.7 656.36L179.04 653.6L179.38 663.71L179.72 665.38L180.06 656.57L180.4 657.9L180.74 663.77L181.08 657.72L181.42 656.12L181.76 661.73L182.1 658.62L182.44 656.84L182.78 661.33L183.12 658.06L183.46 657.57L183.8 662.07L184.14 656.68L184.48 659.36L184.82 660.81L185.15 656.34L185.49 661.21L185.83 660.1L186.17 657.33L186.51 662.61L186.85 657.86L187.19 657.75L187.53 663.8L187.87 651.95L188.21 655.01L188.55 670.54L188.89 642.31L189.23 654.97L189.57 667.9L189.91 644.28L190.25 651.5L190.59 670.06L190.93 643.32L191.27 643.86L191.61 678.96L191.95 653.44L192.29 631.15L192.63 667.09L192.97 670.29L193.31 638.05L193.65 652.54L193.99 685.84L194.33 655.27L194.66 687.84L195 672.56L195.34 672.39L195.68 636.44L196.02 643.42L196.36 676.1L196.7 658.4L197.04 634.37L197.38 661.37L197.72 670.58L198.06 635.15L198.4 622.35L198.74 669.79L199.08 669.94L199.42 634.12L199.76 640.27L200.1 680.74L200.44 686.9L200.78 645.74L201.12 652.42L201.46 674.46L201.8 671.87L202.14 650.55L202.48 650.92L202.82 669.57L203.16 672.61L203.5 657.65L203.84 651.96L204.17 658.36L204.51 667.83L204.85 662.37L205.19 648.98L205.53 651.83L205.87 645.37L206.21 664.24L206.55 650.13L206.89 651.48L207.23 665.24L207.57 664.25L207.91 653.87L208.25 655.95L208.59 663.07L208.93 662.85L209.27 656.65L209.61 657.44L209.95 664.6L210.29 665.3L210.63 655.03L210.97 655.63L211.31 668.16L211.65 668.51L211.99 655.68L212.33 653.54L212.67 665.16L213.01 670.98L213.35 655.87L213.68 642.67L214.02 655.05L214.36 678.26L214.7 675.22L215.04 647.03L215.38 641.47L215.72 671.24L216.06 690.64L216.4 665.63L216.74 627.46L217.08 635.89L217.42 685.72L217.76 679.81L218.1 602.15L218.44 609.35L218.78 662.7L219.12 685.39L219.46 669.75L219.8 628.08L220.14 703.74L220.48 690.81L220.82 679.47L221.16 642.79L221.5 648.07L221.84 675.57L222.18 675.83L222.52 654.43L222.86 654.32L223.19 668.41L223.53 670.08L223.87 653.24L224.21 651.22L224.55 665.9L224.89 669.07L225.23 651.52L225.57 645.68L225.91 636.01L226.25 676.49L226.59 677.55L226.93 642.61L227.27 657.33L227.61 669.66L227.95 664.98L228.29 653.07L228.63 653.64L228.97 665.2L229.31 667.25L229.65 661.93L229.99 649.85L230.33 651.43L230.67 665.14L231.01 666.25L231.35 662.49L231.69 650.83L232.03 647.93L232.37 654.03L232.7 670.05L233.04 671.74L233.38 661.27L233.72 643.04L234.06 642.44L234.4 639.19L234.74 669.89L235.08 674.74L235.42 654.1L235.76 644.58L236.1 647.26L236.44 663L236.78 665.75L237.12 659.04L237.46 648.3L237.8 650.42L238.14 670.17L238.48 675.38L238.82 652.23L239.16 640.69L239.5 660.87L239.84 672.86L240.18 660.53L240.52 632.02L240.86 637.94L241.2 685L241.54 678.35L241.88 621.82L242.21 613.18L242.55 597.47L242.89 683.21L243.23 707.48L243.57 622.81L243.91 670.32L244.25 700.19L244.59 666.08L244.93 633.74L245.27 646.09L245.61 681L245.95 676.06L246.29 647.48L246.63 643.71L246.97 674.22L247.31 685.49L247.65 659.3L247.99 647.96L248.33 661.49L248.67 681.87L249.01 689.71L249.35 643.59L249.69 650.92L250.03 677.38L250.37 662.64L250.71 635.21L251.05 652.19L251.39 670.76L251.72 649.82L252.06 633.02L252.4 660.92L252.74 667.02L253.08 646.75L253.42 649.57L253.76 668.58L254.1 666.9L254.44 655.96L254.78 658.47L255.12 666.2L255.46 662.66L255.8 651.88L256.14 657.92L256.48 668.35L256.82 660.92L257.16 652.97L257.5 657.78L257.84 668.97L258.18 661.83L258.52 650.75L258.86 653.06L259.2 667.49L259.54 665.38L259.88 648.17L260.22 647.24L260.56 643.49L260.9 671.34L261.23 671.93L261.57 648.27L261.91 651.47L262.25 666.03L262.59 666.03L262.93 654.62L263.27 649.96L263.61 655.71L263.95 667.74L264.29 667.79L264.63 654.75L264.97 649.48L265.31 653.96L265.65 666.99L265.99 665.62L266.33 650.92L266.67 647.23L267.01 665.18L267.35 679.34L267.69 668.24L268.03 641.06L268.37 653.06L268.71 684.09L269.05 672.87L269.39 646.45L269.73 645.36L270.07 672.37L270.41 672.4L270.74 650.52L271.08 649.85L271.42 666.09L271.76 669.24L272.1 650.68L272.44 646.87L272.78 668.18L273.12 674.45L273.46 655.31L273.8 649.6L274.14 664.56L274.48 675.67L274.82 658.25L275.16 650.59L275.5 658.93L275.84 667.57L276.18 662.41L276.52 654.09L276.86 656.33L277.2 664.47L277.54 662.69L277.88 651.49L278.22 652.71L278.56 665.28L278.9 666.68L279.24 652.94L279.58 653.7L279.92 671L280.25 666.92L280.59 652.55L280.93 652.87L281.27 666.12L281.61 663.77L281.95 646.68L282.29 653.14L282.63 667.01L282.97 662.35L283.31 651.83L283.65 659.11L283.99 665.5L284.33 658.36L284.67 653.27L285.01 662L285.35 664.15L285.69 657.18L286.03 653.09L286.37 661.99L286.71 666.79L287.05 655.13L287.39 648.29L287.73 657.98L288.07 665.57L288.41 659.24L288.75 649.8L289.09 653.18L289.43 670.08L289.76 665.84L290.1 643.18L290.44 646.8L290.78 665.59L291.12 633.02L291.46 646.49L291.8 646.61L292.14 673.26L292.48 681.12L292.82 651.07L293.16 644.12L293.5 672.42L293.84 686.9L294.18 662.25L294.52 651.63L294.86 659.59L295.2 677.44L295.54 673.38L295.88 654.89L296.22 652.34L296.56 667.08L296.9 672.46L297.24 663.33L297.58 649.78L297.92 652.07L298.26 660.92L298.6 665.33L298.94 664.09L299.27 658.26L299.61 658.03L299.95 661.56L300.29 668.85L300.63 667.73L300.97 669.69L301.31 656.84L301.65 656.65L301.99 660.39L302.33 661.21L302.67 649.48L303.01 653.62L303.35 652.88L303.69 657.66L304.03 662.75L304.37 660.86L304.71 654.82L305.05 654.97L305.39 659.78L305.73 662.34L306.07 663.51L306.41 655.98L306.75 656.73L307.09 661.73L307.43 661.21L307.77 655.59L308.11 655.78L308.45 661.63L308.78 662.01L309.12 657.14L309.46 657.03L309.8 661.35L310.14 661.08L310.48 656.32L310.82 656.49L311.16 662.1L311.5 660.5L311.84 654.78L312.18 658.21L312.52 662.44L312.86 657.73L313.2 655.57L313.54 660.67L313.88 653.6L314.22 655.37L314.56 663.51L314.9 662.53L315.24 661.68L315.58 655.42L315.92 657.62L316.26 663.01L316.6 658.26L316.94 655.68L317.28 661.01L317.62 661.64L317.96 656.06L318.29 657.94L318.63 662.42L318.97 658.98L319.31 663.51L319.65 662.29L319.99 662.31L320.33 656.77L320.67 658.66L321.01 661.9L321.35 658.31L321.69 656.46L322.03 661.68L322.37 662.02L322.71 657.01L323.05 658.71L323.39 663.09L323.73 659.1L324.07 663.51L324.41 660.77L324.75 662.03L325.09 656.52L325.43 655.82L325.77 662.24L326.11 661.73L326.45 656.49L326.79 657.54L327.13 661.34L327.47 659.25L327.8 654.16L328.14 659.66L328.48 662.36L328.82 656.08L329.16 656.08L329.5 660.93L329.84 659.94L330.18 655.98L330.52 659.38L330.86 661.39L331.2 655.94L331.54 656.21L331.88 662.51L332.22 658.02L332.56 656.56L332.9 661.44L333.24 660.99L333.58 657.48L333.92 661.64L334.26 663.21L334.6 658.04L334.94 660.28L335.28 664.39L335.62 657.31L335.96 657.44L336.3 663.14L336.64 655.54L336.98 654.62L337.31 666.16L337.65 656.87L337.99 652.78L338.33 668.26L338.67 662.55L339.01 648.2L339.35 666.38L339.69 665.3L340.03 648.51L340.37 666.89L340.71 671.72L341.05 641.95L341.39 661.56L341.73 676.04L342.07 632.53L342.41 641.27L342.75 680.9L343.09 638.83L343.43 634.09L343.77 684.56L344.11 618.05L344.45 627.16L344.79 692.14L345.13 674.3L345.47 633.76L345.81 644.08L346.15 679.41L346.49 668.74L346.82 638.62L347.16 658.12L347.5 683.23L347.84 656.45L348.18 638.39L348.52 661.78L348.86 673.11L349.2 663.09L349.54 647.93L349.88 652.75L350.22 673.29L350.56 668.53L350.9 637.32L351.24 640.5L351.58 663.15L351.92 669.83L352.26 658.2L352.6 642.58L352.94 650.1L353.28 667.53L353.62 667.55L353.96 653.99L354.3 651.45L354.64 658.11L354.98 669.15L355.32 665.69L355.66 655.39L356 657.12L356.33 664.8L356.67 666.67L357.01 657.6L357.35 649.41L357.69 656.82L358.03 669.17L358.37 664.71L358.71 645.44L359.05 676.61L359.39 669.45L359.73 663.88L360.07 645.91L360.41 644.86L360.75 639.19L361.09 665.96L361.43 647.18L361.77 644.29L362.11 663.96L362.45 667.83L362.79 655.54L363.13 652.37L363.47 664.89L363.81 676.07L364.15 652.57L364.49 639.36L364.83 665.8L365.17 673.37L365.51 643.36L365.84 629.84L366.18 666.85L366.52 674.06L366.86 619.97L367.2 618.78L367.54 696.85L367.88 669.21L368.22 598.08L368.56 595.6L368.9 689.59L369.24 713.47L369.58 628.74L369.92 697.88L370.26 645.28L370.6 614.17L370.94 678.41L371.28 671.19L371.62 635.97L371.96 667.75L372.3 676.03L372.64 645.61L372.98 655.06L373.32 677.38L373.66 645.7L374 647.63L374.34 673.09L374.68 653.95L375.02 643.32L375.35 671.01L375.69 664.71L376.03 636L376.37 671.26L376.71 675.09L377.05 639.85L377.39 628.9L377.73 671.71L378.07 681.29L378.41 646.21L378.75 669.54L379.09 652.59L379.43 641L379.77 672.09L380.11 669.45L380.45 647.78L380.79 664.98L381.13 668.61L381.47 650.67L381.81 654.97L382.15 672.44L382.49 652.55L382.83 653.78L383.17 673.04L383.51 655.55L383.85 652.48L384.19 669.4L384.53 654.09L384.86 642.93L385.2 668.88L385.54 651.21L385.88 650.89L386.22 667.12L386.56 653.18L386.9 653.24L387.24 667.35L387.58 652.92L387.92 652.06L388.26 671.01L388.6 652.41L388.94 650.42L389.28 671.62L389.62 659.86L389.96 648.92L390.3 669.35L390.64 672.41L390.98 645.96L391.32 649.52L391.66 672.68L392 665.49L392.34 646L392.68 652.99L393.02 680.55L393.36 632.27L393.7 641.35L394.04 685.03L394.37 673.45L394.71 669.27L395.05 641.74L395.39 641.47L395.73 667.68L396.07 670.41L396.41 647.97L396.75 640.45L397.09 666.49L397.43 674.67L397.77 656.96L398.11 652.18L398.45 664.06L398.79 671.69L399.13 658.66L399.47 650.51L399.81 670.46L400.15 679.02L400.49 658.5L400.83 654.48L401.17 680.35L401.51 669.6L401.85 652.14L402.19 653.13L402.53 666.34L402.87 645.74L403.21 647.32L403.55 660.76L403.88 669.08L404.22 655.88L404.56 655.22L404.9 666.26L405.24 665.65L405.58 655.35L405.92 658.72L406.26 671L406.6 662.05L406.94 656.29L407.28 663.24L407.62 665.46L407.96 658.69L408.3 656.54L408.64 662.21L408.98 666.17L409.32 657.51L409.66 651.5L410 656.71L410.34 666.74L410.68 649.48L411.02 655.49L411.36 653.73L411.7 657.41L412.04 668.88L412.38 670.78L412.72 664.42L413.06 653L413.39 651.17L413.73 654.25L414.07 668L414.41 674.99L414.75 672.86L415.09 657.7L415.43 639.87L415.77 633.9L416.11 641.53L416.45 667.86L416.79 678.08L417.13 680.62L417.47 661.24L417.81 646.1L418.15 645.74L418.49 661.14L418.83 705.23L419.17 692.84L419.51 626.66L419.85 628.42L420.19 638.29L420.53 703.74"/>
<rect class="fr" x="55.7" y="588.5" width="382.2" height="132.4"/>
<path class="tk" d="M73.07 720.9v5.2M141 720.9v5.2M208.93 720.9v5.2M276.86 720.9v5.2M344.79 720.9v5.2M412.72 720.9v5.2M55.7 606h-5.2M55.7 660h-5.2M55.7 714h-5.2"/>
<text class="tl xm" x="73.07" y="744.5">0</text>
<text class="tl xm" x="141" y="744.5">200</text>
<text class="tl xm" x="208.93" y="744.5">400</text>
<text class="tl xm" x="276.86" y="744.5">600</text>
<text class="tl xm" x="344.79" y="744.5">800</text>
<text class="tl xm" x="412.72" y="744.5">1000</text>
<text class="tl ye" x="45.3" y="611.76">2</text>
<text class="tl ye" x="45.3" y="665.76">0</text>
<text class="tl ye" x="45.3" y="719.76">−2</text>
<text class="tt xm" x="246.8" y="579.6">de_21_inner</text>
</g>
<g class="ax">
<path class="ln" d="M531.77 660.22L532.11 644.8L532.45 654.47L532.79 649.6L533.13 649.09L533.47 661.15L533.81 664.01L534.15 653.89L534.49 644.78L534.83 652.92L535.17 669.52L535.51 656.44L535.85 639.92L536.19 655.72L536.53 663.16L536.87 637.65L537.21 623.85L537.55 670.48L537.89 661.72L538.23 638.41L538.57 669.12L538.91 673.43L539.24 653.35L539.58 660.82L539.92 677.55L540.26 648.34L540.6 648.61L540.94 665.69L541.28 647.23L541.62 641.65L541.96 668.81L542.3 653.03L542.64 632.8L542.98 665.94L543.32 620.48L543.66 624.54L544 659.11L544.34 659.49L544.68 628.43L545.02 663L545.36 670L545.7 638.07L546.04 675.67L546.38 670.92L546.72 637.2L547.06 651.06L547.4 666.3L547.74 642.26L548.08 646.71L548.42 666.19L548.75 650.54L549.09 648.29L549.43 665.27L549.77 662.04L550.11 647.16L550.45 660.63L550.79 669.35L551.13 648.32L551.47 645.34L551.81 671.84L552.15 638.63L552.49 650.17L552.83 655.03L553.17 682.41L553.51 668.48L553.85 640.27L554.19 659.29L554.53 677.32L554.87 660.83L555.21 645.85L555.55 685.03L555.89 678.48L556.23 652.13L556.57 633.21L556.91 654.26L557.25 630.77L557.59 655.4L557.93 638.12L558.26 649.39L558.6 665.66L558.94 660.3L559.28 638.48L559.62 646.74L559.96 673.5L560.3 667.74L560.64 675.67L560.98 643.49L561.32 658.65L561.66 658.52L562 638.06L562.34 630.89L562.68 654.37L563.02 669.71L563.36 651.77L563.7 617.68L564.04 634.25L564.38 676.05L564.72 669.67L565.06 631.05L565.4 637.04L565.74 671.61L566.08 676.54L566.42 647.97L566.76 640.08L567.1 668.95L567.44 687.84L567.77 653.96L568.11 645.33L568.45 662.59L568.79 674.82L569.13 650.3L569.47 642.82L569.81 660.77L570.15 666.35L570.49 638.31L570.83 636.54L571.17 631.71L571.51 657.92L571.85 641.42L572.19 655.94L572.53 662.77L572.87 648.94L573.21 649.95L573.55 663.51L573.89 658.22L574.23 646.18L574.57 662.75L574.91 664.49L575.25 646.6L575.59 654.74L575.93 670.44L576.27 645.43L576.61 637.22L576.95 681.99L577.28 670.69L577.62 626.91L577.96 670.63L578.3 620.86L578.64 638.11L578.98 690.64L579.32 674.77L579.66 649.04L580 626.98L580.34 665.14L580.68 667.74L581.02 632.78L581.36 646.5L581.7 662.69L582.04 647.68L582.38 647.24L582.72 660.66L583.06 659.37L583.4 643.97L583.74 649.29L584.08 665.84L584.42 643.59L584.76 632.84L585.1 658.27L585.44 628.9L585.78 639.41L586.12 641.89L586.46 664.38L586.79 666.24L587.13 650.5L587.47 648.71L587.81 663.19L588.15 665.25L588.49 651.53L588.83 648.14L589.17 664.67L589.51 673.28L589.85 651.01L590.19 637.86L590.53 680.74L590.87 696.48L591.21 628.95L591.55 613.55L591.89 688.02L592.23 698.66L592.57 621.86L592.91 618.17L593.25 698.93L593.59 696.58L593.93 608.96L594.27 615.57L594.61 598.03L594.95 691.33L595.29 710.29L595.63 617.21L595.97 700.32L596.3 694.4L596.64 610.89L596.98 611.75L597.32 691.75L597.66 702.14L598 633.51L598.34 614.19L598.68 661.13L599.02 695.4L599.36 672.54L599.7 619.41L600.04 629.7L600.38 679.78L600.72 680.91L601.06 640.25L601.4 630.87L601.74 667.03L602.08 676.69L602.42 647.97L602.76 637.13L603.1 666.76L603.44 677.88L603.78 647.9L604.12 639.04L604.46 689.71L604.8 674.04L605.14 639.24L605.48 650.14L605.81 669.15L606.15 647.24L606.49 643.16L606.83 659.8L607.17 653.12L607.51 627.42L607.85 625.53L608.19 664.7L608.53 632.76L608.87 641.1L609.21 670.87L609.55 653.55L609.89 645.33L610.23 665.35L610.57 675.67L610.91 646.51L611.25 641.81L611.59 669.4L611.93 671.22L612.27 645.2L612.61 643.04L612.95 636.39L613.29 668.88L613.63 648.4L613.97 643.01L614.31 660.85L614.65 670.15L614.99 659.22L615.32 644.12L615.66 650.78L616 665.95L616.34 666.29L616.68 646.48L617.02 641.3L617.36 667.45L617.7 683.38L618.04 665.23L618.38 626.47L618.72 641.69L619.06 689.71L619.4 678L619.74 646.81L620.08 644.26L620.42 666.13L620.76 676.39L621.1 653.09L621.44 637.73L621.78 650.93L622.12 666.11L622.46 630.77L622.8 641.9L623.14 645.8L623.48 671.97L623.82 670.63L624.16 640.17L624.5 638.71L624.83 667.48L625.17 671.17L625.51 651.94L625.85 644.3L626.19 653.58L626.53 673.27L626.87 665.7L627.21 630.77L627.55 640.98L627.89 683.16L628.23 672.03L628.57 645.43L628.91 649.5L629.25 673.42L629.59 660.17L629.93 640.12L630.27 663.18L630.61 667.86L630.95 636.6L631.29 656.96L631.63 677.73L631.97 638.01L632.31 660.44L632.65 673.99L632.99 632.52L633.33 663.05L633.67 661.01L634.01 619.92L634.34 677.57L634.68 641.37L635.02 633.89L635.36 683.68L635.7 641.67L636.04 654.58L636.38 674.16L636.72 644.62L637.06 685.03L637.4 669.62L637.74 644.51L638.08 668.15L638.42 669.68L638.76 640.86L639.1 670.12L639.44 667.44L639.78 642.74L640.12 658.78L640.46 658.25L640.8 646.03L641.14 652.89L641.48 657.57L641.82 647.44L642.16 651.46L642.5 663.22L642.84 645.99L643.18 649.28L643.52 662.6L643.85 649.08L644.19 648.6L644.53 663.29L644.87 654.3L645.21 650.4L645.55 667.89L645.89 666.96L646.23 644.4L646.57 664.88L646.91 677.76L647.25 643.36L647.59 685.03L647.93 671.3L648.27 676.18L648.61 639.2L648.95 637.49L649.29 665.7L649.63 667.77L649.97 642.41L650.31 631.46L650.65 622.73L650.99 673.13L651.33 667.56L651.67 637.54L652.01 639.57L652.35 668.26L652.69 671.84L653.03 660.59L653.36 651.4L653.7 678.48L654.04 669.71L654.38 662.73L654.72 639.89L655.06 654.07L655.4 674.01L655.74 648.13L656.08 631.71L656.42 661.94L656.76 663.45L657.1 640.78L657.44 649.6L657.78 667.95L658.12 650.43L658.46 645.46L658.8 673.61L659.14 668.5L659.48 676.61L659.82 656.77L660.16 665.87L660.5 649.16L660.84 642.93L661.18 662.24L661.52 664.05L661.86 641.7L662.2 644.17L662.54 665.78L662.87 658.37L663.21 641.63L663.55 648.18L663.89 666.04L664.23 647.01L664.57 632.64L664.91 657.08L665.25 663.98L665.59 643.14L665.93 641.58L666.27 658.26L666.61 658.45L666.95 643.07L667.29 643.46L667.63 664.14L667.97 660.88L668.31 641.24L668.65 648.65L668.99 665.23L669.33 662.76L669.67 646.22L670.01 673.8L670.35 666.37L670.69 669.4L671.03 644.48L671.37 638.09L671.71 657.99L672.05 668.29L672.38 662.53L672.72 643.96L673.06 632.64L673.4 652.34L673.74 673.8L674.08 670.11L674.42 646.44L674.76 637.97L675.1 643.46L675.44 664.11L675.78 667.56L676.12 662.41L676.46 646.82L676.8 643.73L677.14 648.5L677.48 664.4L677.82 666.33L678.16 656.37L678.5 640.97L678.84 641.33L679.18 658.96L679.52 669.89L679.86 672.05L680.2 650.85L680.54 637.64L680.88 644.2L681.22 679.59L681.56 685.87L681.89 666.2L682.23 639.96L682.57 633.52L682.91 668.49L683.25 623.66L683.59 665.91L683.93 687.84L684.27 637.2L684.61 671.97L684.95 680.81L685.29 645.55L685.63 634.8L685.97 664.32L686.31 672.27L686.65 647.25L686.99 635.88L687.33 667.07L687.67 673.58L688.01 644.16L688.35 646.52L688.69 666.3L689.03 657.13L689.37 641.81L689.71 659.04L690.05 659.11L690.39 646.75L690.73 650.86L691.07 661.52L691.4 644.15L691.74 642.22L692.08 662.33L692.42 651.91L692.76 636.69L693.1 656.4L693.44 633.58L693.78 639.94L694.12 647.93L694.46 661.95L694.8 647.92L695.14 643.67L695.48 663.85L695.82 664.6L696.16 642.21L696.5 647.72L696.84 665.73L697.18 659.98L697.52 640.37L697.86 646.67L698.2 676.61L698.54 660.19L698.88 632.62L699.22 637.6L699.56 668.7L699.9 667.39L700.24 627.97L700.58 638.2L700.91 656.86L701.25 670.07L701.59 665.08L701.93 644.46L702.27 641.11L702.61 668.88L702.95 681.91L703.29 672.81L703.63 685.03L703.97 641.67L704.31 662.91L704.65 668.63L704.99 662.64L705.33 643.76L705.67 637.9L706.01 659.81L706.35 670.21L706.69 657.02L707.03 639.32L707.37 628.53L707.71 662.68L708.05 656.92L708.39 635.41L708.73 646.61L709.07 668.48L709.41 649.94L709.75 642.58L710.09 666.39L710.42 667.79L710.76 671.93L711.1 648.79L711.44 665.83L711.78 656.03L712.12 637.91L712.46 656.74L712.8 668.32L713.14 648.14L713.48 640.63L713.82 648.89L714.16 666.75L714.5 660.24L714.84 630.5L715.18 632.3L715.52 665.37L715.86 676.54L716.2 656.38L716.54 631.88L716.88 631.05L717.22 672.9L717.56 677.96L717.9 634.08L718.24 616.59L718.58 656.34L718.92 697.25L719.26 671.39L719.6 606.45L719.93 633.6L720.27 704.67L720.61 668.5L720.95 618.12L721.29 640.48L721.63 680.24L721.97 647.55L722.31 619.16L722.65 668.01L722.99 683.74L723.33 641.01L723.67 642.02L724.01 680.37L724.35 671.87L724.69 642.11L725.03 662.1L725.37 678.02L725.71 639.25L726.05 631.3L726.39 621.98L726.73 672.26L727.07 689.71L727.41 662.45L727.75 671.84L728.09 645.69L728.43 643.48L728.77 675.85L729.11 674.51L729.44 639.13L729.78 643.49L730.12 670.88L730.46 665.18L730.8 643.44L731.14 645.94L731.48 666.8L731.82 667.29L732.16 646.61L732.5 642.7L732.84 655.62L733.18 662.99L733.52 660.48L733.86 648.54L734.2 646.98L734.54 654.65L734.88 667.35L735.22 665.13L735.56 646.77L735.9 641.1L736.24 646.99L736.58 662.06L736.92 662.85L737.26 651.08L737.6 644.06L737.94 645.91L738.28 659.4L738.62 661.86L738.95 646.73L739.29 638.06L739.63 643.19L739.97 663.58L740.31 663.74L740.65 641.72L740.99 638.2L741.33 657.48L741.67 669.56L742.01 659.87L742.35 633.37L742.69 635.68L743.03 672.6L743.37 670.95L743.71 630.07L744.05 613.93L744.39 647.69L744.73 680.01L745.07 671.11L745.41 628.94L745.75 628.06L746.09 613.93L746.43 695.44L746.77 700.93L747.11 620.84L747.45 638.12L747.79 677.52L748.13 670.93L748.46 640.65L748.8 636.66L749.14 663.37L749.48 680.28L749.82 671.96L750.16 637.73L750.5 641.24L750.84 687.84L751.18 682L751.52 654.18L751.86 638.23L752.2 648.67L752.54 672.58L752.88 668.79L753.22 647.04L753.56 645.05L753.9 663.78L754.24 665.36L754.58 647.58L754.92 643.64L755.26 655.07L755.6 659.01L755.94 647.88L756.28 646.11L756.62 657.64L756.96 660.74L757.3 647.62L757.64 646.63L757.97 643.49L758.31 660.75L758.65 645.26L758.99 652.72L759.33 665.43L759.67 655.87L760.01 651.12L760.35 665.11L760.69 670.2L761.03 647.5L761.37 643.9L761.71 667.48L762.05 663.41L762.39 637.88L762.73 646.54L763.07 664.21L763.41 662.9L763.75 645.52L764.09 648.99L764.43 670.74L764.77 665.8L765.11 673.8L765.45 644.58L765.79 661.56L766.13 660.92L766.47 646.73L766.81 641.78L767.15 656.41L767.48 662.27L767.82 654.66L768.16 640.31L768.5 642.4L768.84 656.73L769.18 657.3L769.52 649.55L769.86 638.92L770.2 639.89L770.54 655.31L770.88 659.79L771.22 655.09L771.56 640.61L771.9 641.01L772.24 656.01L772.58 668.93L772.92 665.41L773.26 638.2L773.6 631.82L773.94 643.76L774.28 663.27L774.62 662.69L774.96 641.3L775.3 636.26L775.64 629.28L775.98 664.65L776.32 667.93L776.66 645.31L776.99 636.25L777.33 648.69L777.67 671.78L778.01 667.07L778.35 643.16L778.69 642.16L779.03 663.75L779.37 668.62L779.71 653.71L780.05 645.07L780.39 653.76L780.73 638.26L781.07 664.84L781.41 645.53L781.75 650.11L782.09 669.18L782.43 665.76L782.77 644.84L783.11 652.1L783.45 677.55L783.79 665.52L784.13 650.98L784.47 656.83L784.81 666.95L785.15 657.14L785.49 652.19L785.83 660.46L786.17 663.23L786.5 653.83L786.84 652.41L787.18 658.57L787.52 658.17L787.86 653.53L788.2 652.83L788.54 659.22L788.88 661.14L789.22 653.08L789.56 650.19L789.9 658.01L790.24 666.18L790.58 662.16L790.92 645.36L791.26 643.18L791.6 656.58L791.94 665.78L792.28 664.98L792.62 654.7L792.96 644.15L793.3 640.86L793.64 642L793.98 659.88L794.32 669.97L794.66 674.84L795 672.91L795.34 660.26L795.68 634.88L796.01 632.1L796.35 632.87L796.69 611.5L797.03 659.16L797.37 693.45L797.71 674.02L798.05 669.32L798.39 636.75L798.73 631.45L799.07 643.54L799.41 669.57L799.75 668.54L800.09 646.24L800.43 644.59L800.77 662.81L801.11 667.75L801.45 641.88L801.79 645.46L802.13 667.98L802.47 651.45L802.81 650.52L803.15 662.41L803.49 655.95L803.83 653.57L804.17 662.48L804.51 657.48L804.85 651.04L805.19 668.93L805.52 658.5L805.86 648.47L806.2 669.19L806.54 663.51L806.88 647.94L807.22 670.88L807.56 670.44L807.9 642.25L808.24 663.3L808.58 670.61L808.92 644L809.26 649.66L809.6 675.84L809.94 656.14L810.28 641.43L810.62 666.32L810.96 668.88L811.3 641.21L811.64 646.25L811.98 636.95L812.32 661.65L812.66 678.48L813 664.5L813.34 668.97L813.68 646.85L814.02 643.94L814.36 664.73L814.7 663.23L815.03 641.26L815.37 645.54L815.71 669.22L816.05 662.28L816.39 640.74L816.73 646.91L817.07 668.94L817.41 659.41L817.75 632.27L818.09 640.55L818.43 668.48L818.77 668.29L819.11 640.42L819.45 639.3L819.79 664.15L820.13 673.5L820.47 661.47L820.81 646.83L821.15 647.78L821.49 667.55L821.83 674.19L822.17 648.04L822.51 635.45L822.85 653.6L823.19 673.47L823.53 667.73L823.87 646.83L824.21 648.11L824.54 676.54L824.88 673.48L825.22 640.38L825.56 679.42L825.9 671.39L826.24 667.83L826.58 639.49L826.92 650.8L827.26 637.32L827.6 653.76L827.94 640.26L828.28 668.05L828.62 668.91L828.96 644.32L829.3 649.67L829.64 664.19L829.98 650.53L830.32 644.46L830.66 665.37L831 662.37L831.34 648.4L831.68 659.91L832.02 666.95L832.36 650.12L832.7 650.92L833.04 675.85L833.38 662.78L833.72 685.03L834.05 669.46L834.39 671.68L834.73 631.1L835.07 625.16L835.41 670.58L835.75 647.25L836.09 639.45L836.43 668.03L836.77 669.7L837.11 643.58L837.45 651.53L837.79 681.32L838.13 651.17L838.47 638.13L838.81 672.27L839.15 674.1L839.49 637.28L839.83 691.95L840.17 672.88L840.51 656.54L840.85 628.5L841.19 662.66L841.53 672.93L841.87 635.39L842.21 633.95L842.55 663.1L842.89 666.47L843.23 638.43L843.56 632.7L843.9 665.98L844.24 679.49L844.58 639.62L844.92 619.65L845.26 641.87L845.6 680.33L845.94 677.33L846.28 617.12L846.62 632.61L846.96 697.19L847.3 683.96L847.64 681.38L847.98 646.56L848.32 635.77L848.66 644.17L849 665.76L849.34 669.76L849.68 662.74L850.02 641.63L850.36 638.58L850.7 664.46L851.04 675.96L851.38 633.58L851.72 637.01L852.06 642.84L852.4 669.47L852.74 669.45L853.07 649.73L853.41 648.25L853.75 669.65L854.09 679.42L854.43 639.72L854.77 647.94L855.11 674.65L855.45 648.71L855.79 641.66L856.13 669.92L856.47 660.66L856.81 637.66L857.15 660.92L857.49 660.02L857.83 631.45L858.17 629.84L858.51 663.72L858.85 633.42L859.19 658.38L859.53 674.15L859.87 644.4L860.21 651.35L860.55 674.37L860.89 679.42L861.23 643.99L861.57 667.65L861.91 661.72L862.25 643.38L862.58 657.53L862.92 664.24L863.26 649.47L863.6 647.21L863.94 659.64L864.28 659.44L864.62 645.96L864.96 646.88L865.3 659.33L865.64 659.97L865.98 644.89L866.32 646.25L866.66 676.26L867 673.49L867.34 638.49L867.68 634.29L868.02 673.47L868.36 678.33L868.7 623.86L869.04 602.23L869.38 594.29L869.72 710.2L870.06 662.92L870.4 602.5L870.74 623.41L871.08 702.22L871.42 698.81L871.76 714.96L872.09 605L872.43 631.07L872.77 689.77L873.11 691.27L873.45 648.05L873.79 626.33L874.13 630.78L874.47 663.53L874.81 680.1L875.15 684.03L875.49 660.6L875.83 636.02L876.17 635.9L876.51 648.48L876.85 680.91L877.19 693.45L877.53 674.53L877.87 639.6L878.21 622.91L878.55 638.98L878.89 670.48L879.23 680.32"/>
<rect class="fr" x="514.4" y="588.5" width="382.2" height="132.4"/>
<path class="tk" d="M531.77 720.9v5.2M599.7 720.9v5.2M667.63 720.9v5.2M735.56 720.9v5.2M803.49 720.9v5.2M871.42 720.9v5.2M514.4 622.8h-5.2M514.4 659h-5.2M514.4 695.2h-5.2"/>
<text class="tl xm" x="531.77" y="744.5">0</text>
<text class="tl xm" x="599.7" y="744.5">200</text>
<text class="tl xm" x="667.63" y="744.5">400</text>
<text class="tl xm" x="735.56" y="744.5">600</text>
<text class="tl xm" x="803.49" y="744.5">800</text>
<text class="tl xm" x="871.42" y="744.5">1000</text>
<text class="tl ye" x="504" y="628.56">0.25</text>
<text class="tl ye" x="504" y="664.76">0.00</text>
<text class="tl ye" x="504" y="700.96">−0.25</text>
<text class="tt xm" x="705.5" y="579.6">de_21_ball</text>
</g>
<g class="ax">
<path class="ln" d="M990.57 649.5L990.91 648.23L991.25 648.07L991.59 644.24L991.93 652.29L992.27 650.23L992.61 649.1L992.95 647.61L993.29 648.27L993.63 650.32L993.97 653.11L994.31 655.28L994.65 655.42L994.99 653.96L995.33 651.8L995.67 656.03L996.01 651.24L996.35 652.56L996.69 654.36L997.03 654.59L997.37 653.91L997.71 652.66L998.04 656.03L998.38 648.86L998.72 648.4L999.06 649.52L999.4 647.61L999.74 652.67L1000.08 653.04L1000.42 652.4L1000.76 651.29L1001.1 650.44L1001.44 650.48L1001.78 651.73L1002.12 653.43L1002.46 654.86L1002.8 654.98L1003.14 653.86L1003.48 652.77L1003.82 652.03L1004.16 652.04L1004.5 652.77L1004.84 653.72L1005.18 654.69L1005.52 654.58L1005.86 655.47L1006.2 651.82L1006.54 651L1006.88 650.92L1007.22 649.86L1007.55 652.54L1007.89 653.15L1008.23 652.85L1008.57 651.91L1008.91 650.8L1009.25 650.26L1009.59 650.61L1009.93 651.47L1010.27 652.25L1010.61 652.71L1010.95 652.57L1011.29 651.83L1011.63 650.82L1011.97 650.09L1012.31 649.99L1012.65 650.62L1012.99 649.48L1013.33 652.64L1013.67 652.91L1014.01 652.54L1014.35 653.22L1014.69 650.88L1015.03 650.46L1015.37 650.56L1015.71 651.08L1016.05 651.95L1016.39 654.62L1016.73 657.45L1017.06 659.34L1017.4 658.68L1017.74 654.55L1018.08 647.7L1018.42 642.4L1018.76 642L1019.1 666.32L1019.44 645.97L1019.78 649.97L1020.12 635.45L1020.46 658.97L1020.8 659.55L1021.14 658.1L1021.48 654.57L1021.82 649.9L1022.16 643.84L1022.5 640.08L1022.84 638.62L1023.18 640.7L1023.52 644.62L1023.86 649.26L1024.2 653.28L1024.54 655.94L1024.88 657.52L1025.22 658.57L1025.56 658.11L1025.9 656.22L1026.24 653.64L1026.57 651.03L1026.91 649.07L1027.25 648.65L1027.59 650.2L1027.93 652.13L1028.27 654.1L1028.61 656.6L1028.95 658.56L1029.29 660.71L1029.63 657.65L1029.97 655.06L1030.31 651.71L1030.65 648.33L1030.99 645.95L1031.33 645.79L1031.67 647.84L1032.01 642.93L1032.35 653.14L1032.69 655.72L1033.03 656.23L1033.37 654.8L1033.71 652.32L1034.05 649.76L1034.39 648.54L1034.73 649.35L1035.07 652.01L1035.41 654.99L1035.75 659.77L1036.08 656.54L1036.42 655.12L1036.76 652.94L1037.1 650.8L1037.44 649.72L1037.78 649.95L1038.12 651.39L1038.46 653.56L1038.8 654.74L1039.14 654.94L1039.48 654.33L1039.82 653.05L1040.16 651.19L1040.5 650.25L1040.84 650.19L1041.18 650.87L1041.52 656.03L1041.86 653.83L1042.2 654.98L1042.54 655.1L1042.88 648.55L1043.22 652.75L1043.56 651.12L1043.9 649.84L1044.24 649.34L1044.58 649.57L1044.92 650.44L1045.26 651.77L1045.59 653.25L1045.93 654.4L1046.27 655.14L1046.61 655.39L1046.95 656.03L1047.29 654.37L1047.63 653.37L1047.97 652.25L1048.31 648.55L1048.65 650.18L1048.99 649.96L1049.33 649.88L1049.67 649.9L1050.01 650.14L1050.35 650.54L1050.69 651.06L1051.03 651.59L1051.37 652.19L1051.71 652.6L1052.05 652.98L1052.39 653.32L1052.73 655.09L1053.07 653.67L1053.41 653.6L1053.75 653.63L1054.09 654.85L1054.43 655.62L1054.77 653.46L1055.1 648.75L1055.44 640.51L1055.78 629.84L1056.12 619.09L1056.46 613.35L1056.8 615.46L1057.14 624.45L1057.48 638.25L1057.82 610.19L1058.16 665L1058.5 677.33L1058.84 680.55L1059.18 679.98L1059.52 672.22L1059.86 659.29L1060.2 642.08L1060.54 693.45L1060.88 608.79L1061.22 606.4L1061.56 611.36L1061.9 625.13L1062.24 594.29L1062.58 658.59L1062.92 667.89L1063.26 594.29L1063.6 687.84L1063.94 649.94L1064.28 631.67L1064.61 624.72L1064.95 629.41L1065.29 638.36L1065.63 649.91L1065.97 661.28L1066.31 666.82L1066.65 664.9L1066.99 657.26L1067.33 646.43L1067.67 636.19L1068.01 629.15L1068.35 628.05L1068.69 636.86L1069.03 621.42L1069.37 662.09L1069.71 667.07L1070.05 664.61L1070.39 671.93L1070.73 644.24L1071.07 639.53L1071.41 639.16L1071.75 643.1L1072.09 651.81L1072.43 657.08L1072.77 659.02L1073.11 657.69L1073.45 654.3L1073.79 649.22L1074.12 644.19L1074.46 641.09L1074.8 643.78L1075.14 650.72L1075.48 636.95L1075.82 660.4L1076.16 657.79L1076.5 651.64L1076.84 661.64L1077.18 643.55L1077.52 645.46L1077.86 651.35L1078.2 656.83L1078.54 659.15L1078.88 657.74L1079.22 653.24L1079.56 648.21L1079.9 647.78L1080.24 650.58L1080.58 655.2L1080.92 659.25L1081.26 657.6L1081.6 660.71L1081.94 644.18L1082.28 642.08L1082.62 641.06L1082.96 653.22L1083.3 655.06L1083.63 652.68L1083.97 649.1L1084.31 648.52L1084.65 651.95L1084.99 657.1L1085.33 658.73L1085.67 654.45L1086.01 648.1L1086.35 647.14L1086.69 653.56L1087.03 658.92L1087.37 657.34L1087.71 649.3L1088.05 644.12L1088.39 649.35L1088.73 658.87L1089.07 661.64L1089.41 648.9L1089.75 640.88L1090.09 645.69L1090.43 638.26L1090.77 657L1091.11 648.82L1091.45 640.96L1091.79 649.11L1092.13 660.11L1092.47 661.02L1092.81 652.75L1093.14 648.2L1093.48 654.49L1093.82 665.1L1094.16 658.85L1094.5 669.13L1094.84 641.42L1095.18 653.44L1095.52 657.85L1095.86 648.86L1096.2 638.91L1096.54 644.04L1096.88 659.38L1097.22 660.09L1097.56 644L1097.9 638.55L1098.24 654.05L1098.58 633.58L1098.92 656.13L1099.26 637.64L1099.6 644.33L1099.94 671L1100.28 665.53L1100.62 651.16L1100.96 646.48L1101.3 654.51L1101.64 665.07L1101.98 658.7L1102.32 646.39L1102.65 644.56L1102.99 639.19L1103.33 658.56L1103.67 652.17L1104.01 641.82L1104.35 645.41L1104.69 655.54L1105.03 658.4L1105.37 652.13L1105.71 645.51L1106.05 648.53L1106.39 656.53L1106.73 658.88L1107.07 653.42L1107.41 648.44L1107.75 649.72L1108.09 654.29L1108.43 656.06L1108.77 654.23L1109.11 650.65L1109.45 650.39L1109.79 652.7L1110.13 655.87L1110.47 655.29L1110.81 652L1111.15 649.5L1111.49 649.39L1111.83 652.54L1112.16 653.94L1112.5 651.65L1112.84 648.07L1113.18 646.7L1113.52 644.24L1113.86 653.52L1114.2 653.89L1114.54 650.12L1114.88 647.43L1115.22 649.17L1115.56 652.66L1115.9 654.27L1116.24 652.94L1116.58 650.59L1116.92 649.78L1117.26 655.09L1117.6 653.52L1117.94 653.73L1118.28 652.02L1118.62 649.71L1118.96 649.88L1119.3 652.44L1119.64 654.3L1119.98 653.14L1120.32 650.26L1120.66 648.47L1121 649.56L1121.34 647.61L1121.67 654.01L1122.01 652.81L1122.35 649.97L1122.69 648.57L1123.03 649.81L1123.37 652.48L1123.71 653.97L1124.05 653.77L1124.39 651.82L1124.73 649.65L1125.07 649.61L1125.41 655.09L1125.75 653.6L1126.09 654.14L1126.43 653.37L1126.77 651.88L1127.11 650.06L1127.45 649.45L1127.79 650.66L1128.13 652.43L1128.47 653.54L1128.81 653.74L1129.15 652.31L1129.49 650.51L1129.83 649.47L1130.17 649.77L1130.51 651.47L1130.85 653.83L1131.18 655.47L1131.52 655.46L1131.86 653.15L1132.2 649.37L1132.54 648.31L1132.88 650.34L1133.22 654.44L1133.56 658.09L1133.9 659.77L1134.24 654.31L1134.58 649.42L1134.92 646.13L1135.26 646.74L1135.6 651.17L1135.94 656.43L1136.28 658.18L1136.62 653.44L1136.96 645.59L1137.3 638.82L1137.64 643.56L1137.98 651.06L1138.32 656.78L1138.66 658.84L1139 653.35L1139.34 649.07L1139.68 648.82L1140.02 651.64L1140.36 655.89L1140.69 658.91L1141.03 656.81L1141.37 651.49L1141.71 646.48L1142.05 647.13L1142.39 652.56L1142.73 655.78L1143.07 656.45L1143.41 659.77L1143.75 647.65L1144.09 646.83L1144.43 644.8L1144.77 653.62L1145.11 654.6L1145.45 652.26L1145.79 649.68L1146.13 649.43L1146.47 651.19L1146.81 654.33L1147.15 655.96L1147.49 654.21L1147.83 651.47L1148.17 649.34L1148.51 656.03L1148.85 652.95L1149.19 654.46L1149.53 648.55L1149.87 651.09L1150.2 649.69L1150.54 650.21L1150.88 651.88L1151.22 654.11L1151.56 653.72L1151.9 651.52L1152.24 648.55L1152.58 648.92L1152.92 651.06L1153.26 653.65L1153.6 654.42L1153.94 652.78L1154.28 650.36L1154.62 649.77L1154.96 651.22L1155.3 653.4L1155.64 654.3L1155.98 653.45L1156.32 655.09L1156.66 650.44L1157 651.09L1157.34 653.17L1157.68 654.67L1158.02 654.15L1158.36 652.26L1158.7 651.17L1159.04 651.14L1159.38 652.63L1159.71 654.3L1160.05 654.43L1160.39 652.23L1160.73 649.48L1161.07 650.26L1161.41 652.17L1161.75 653.6L1162.09 655.09L1162.43 652.37L1162.77 650.52L1163.11 650.23L1163.45 651.77L1163.79 654.12L1164.13 654.58L1164.47 652.7L1164.81 650.21L1165.15 649.34L1165.49 650.93L1165.83 653.19L1166.17 654.06L1166.51 652.72L1166.85 650.42L1167.19 649.33L1167.53 650.11L1167.87 653.86L1168.21 657.61L1168.55 656.93L1168.89 650.74L1169.22 641.56L1169.56 642.2L1169.9 652.53L1170.24 665.84L1170.58 670.11L1170.92 653.03L1171.26 631.39L1171.6 627.5L1171.94 646.14L1172.28 669.83L1172.62 674.14L1172.96 662.22L1173.3 640.64L1173.64 625.16L1173.98 631.02L1174.32 653.82L1174.66 680.76L1175 594.85L1175.34 652.12L1175.68 614.75L1176.02 615.09L1176.36 637.38L1176.7 668.63L1177.04 713.09L1177.38 667.5L1177.72 639.95L1178.06 620.69L1178.4 627.02L1178.73 648.02L1179.07 668.01L1179.41 674.95L1179.75 662.59L1180.09 642.88L1180.43 621.42L1180.77 633.07L1181.11 645.51L1181.45 660.75L1181.79 666.58L1182.13 659.88L1182.47 647.23L1182.81 638.95L1183.15 672.87L1183.49 648.36L1183.83 655L1184.17 657.17L1184.51 655.63L1184.85 651.84L1185.19 647.08L1185.53 645.97L1185.87 648.51L1186.21 653.08L1186.55 656.8L1186.89 657.08L1187.23 654.11L1187.57 650.3L1187.91 648.28L1188.24 648.91L1188.58 651.94L1188.92 655.35L1189.26 657.16L1189.6 656.4L1189.94 653.4L1190.28 649.57L1190.62 647.57L1190.96 649.38L1191.3 653.99L1191.64 658.12L1191.98 658.37L1192.32 654.12L1192.66 642.93L1193 645.25L1193.34 645.93L1193.68 649.99L1194.02 659.77L1194.36 658.23L1194.7 657.25L1195.04 653.45L1195.38 649.38L1195.72 647.48L1196.06 648.46L1196.4 651.28L1196.74 653.49L1197.08 654.33L1197.42 653.9L1197.75 652.37L1198.09 650.23L1198.43 648.73L1198.77 648.93L1199.11 650.64L1199.45 652.36L1199.79 653.27L1200.13 653.33L1200.47 652.39L1200.81 650.11L1201.15 648.21L1201.49 647.53L1201.83 648.69L1202.17 651.28L1202.51 644.24L1202.85 654.92L1203.19 653.55L1203.53 650.32L1203.87 647.28L1204.21 646.93L1204.55 649.67L1204.89 653.51L1205.23 655.91L1205.57 656.8L1205.91 654.17L1206.25 657.9L1206.59 648.07L1206.93 648.19L1207.26 650.52L1207.6 653.44L1207.94 654.8L1208.28 653.1L1208.62 648.67L1208.96 644.43L1209.3 645.49L1209.64 650.68L1209.98 642.93L1210.32 656.69L1210.66 651.75L1211 646.76L1211.34 657.9L1211.68 650.2L1212.02 654.67L1212.36 655.41L1212.7 652.5L1213.04 648.59L1213.38 647.68L1213.72 651.67L1214.06 656.43L1214.4 656.01L1214.74 650.23L1215.08 643.87L1215.42 648.69L1215.76 654.77L1216.1 656.77L1216.44 659.77L1216.77 648.95L1217.11 649.23L1217.45 653.41L1217.79 655.31L1218.13 653.27L1218.47 650.25L1218.81 650.12L1219.15 652.47L1219.49 654.75L1219.83 653.15L1220.17 649.12L1220.51 648.32L1220.85 652.26L1221.19 647.61L1221.53 652.43L1221.87 648.93L1222.21 649.5L1222.55 652.25L1222.89 654L1223.23 652.43L1223.57 650.07L1223.91 649.94L1224.25 652.6L1224.59 653.99L1224.93 652.46L1225.27 650.12L1225.61 650.35L1225.95 652.85L1226.28 654.24L1226.62 652.87L1226.96 650.94L1227.3 650.7L1227.64 653.02L1227.98 654.67L1228.32 653.47L1228.66 651.46L1229 651.27L1229.34 652.59L1229.68 654.05L1230.02 653.56L1230.36 651.62L1230.7 650.87L1231.04 652.03L1231.38 654.62L1231.72 654.47L1232.06 651.49L1232.4 649.67L1232.74 651.38L1233.08 653.35L1233.42 655.09L1233.76 652.06L1234.1 650.32L1234.44 650.48L1234.78 653.38L1235.12 654.73L1235.46 652.45L1235.79 649.68L1236.13 650L1236.47 652.56L1236.81 654.34L1237.15 652.56L1237.49 649.81L1237.83 649.49L1238.17 651.99L1238.51 653.78L1238.85 648.55L1239.19 649.48L1239.53 649.12L1239.87 652.3L1240.21 655.03L1240.55 653.73L1240.89 650.56L1241.23 649.97L1241.57 652.94L1241.91 655.46L1242.25 654.17L1242.59 650.45L1242.93 656.03L1243.27 651.86L1243.61 655.07L1243.95 647.61L1244.29 650.51L1244.63 648.44L1244.97 650.92L1245.3 655.54L1245.64 656.56L1245.98 652.78L1246.32 648.95L1246.66 650.21L1247 654.44L1247.34 658.21L1247.68 656.68L1248.02 650.81L1248.36 646.08L1248.7 648.84L1249.04 655.73L1249.38 659.18L1249.72 661.08L1250.06 647.75L1250.4 641.62L1250.74 647.81L1251.08 653.11L1251.42 656.31L1251.76 654.52L1252.1 650.47L1252.44 647.99L1252.78 648.67L1253.12 652.34L1253.46 656.34L1253.8 657.78L1254.14 655.18L1254.48 651.09L1254.81 648.82L1255.15 649.9L1255.49 653.9L1255.83 656.2L1256.17 659.77L1256.51 650.3L1256.85 643.49L1257.19 645.79L1257.53 649.64L1257.87 654.76L1258.21 656.88L1258.55 654.42L1258.89 650.61L1259.23 648.49L1259.57 650.58L1259.91 654.41L1260.25 656.33L1260.59 655.68L1260.93 657.9L1261.27 651.63L1261.61 652.42L1261.95 654.09L1262.29 655L1262.63 654.15L1262.97 651.8L1263.31 649.69L1263.65 650.43L1263.99 652.71L1264.32 648.55L1264.66 652.93L1265 650.5L1265.34 649.14L1265.68 650.76L1266.02 653.54L1266.36 654.43L1266.7 652.87L1267.04 650.91L1267.38 650.58L1267.72 652.11L1268.06 654.11L1268.4 655.09L1268.74 652.6L1269.08 650.7L1269.42 650.68L1269.76 652.35L1270.1 653.67L1270.44 653.23L1270.78 651.34L1271.12 649.5L1271.46 649.48L1271.8 651.17L1272.14 647.61L1272.48 652.36L1272.82 650.37L1273.16 648.42L1273.5 649.39L1273.83 652.44L1274.17 654.55L1274.51 653.66L1274.85 651.48L1275.19 650.25L1275.53 651.07L1275.87 653.38L1276.21 655.09L1276.55 653.42L1276.89 650.94L1277.23 650.14L1277.57 651.68L1277.91 653.62L1278.25 653.81L1278.59 652.3L1278.93 650.08L1279.27 650.06L1279.61 652.32L1279.95 653.86L1280.29 653.15L1280.63 651.2L1280.97 650.36L1281.31 651.13L1281.65 653.2L1281.99 654.19L1282.33 652.44L1282.67 650.41L1283.01 649.89L1283.34 651.78L1283.68 654.91L1284.02 654.91L1284.36 651.51L1284.7 648.46L1285.04 649.69L1285.38 653.54L1285.72 656.25L1286.06 655.19L1286.4 651.02L1286.74 646.73L1287.08 648.55L1287.42 656.21L1287.76 662.31L1288.1 658.43L1288.44 647.49L1288.78 640.47L1289.12 636.39L1289.46 653.39L1289.8 662.73L1290.14 661.69L1290.48 653.04L1290.82 643.83L1291.16 666.32L1291.5 650.98L1291.84 659.02L1292.18 661.74L1292.52 657.26L1292.85 650.65L1293.19 646.78L1293.53 648L1293.87 652.65L1294.21 656.16L1294.55 656.79L1294.89 654.54L1295.23 651.31L1295.57 649.55L1295.91 650.22L1296.25 652.45L1296.59 654.7L1296.93 655.32L1297.27 654.02L1297.61 652.26L1297.95 650.41L1298.29 650.23L1298.63 651.69L1298.97 653.7L1299.31 654.91L1299.65 654.57L1299.99 653.15L1300.33 651.76L1300.67 651.04L1301.01 651.26L1301.35 652.25L1301.69 653.85L1302.03 654.42L1302.36 653.32L1302.7 651.67L1303.04 649.4L1303.38 648.48L1303.72 649.49L1304.06 647.61L1304.4 653.43L1304.74 653.97L1305.08 652.73L1305.42 650.87L1305.76 649.68L1306.1 649.93L1306.44 651.36L1306.78 652.9L1307.12 653.62L1307.46 653.53L1307.8 652.74L1308.14 654.16L1308.48 651.09L1308.82 651L1309.16 651.87L1309.5 652.95L1309.84 653.31L1310.18 653.11L1310.52 652.54L1310.86 651.78L1311.2 651.21L1311.54 651.19L1311.87 651.76L1312.21 652.81L1312.55 653.65L1312.89 653.68L1313.23 652.8L1313.57 651.56L1313.91 650.56L1314.25 650.24L1314.59 650.81L1314.93 652.36L1315.27 653.96L1315.61 654.61L1315.95 653.85L1316.29 651.94L1316.63 649.96L1316.97 648.86L1317.31 649.26L1317.65 651.11L1317.99 653.27L1318.33 654.8L1318.67 655.28L1319.01 654.28L1319.35 651.29L1319.69 646.55L1320.03 642.91L1320.37 643.93L1320.71 650.85L1321.05 660.15L1321.38 668.25L1321.72 670.52L1322.06 663.62L1322.4 647.8L1322.74 632.15L1323.08 624.25L1323.42 628.34L1323.76 647.24L1324.1 667.94L1324.44 680.6L1324.78 679.29L1325.12 606.83L1325.46 640.34L1325.8 626.61L1326.14 627.17L1326.48 640.42L1326.82 663.91L1327.16 687.05L1327.5 693.21L1327.84 713.09L1328.18 606.83L1328.52 630.87L1328.86 616.85L1329.2 627.96L1329.54 713.09L1329.88 676.24L1330.22 687.88L1330.56 680.77L1330.89 664.94L1331.23 649.61L1331.57 637.01L1331.91 634.88L1332.25 642.69L1332.59 620.48L1332.93 661.46L1333.27 663.39L1333.61 649.18L1333.95 633.16L1334.29 630.31L1334.63 639.09L1334.97 653.36L1335.31 671.93L1335.65 667.46L1335.99 662.61L1336.33 655.86L1336.67 653.07L1337.01 653.48L1337.35 655.48L1337.69 657.16L1338.03 656.86"/>
<rect class="fr" x="973.2" y="588.5" width="382.2" height="132.4"/>
<path class="tk" d="M990.57 720.9v5.2M1058.5 720.9v5.2M1126.43 720.9v5.2M1194.36 720.9v5.2M1262.29 720.9v5.2M1330.22 720.9v5.2M973.2 617.2h-5.2M973.2 652h-5.2M973.2 686.8h-5.2"/>
<text class="ts xm" x="990.57" y="740.3">0</text>
<text class="ts xm" x="1058.5" y="740.3">200</text>
<text class="ts xm" x="1126.43" y="740.3">400</text>
<text class="ts xm" x="1194.36" y="740.3">600</text>
<text class="ts xm" x="1262.29" y="740.3">800</text>
<text class="ts xm" x="1330.22" y="740.3">1000</text>
<text class="ts ye" x="962.8" y="621.16">2</text>
<text class="ts ye" x="962.8" y="655.96">0</text>
<text class="ts ye" x="962.8" y="690.76">−2</text>
<text class="tt xm" x="1164.3" y="579.6">de_21_outer</text>
</g>
<text class="wm wl ws" transform="translate(1040.8 717) scale(1.13 1)">知乎</text>
<text class="wm wa ws" transform="translate(1137.8 712.4) scale(1.04 1)">@</text>
<text class="wm wn ws" x="1178.7 1217.4 1256.4 1296.5" y="717">建模先锋</text>
<text class="wm wl wf" transform="translate(1039 715.2) scale(1.13 1)">知乎</text>
<text class="wm wa wf" transform="translate(1136 710.6) scale(1.04 1)">@</text>
<text class="wm wn wf" x="1176.9 1215.6 1254.6 1294.7" y="715.2">建模先锋</text>
</svg>
</body>
</html>
